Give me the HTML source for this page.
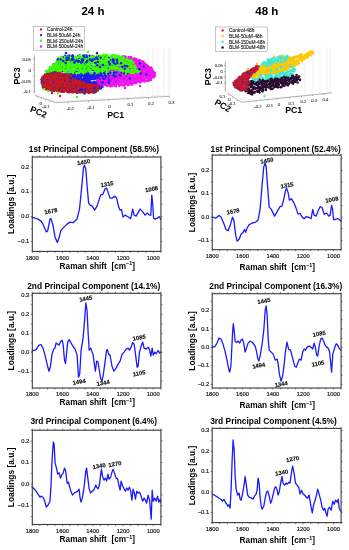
<!DOCTYPE html><html><head><meta charset="utf-8"><style>html,body{margin:0;padding:0;background:#fff;width:349px;height:550px;overflow:hidden}svg{display:block}</style></head><body><svg width="349" height="550" viewBox="0 0 349 550" font-family='"Liberation Sans", Arial, sans-serif'>
<rect width="349" height="550" fill="#fff"/>
<text x="92.90" y="15.40" font-size="11.5" font-weight="bold" text-anchor="middle" fill="#000">24 h</text>
<text x="266.80" y="15.30" font-size="11.5" font-weight="bold" text-anchor="middle" fill="#000">48 h</text>
<g stroke="#e4e4e4" stroke-width="0.5" fill="none">
<line x1="147.9" y1="48" x2="147.9" y2="96"/>
<line x1="152.9" y1="48" x2="152.9" y2="96"/>
<line x1="157.9" y1="48" x2="157.9" y2="96"/>
<line x1="163.7" y1="48" x2="163.7" y2="96"/>
<line x1="168.7" y1="48" x2="168.7" y2="96"/>
<path d="M34.4,55 L34.4,93 L55,101.5 L170,95 L170,48"/>
</g>
<g stroke="#666" stroke-width="0.5" fill="none"><path d="M34.4,55.5 L34.4,93.5 M34.8,95.3 L55.4,102.6 L169.6,96.3"/></g>
<path d="M68.0,101.9 l0,1.6 M88.6,100.8 l0,1.6 M108.5,99.7 l0,1.6 M128.1,98.6 l0,1.6 M148.6,97.5 l0,1.6 M169.2,96.3 l0,1.6 M37.3,96.1 l-0.6,1.5 M41.6,97.6 l-0.6,1.5 M46.0,99.2 l-0.6,1.5 M50.2,100.7 l-0.6,1.5 M34.4,59.1 l-1.4,0 M34.4,64.7 l-1.4,0 M34.4,70.3 l-1.4,0 M34.4,75.7 l-1.4,0 M34.4,81.1 l-1.4,0 M34.4,86.2 l-1.4,0 M34.4,91.4 l-1.4,0" stroke="#777" stroke-width="0.45" fill="none"/>
<text x="31.00" y="60.60" font-size="4.4" text-anchor="end" fill="#333" stroke="#333" stroke-width="0.08">0.05</text>
<text x="31.00" y="71.80" font-size="4.4" text-anchor="end" fill="#333" stroke="#333" stroke-width="0.08">0</text>
<text x="31.00" y="82.60" font-size="4.4" text-anchor="end" fill="#333" stroke="#333" stroke-width="0.08">-0.05</text>
<text x="31.00" y="92.90" font-size="4.4" text-anchor="end" fill="#333" stroke="#333" stroke-width="0.08">-0.1</text>
<text x="70.30" y="110.30" font-size="4.4" text-anchor="middle" fill="#333" stroke="#333" stroke-width="0.08">-0.2</text>
<text x="91.00" y="109.30" font-size="4.4" text-anchor="middle" fill="#333" stroke="#333" stroke-width="0.08">-0.1</text>
<text x="109.50" y="107.80" font-size="4.4" text-anchor="middle" fill="#333" stroke="#333" stroke-width="0.08">0</text>
<text x="130.50" y="106.40" font-size="4.4" text-anchor="middle" fill="#333" stroke="#333" stroke-width="0.08">0.1</text>
<text x="151.00" y="105.30" font-size="4.4" text-anchor="middle" fill="#333" stroke="#333" stroke-width="0.08">0.2</text>
<text x="171.50" y="104.30" font-size="4.4" text-anchor="middle" fill="#333" stroke="#333" stroke-width="0.08">0.3</text>
<text x="40.80" y="104.50" font-size="4.4" text-anchor="middle" fill="#333" stroke="#333" stroke-width="0.08">0</text>
<text x="46.00" y="108.00" font-size="4.4" text-anchor="middle" fill="#333" stroke="#333" stroke-width="0.08">-0.1</text>
<text x="17.10" y="76.00" font-size="8.8" font-weight="bold" text-anchor="middle" fill="#000" transform="rotate(-90 17.10 76.00)" dominant-baseline="central">PC3</text>
<text x="38.50" y="112.00" font-size="8.8" font-weight="bold" text-anchor="middle" fill="#000" transform="rotate(22 38.50 112.00)" dominant-baseline="central">PC2</text>
<text x="115.70" y="115.00" font-size="8.8" font-weight="bold" text-anchor="middle" fill="#000" dominant-baseline="central">PC1</text>
<circle cx="65.3" cy="55.7" r="1.25" fill="#1c1cec"/>
<circle cx="72.6" cy="55.4" r="1.25" fill="#1c1cec"/>
<circle cx="79.7" cy="55.5" r="1.25" fill="#1c1cec"/>
<circle cx="83.7" cy="55.5" r="1.25" fill="#1c1cec"/>
<circle cx="86.4" cy="55.6" r="1.25" fill="#1c1cec"/>
<circle cx="92.5" cy="55.9" r="1.25" fill="#1c1cec"/>
<circle cx="98.8" cy="56.0" r="1.25" fill="#1c1cec"/>
<circle cx="61.1" cy="57.7" r="1.25" fill="#1c1cec"/>
<circle cx="62.9" cy="56.9" r="1.25" fill="#1c1cec"/>
<circle cx="63.7" cy="57.6" r="1.25" fill="#1c1cec"/>
<circle cx="67.5" cy="57.3" r="1.25" fill="#1c1cec"/>
<circle cx="68.3" cy="55.7" r="1.25" fill="#1c1cec"/>
<circle cx="69.5" cy="55.7" r="1.25" fill="#1c1cec"/>
<circle cx="71.6" cy="56.3" r="1.25" fill="#1c1cec"/>
<circle cx="73.1" cy="55.9" r="1.25" fill="#1c1cec"/>
<circle cx="78.3" cy="55.9" r="1.25" fill="#1c1cec"/>
<circle cx="79.6" cy="56.3" r="1.25" fill="#1c1cec"/>
<circle cx="82.6" cy="57.8" r="1.25" fill="#1c1cec"/>
<circle cx="83.7" cy="55.7" r="1.25" fill="#1c1cec"/>
<circle cx="85.3" cy="56.1" r="1.25" fill="#1c1cec"/>
<circle cx="89.5" cy="55.8" r="1.25" fill="#1c1cec"/>
<circle cx="94.1" cy="57.1" r="1.25" fill="#1c1cec"/>
<circle cx="97.7" cy="56.7" r="1.25" fill="#1c1cec"/>
<circle cx="98.6" cy="56.0" r="1.25" fill="#1c1cec"/>
<circle cx="102.0" cy="57.5" r="1.25" fill="#1c1cec"/>
<circle cx="103.5" cy="57.2" r="1.25" fill="#1c1cec"/>
<circle cx="104.7" cy="56.3" r="1.25" fill="#1c1cec"/>
<circle cx="105.5" cy="56.2" r="1.25" fill="#1c1cec"/>
<circle cx="108.9" cy="57.7" r="1.25" fill="#1c1cec"/>
<circle cx="60.9" cy="59.0" r="1.25" fill="#1c1cec"/>
<circle cx="62.6" cy="59.4" r="1.25" fill="#1c1cec"/>
<circle cx="63.5" cy="58.4" r="1.25" fill="#1c1cec"/>
<circle cx="64.6" cy="59.4" r="1.25" fill="#1c1cec"/>
<circle cx="67.7" cy="59.3" r="1.25" fill="#1c1cec"/>
<circle cx="70.3" cy="59.0" r="1.25" fill="#1c1cec"/>
<circle cx="70.8" cy="57.8" r="1.25" fill="#1c1cec"/>
<circle cx="73.5" cy="57.8" r="1.25" fill="#1c1cec"/>
<circle cx="74.4" cy="59.2" r="1.25" fill="#1c1cec"/>
<circle cx="78.8" cy="59.3" r="1.25" fill="#1c1cec"/>
<circle cx="81.0" cy="58.4" r="1.25" fill="#1c1cec"/>
<circle cx="82.7" cy="57.6" r="1.25" fill="#1c1cec"/>
<circle cx="85.4" cy="57.6" r="1.25" fill="#1c1cec"/>
<circle cx="87.1" cy="58.4" r="1.25" fill="#1c1cec"/>
<circle cx="88.5" cy="58.4" r="1.25" fill="#1c1cec"/>
<circle cx="89.5" cy="58.4" r="1.25" fill="#1c1cec"/>
<circle cx="91.8" cy="58.9" r="1.25" fill="#1c1cec"/>
<circle cx="96.0" cy="58.6" r="1.25" fill="#1c1cec"/>
<circle cx="98.0" cy="58.7" r="1.25" fill="#1c1cec"/>
<circle cx="106.4" cy="57.5" r="1.25" fill="#1c1cec"/>
<circle cx="107.4" cy="57.3" r="1.25" fill="#1c1cec"/>
<circle cx="108.4" cy="58.7" r="1.25" fill="#1c1cec"/>
<circle cx="112.2" cy="57.5" r="1.25" fill="#1c1cec"/>
<circle cx="58.1" cy="59.4" r="1.25" fill="#1c1cec"/>
<circle cx="61.6" cy="59.4" r="1.25" fill="#1c1cec"/>
<circle cx="62.7" cy="60.9" r="1.25" fill="#1c1cec"/>
<circle cx="66.8" cy="60.4" r="1.25" fill="#1c1cec"/>
<circle cx="67.5" cy="60.4" r="1.25" fill="#1c1cec"/>
<circle cx="69.5" cy="61.0" r="1.25" fill="#1c1cec"/>
<circle cx="73.3" cy="60.8" r="1.25" fill="#1c1cec"/>
<circle cx="77.5" cy="59.1" r="1.25" fill="#1c1cec"/>
<circle cx="79.4" cy="59.1" r="1.25" fill="#1c1cec"/>
<circle cx="80.8" cy="59.3" r="1.25" fill="#1c1cec"/>
<circle cx="83.3" cy="60.6" r="1.25" fill="#1c1cec"/>
<circle cx="85.7" cy="59.2" r="1.25" fill="#1c1cec"/>
<circle cx="86.5" cy="59.4" r="1.25" fill="#1c1cec"/>
<circle cx="90.0" cy="60.1" r="1.25" fill="#1c1cec"/>
<circle cx="91.3" cy="60.9" r="1.25" fill="#1c1cec"/>
<circle cx="94.0" cy="59.8" r="1.25" fill="#1c1cec"/>
<circle cx="95.9" cy="59.7" r="1.25" fill="#1c1cec"/>
<circle cx="97.5" cy="61.1" r="1.25" fill="#1c1cec"/>
<circle cx="99.7" cy="60.4" r="1.25" fill="#1c1cec"/>
<circle cx="100.6" cy="59.6" r="1.25" fill="#1c1cec"/>
<circle cx="101.9" cy="59.0" r="1.25" fill="#1c1cec"/>
<circle cx="104.1" cy="59.2" r="1.25" fill="#1c1cec"/>
<circle cx="107.3" cy="60.8" r="1.25" fill="#1c1cec"/>
<circle cx="108.0" cy="59.4" r="1.25" fill="#1c1cec"/>
<circle cx="110.3" cy="59.2" r="1.25" fill="#1c1cec"/>
<circle cx="115.6" cy="59.6" r="1.25" fill="#1c1cec"/>
<circle cx="57.1" cy="61.4" r="1.25" fill="#1c1cec"/>
<circle cx="59.2" cy="60.8" r="1.25" fill="#1c1cec"/>
<circle cx="60.3" cy="60.6" r="1.25" fill="#1c1cec"/>
<circle cx="62.8" cy="61.9" r="1.25" fill="#1c1cec"/>
<circle cx="64.5" cy="60.8" r="1.25" fill="#1c1cec"/>
<circle cx="65.7" cy="62.4" r="1.25" fill="#1c1cec"/>
<circle cx="69.9" cy="62.1" r="1.25" fill="#1c1cec"/>
<circle cx="70.3" cy="60.8" r="1.25" fill="#1c1cec"/>
<circle cx="72.4" cy="62.4" r="1.25" fill="#1c1cec"/>
<circle cx="75.5" cy="61.9" r="1.25" fill="#1c1cec"/>
<circle cx="77.1" cy="60.5" r="1.25" fill="#1c1cec"/>
<circle cx="79.6" cy="61.6" r="1.25" fill="#1c1cec"/>
<circle cx="81.3" cy="60.6" r="1.25" fill="#1c1cec"/>
<circle cx="82.2" cy="60.6" r="1.25" fill="#1c1cec"/>
<circle cx="85.2" cy="60.9" r="1.25" fill="#1c1cec"/>
<circle cx="87.7" cy="61.6" r="1.25" fill="#1c1cec"/>
<circle cx="88.5" cy="62.0" r="1.25" fill="#1c1cec"/>
<circle cx="90.7" cy="61.9" r="1.25" fill="#1c1cec"/>
<circle cx="91.5" cy="61.1" r="1.25" fill="#1c1cec"/>
<circle cx="93.8" cy="61.8" r="1.25" fill="#1c1cec"/>
<circle cx="95.1" cy="61.1" r="1.25" fill="#1c1cec"/>
<circle cx="98.4" cy="62.0" r="1.25" fill="#1c1cec"/>
<circle cx="99.9" cy="61.5" r="1.25" fill="#1c1cec"/>
<circle cx="100.9" cy="62.5" r="1.25" fill="#1c1cec"/>
<circle cx="104.8" cy="62.6" r="1.25" fill="#1c1cec"/>
<circle cx="107.4" cy="61.1" r="1.25" fill="#1c1cec"/>
<circle cx="110.4" cy="61.0" r="1.25" fill="#1c1cec"/>
<circle cx="112.4" cy="62.3" r="1.25" fill="#1c1cec"/>
<circle cx="116.0" cy="62.1" r="1.25" fill="#1c1cec"/>
<circle cx="55.7" cy="64.2" r="1.25" fill="#1c1cec"/>
<circle cx="59.3" cy="62.9" r="1.25" fill="#1c1cec"/>
<circle cx="60.4" cy="62.2" r="1.25" fill="#1c1cec"/>
<circle cx="64.2" cy="62.7" r="1.25" fill="#1c1cec"/>
<circle cx="69.4" cy="64.0" r="1.25" fill="#1c1cec"/>
<circle cx="71.4" cy="64.3" r="1.25" fill="#1c1cec"/>
<circle cx="72.9" cy="62.2" r="1.25" fill="#1c1cec"/>
<circle cx="74.1" cy="63.8" r="1.25" fill="#1c1cec"/>
<circle cx="77.2" cy="63.2" r="1.25" fill="#1c1cec"/>
<circle cx="81.3" cy="63.6" r="1.25" fill="#1c1cec"/>
<circle cx="83.9" cy="63.0" r="1.25" fill="#1c1cec"/>
<circle cx="90.6" cy="63.2" r="1.25" fill="#1c1cec"/>
<circle cx="90.6" cy="62.3" r="1.25" fill="#1c1cec"/>
<circle cx="92.3" cy="62.7" r="1.25" fill="#1c1cec"/>
<circle cx="95.3" cy="64.1" r="1.25" fill="#1c1cec"/>
<circle cx="96.9" cy="63.1" r="1.25" fill="#1c1cec"/>
<circle cx="98.7" cy="62.9" r="1.25" fill="#1c1cec"/>
<circle cx="100.3" cy="64.3" r="1.25" fill="#1c1cec"/>
<circle cx="104.0" cy="62.7" r="1.25" fill="#1c1cec"/>
<circle cx="109.2" cy="64.1" r="1.25" fill="#1c1cec"/>
<circle cx="112.2" cy="63.5" r="1.25" fill="#1c1cec"/>
<circle cx="113.9" cy="64.2" r="1.25" fill="#1c1cec"/>
<circle cx="53.4" cy="65.2" r="1.25" fill="#1c1cec"/>
<circle cx="53.5" cy="64.4" r="1.25" fill="#1c1cec"/>
<circle cx="56.7" cy="64.0" r="1.25" fill="#1c1cec"/>
<circle cx="58.2" cy="65.1" r="1.25" fill="#1c1cec"/>
<circle cx="59.4" cy="65.1" r="1.25" fill="#1c1cec"/>
<circle cx="64.1" cy="65.8" r="1.25" fill="#1c1cec"/>
<circle cx="68.1" cy="64.5" r="1.25" fill="#1c1cec"/>
<circle cx="69.5" cy="65.3" r="1.25" fill="#1c1cec"/>
<circle cx="72.7" cy="63.9" r="1.25" fill="#1c1cec"/>
<circle cx="75.0" cy="65.3" r="1.25" fill="#1c1cec"/>
<circle cx="77.8" cy="65.5" r="1.25" fill="#1c1cec"/>
<circle cx="78.3" cy="66.0" r="1.25" fill="#1c1cec"/>
<circle cx="81.6" cy="64.3" r="1.25" fill="#1c1cec"/>
<circle cx="84.7" cy="64.2" r="1.25" fill="#1c1cec"/>
<circle cx="87.7" cy="64.7" r="1.25" fill="#1c1cec"/>
<circle cx="91.5" cy="64.1" r="1.25" fill="#1c1cec"/>
<circle cx="97.1" cy="64.5" r="1.25" fill="#1c1cec"/>
<circle cx="99.0" cy="65.5" r="1.25" fill="#1c1cec"/>
<circle cx="100.3" cy="64.6" r="1.25" fill="#1c1cec"/>
<circle cx="101.4" cy="64.2" r="1.25" fill="#1c1cec"/>
<circle cx="104.7" cy="66.0" r="1.25" fill="#1c1cec"/>
<circle cx="107.2" cy="65.7" r="1.25" fill="#1c1cec"/>
<circle cx="109.2" cy="63.9" r="1.25" fill="#1c1cec"/>
<circle cx="111.0" cy="65.9" r="1.25" fill="#1c1cec"/>
<circle cx="112.9" cy="65.8" r="1.25" fill="#1c1cec"/>
<circle cx="114.9" cy="65.6" r="1.25" fill="#1c1cec"/>
<circle cx="116.0" cy="63.9" r="1.25" fill="#1c1cec"/>
<circle cx="55.6" cy="67.6" r="1.25" fill="#1c1cec"/>
<circle cx="60.1" cy="66.3" r="1.25" fill="#1c1cec"/>
<circle cx="62.1" cy="67.3" r="1.25" fill="#1c1cec"/>
<circle cx="65.5" cy="67.2" r="1.25" fill="#1c1cec"/>
<circle cx="66.3" cy="66.2" r="1.25" fill="#1c1cec"/>
<circle cx="69.2" cy="65.6" r="1.25" fill="#1c1cec"/>
<circle cx="71.0" cy="66.0" r="1.25" fill="#1c1cec"/>
<circle cx="71.3" cy="66.7" r="1.25" fill="#1c1cec"/>
<circle cx="75.6" cy="65.6" r="1.25" fill="#1c1cec"/>
<circle cx="78.0" cy="67.0" r="1.25" fill="#1c1cec"/>
<circle cx="79.3" cy="66.4" r="1.25" fill="#1c1cec"/>
<circle cx="82.2" cy="67.1" r="1.25" fill="#1c1cec"/>
<circle cx="84.1" cy="65.7" r="1.25" fill="#1c1cec"/>
<circle cx="85.2" cy="66.7" r="1.25" fill="#1c1cec"/>
<circle cx="88.1" cy="65.9" r="1.25" fill="#1c1cec"/>
<circle cx="91.5" cy="66.2" r="1.25" fill="#1c1cec"/>
<circle cx="94.4" cy="66.6" r="1.25" fill="#1c1cec"/>
<circle cx="96.1" cy="66.5" r="1.25" fill="#1c1cec"/>
<circle cx="99.7" cy="67.5" r="1.25" fill="#1c1cec"/>
<circle cx="100.4" cy="65.7" r="1.25" fill="#1c1cec"/>
<circle cx="104.4" cy="67.4" r="1.25" fill="#1c1cec"/>
<circle cx="107.6" cy="66.8" r="1.25" fill="#1c1cec"/>
<circle cx="109.7" cy="66.3" r="1.25" fill="#1c1cec"/>
<circle cx="111.6" cy="66.0" r="1.25" fill="#1c1cec"/>
<circle cx="114.5" cy="65.9" r="1.25" fill="#1c1cec"/>
<circle cx="50.9" cy="68.0" r="1.25" fill="#1c1cec"/>
<circle cx="52.0" cy="69.3" r="1.25" fill="#1c1cec"/>
<circle cx="54.5" cy="67.9" r="1.25" fill="#1c1cec"/>
<circle cx="57.0" cy="69.4" r="1.25" fill="#1c1cec"/>
<circle cx="57.4" cy="68.7" r="1.25" fill="#1c1cec"/>
<circle cx="58.9" cy="69.1" r="1.25" fill="#1c1cec"/>
<circle cx="63.7" cy="67.5" r="1.25" fill="#1c1cec"/>
<circle cx="66.7" cy="68.5" r="1.25" fill="#1c1cec"/>
<circle cx="69.5" cy="67.4" r="1.25" fill="#1c1cec"/>
<circle cx="71.4" cy="69.2" r="1.25" fill="#1c1cec"/>
<circle cx="78.2" cy="68.2" r="1.25" fill="#1c1cec"/>
<circle cx="81.2" cy="69.0" r="1.25" fill="#1c1cec"/>
<circle cx="83.5" cy="67.6" r="1.25" fill="#1c1cec"/>
<circle cx="85.5" cy="69.0" r="1.25" fill="#1c1cec"/>
<circle cx="86.0" cy="68.0" r="1.25" fill="#1c1cec"/>
<circle cx="88.2" cy="67.4" r="1.25" fill="#1c1cec"/>
<circle cx="90.9" cy="69.1" r="1.25" fill="#1c1cec"/>
<circle cx="92.4" cy="68.8" r="1.25" fill="#1c1cec"/>
<circle cx="95.0" cy="67.4" r="1.25" fill="#1c1cec"/>
<circle cx="96.2" cy="68.5" r="1.25" fill="#1c1cec"/>
<circle cx="97.8" cy="68.4" r="1.25" fill="#1c1cec"/>
<circle cx="100.3" cy="68.1" r="1.25" fill="#1c1cec"/>
<circle cx="100.7" cy="68.5" r="1.25" fill="#1c1cec"/>
<circle cx="103.1" cy="68.8" r="1.25" fill="#1c1cec"/>
<circle cx="105.5" cy="67.5" r="1.25" fill="#1c1cec"/>
<circle cx="106.6" cy="67.4" r="1.25" fill="#1c1cec"/>
<circle cx="108.5" cy="68.1" r="1.25" fill="#1c1cec"/>
<circle cx="110.3" cy="68.5" r="1.25" fill="#1c1cec"/>
<circle cx="113.7" cy="68.9" r="1.25" fill="#1c1cec"/>
<circle cx="114.1" cy="68.2" r="1.25" fill="#1c1cec"/>
<circle cx="50.5" cy="69.5" r="1.25" fill="#1c1cec"/>
<circle cx="52.6" cy="70.8" r="1.25" fill="#1c1cec"/>
<circle cx="56.0" cy="69.1" r="1.25" fill="#1c1cec"/>
<circle cx="58.1" cy="69.2" r="1.25" fill="#1c1cec"/>
<circle cx="59.1" cy="69.5" r="1.25" fill="#1c1cec"/>
<circle cx="63.3" cy="70.8" r="1.25" fill="#1c1cec"/>
<circle cx="65.4" cy="69.0" r="1.25" fill="#1c1cec"/>
<circle cx="69.5" cy="71.0" r="1.25" fill="#1c1cec"/>
<circle cx="72.1" cy="70.6" r="1.25" fill="#1c1cec"/>
<circle cx="75.4" cy="70.1" r="1.25" fill="#1c1cec"/>
<circle cx="76.8" cy="69.7" r="1.25" fill="#1c1cec"/>
<circle cx="78.6" cy="68.8" r="1.25" fill="#1c1cec"/>
<circle cx="82.0" cy="70.3" r="1.25" fill="#1c1cec"/>
<circle cx="82.6" cy="68.8" r="1.25" fill="#1c1cec"/>
<circle cx="85.9" cy="69.7" r="1.25" fill="#1c1cec"/>
<circle cx="88.5" cy="69.0" r="1.25" fill="#1c1cec"/>
<circle cx="89.8" cy="68.8" r="1.25" fill="#1c1cec"/>
<circle cx="91.0" cy="69.0" r="1.25" fill="#1c1cec"/>
<circle cx="92.6" cy="70.1" r="1.25" fill="#1c1cec"/>
<circle cx="94.5" cy="70.2" r="1.25" fill="#1c1cec"/>
<circle cx="96.2" cy="70.9" r="1.25" fill="#1c1cec"/>
<circle cx="98.2" cy="69.0" r="1.25" fill="#1c1cec"/>
<circle cx="101.7" cy="70.5" r="1.25" fill="#1c1cec"/>
<circle cx="102.2" cy="68.8" r="1.25" fill="#1c1cec"/>
<circle cx="104.8" cy="69.5" r="1.25" fill="#1c1cec"/>
<circle cx="106.4" cy="70.9" r="1.25" fill="#1c1cec"/>
<circle cx="107.9" cy="70.8" r="1.25" fill="#1c1cec"/>
<circle cx="110.4" cy="69.7" r="1.25" fill="#1c1cec"/>
<circle cx="111.2" cy="70.5" r="1.25" fill="#1c1cec"/>
<circle cx="114.3" cy="70.9" r="1.25" fill="#1c1cec"/>
<circle cx="47.3" cy="72.0" r="1.25" fill="#1c1cec"/>
<circle cx="49.4" cy="72.1" r="1.25" fill="#1c1cec"/>
<circle cx="51.1" cy="71.4" r="1.25" fill="#1c1cec"/>
<circle cx="51.5" cy="70.9" r="1.25" fill="#1c1cec"/>
<circle cx="53.9" cy="72.1" r="1.25" fill="#1c1cec"/>
<circle cx="57.0" cy="72.0" r="1.25" fill="#1c1cec"/>
<circle cx="58.2" cy="71.4" r="1.25" fill="#1c1cec"/>
<circle cx="60.1" cy="71.0" r="1.25" fill="#1c1cec"/>
<circle cx="62.7" cy="71.0" r="1.25" fill="#1c1cec"/>
<circle cx="66.3" cy="72.5" r="1.25" fill="#1c1cec"/>
<circle cx="67.2" cy="72.4" r="1.25" fill="#1c1cec"/>
<circle cx="68.9" cy="72.5" r="1.25" fill="#1c1cec"/>
<circle cx="73.2" cy="72.3" r="1.25" fill="#1c1cec"/>
<circle cx="76.0" cy="71.4" r="1.25" fill="#1c1cec"/>
<circle cx="77.3" cy="71.1" r="1.25" fill="#1c1cec"/>
<circle cx="80.1" cy="70.5" r="1.25" fill="#1c1cec"/>
<circle cx="83.8" cy="71.2" r="1.25" fill="#1c1cec"/>
<circle cx="83.6" cy="70.5" r="1.25" fill="#1c1cec"/>
<circle cx="86.9" cy="72.0" r="1.25" fill="#1c1cec"/>
<circle cx="87.5" cy="71.7" r="1.25" fill="#1c1cec"/>
<circle cx="95.2" cy="70.6" r="1.25" fill="#1c1cec"/>
<circle cx="95.2" cy="70.5" r="1.25" fill="#1c1cec"/>
<circle cx="98.7" cy="71.8" r="1.25" fill="#1c1cec"/>
<circle cx="100.2" cy="71.0" r="1.25" fill="#1c1cec"/>
<circle cx="100.9" cy="72.1" r="1.25" fill="#1c1cec"/>
<circle cx="103.3" cy="71.4" r="1.25" fill="#1c1cec"/>
<circle cx="105.0" cy="71.0" r="1.25" fill="#1c1cec"/>
<circle cx="109.4" cy="72.3" r="1.25" fill="#1c1cec"/>
<circle cx="110.2" cy="71.3" r="1.25" fill="#1c1cec"/>
<circle cx="113.8" cy="71.2" r="1.25" fill="#1c1cec"/>
<circle cx="46.3" cy="74.3" r="1.25" fill="#1c1cec"/>
<circle cx="47.6" cy="73.2" r="1.25" fill="#1c1cec"/>
<circle cx="48.8" cy="73.2" r="1.25" fill="#1c1cec"/>
<circle cx="52.9" cy="72.5" r="1.25" fill="#1c1cec"/>
<circle cx="55.2" cy="72.3" r="1.25" fill="#1c1cec"/>
<circle cx="56.2" cy="73.8" r="1.25" fill="#1c1cec"/>
<circle cx="59.7" cy="73.5" r="1.25" fill="#1c1cec"/>
<circle cx="61.9" cy="74.1" r="1.25" fill="#1c1cec"/>
<circle cx="67.9" cy="73.1" r="1.25" fill="#1c1cec"/>
<circle cx="71.0" cy="73.8" r="1.25" fill="#1c1cec"/>
<circle cx="72.0" cy="72.8" r="1.25" fill="#1c1cec"/>
<circle cx="75.0" cy="73.6" r="1.25" fill="#1c1cec"/>
<circle cx="75.4" cy="73.0" r="1.25" fill="#1c1cec"/>
<circle cx="78.2" cy="72.3" r="1.25" fill="#1c1cec"/>
<circle cx="80.8" cy="72.6" r="1.25" fill="#1c1cec"/>
<circle cx="81.4" cy="73.6" r="1.25" fill="#1c1cec"/>
<circle cx="83.0" cy="72.4" r="1.25" fill="#1c1cec"/>
<circle cx="85.3" cy="73.2" r="1.25" fill="#1c1cec"/>
<circle cx="93.9" cy="73.7" r="1.25" fill="#1c1cec"/>
<circle cx="94.5" cy="73.5" r="1.25" fill="#1c1cec"/>
<circle cx="96.4" cy="72.9" r="1.25" fill="#1c1cec"/>
<circle cx="98.7" cy="73.8" r="1.25" fill="#1c1cec"/>
<circle cx="100.9" cy="73.5" r="1.25" fill="#1c1cec"/>
<circle cx="101.9" cy="73.4" r="1.25" fill="#1c1cec"/>
<circle cx="105.2" cy="74.1" r="1.25" fill="#1c1cec"/>
<circle cx="106.7" cy="73.8" r="1.25" fill="#1c1cec"/>
<circle cx="112.7" cy="73.5" r="1.25" fill="#1c1cec"/>
<circle cx="45.1" cy="74.6" r="1.25" fill="#1c1cec"/>
<circle cx="47.7" cy="74.1" r="1.25" fill="#1c1cec"/>
<circle cx="49.2" cy="74.6" r="1.25" fill="#1c1cec"/>
<circle cx="51.6" cy="73.8" r="1.25" fill="#1c1cec"/>
<circle cx="54.3" cy="73.9" r="1.25" fill="#1c1cec"/>
<circle cx="56.3" cy="75.3" r="1.25" fill="#1c1cec"/>
<circle cx="58.4" cy="75.6" r="1.25" fill="#1c1cec"/>
<circle cx="59.8" cy="75.9" r="1.25" fill="#1c1cec"/>
<circle cx="62.3" cy="74.6" r="1.25" fill="#1c1cec"/>
<circle cx="62.9" cy="75.9" r="1.25" fill="#1c1cec"/>
<circle cx="64.7" cy="74.3" r="1.25" fill="#1c1cec"/>
<circle cx="66.5" cy="74.7" r="1.25" fill="#1c1cec"/>
<circle cx="70.0" cy="74.5" r="1.25" fill="#1c1cec"/>
<circle cx="73.4" cy="74.2" r="1.25" fill="#1c1cec"/>
<circle cx="75.0" cy="74.2" r="1.25" fill="#1c1cec"/>
<circle cx="77.7" cy="75.5" r="1.25" fill="#1c1cec"/>
<circle cx="78.9" cy="75.0" r="1.25" fill="#1c1cec"/>
<circle cx="82.0" cy="74.5" r="1.25" fill="#1c1cec"/>
<circle cx="83.5" cy="75.6" r="1.25" fill="#1c1cec"/>
<circle cx="84.2" cy="74.9" r="1.25" fill="#1c1cec"/>
<circle cx="88.0" cy="74.6" r="1.25" fill="#1c1cec"/>
<circle cx="90.2" cy="74.1" r="1.25" fill="#1c1cec"/>
<circle cx="92.8" cy="74.3" r="1.25" fill="#1c1cec"/>
<circle cx="93.7" cy="74.8" r="1.25" fill="#1c1cec"/>
<circle cx="96.4" cy="75.2" r="1.25" fill="#1c1cec"/>
<circle cx="99.0" cy="75.6" r="1.25" fill="#1c1cec"/>
<circle cx="100.6" cy="75.8" r="1.25" fill="#1c1cec"/>
<circle cx="101.0" cy="75.6" r="1.25" fill="#1c1cec"/>
<circle cx="106.0" cy="74.3" r="1.25" fill="#1c1cec"/>
<circle cx="106.7" cy="74.2" r="1.25" fill="#1c1cec"/>
<circle cx="43.9" cy="77.0" r="1.25" fill="#1c1cec"/>
<circle cx="46.6" cy="76.6" r="1.25" fill="#1c1cec"/>
<circle cx="47.0" cy="75.7" r="1.25" fill="#1c1cec"/>
<circle cx="48.5" cy="76.4" r="1.25" fill="#1c1cec"/>
<circle cx="51.4" cy="76.5" r="1.25" fill="#1c1cec"/>
<circle cx="54.2" cy="75.4" r="1.25" fill="#1c1cec"/>
<circle cx="55.2" cy="76.6" r="1.25" fill="#1c1cec"/>
<circle cx="57.9" cy="76.2" r="1.25" fill="#1c1cec"/>
<circle cx="60.1" cy="75.5" r="1.25" fill="#1c1cec"/>
<circle cx="61.3" cy="75.4" r="1.25" fill="#1c1cec"/>
<circle cx="63.3" cy="77.5" r="1.25" fill="#1c1cec"/>
<circle cx="65.8" cy="76.5" r="1.25" fill="#1c1cec"/>
<circle cx="67.6" cy="75.4" r="1.25" fill="#1c1cec"/>
<circle cx="70.1" cy="76.4" r="1.25" fill="#1c1cec"/>
<circle cx="73.0" cy="75.8" r="1.25" fill="#1c1cec"/>
<circle cx="74.1" cy="76.6" r="1.25" fill="#1c1cec"/>
<circle cx="75.7" cy="77.2" r="1.25" fill="#1c1cec"/>
<circle cx="78.1" cy="76.0" r="1.25" fill="#1c1cec"/>
<circle cx="81.0" cy="76.8" r="1.25" fill="#1c1cec"/>
<circle cx="81.5" cy="76.1" r="1.25" fill="#1c1cec"/>
<circle cx="83.9" cy="76.8" r="1.25" fill="#1c1cec"/>
<circle cx="87.7" cy="75.5" r="1.25" fill="#1c1cec"/>
<circle cx="91.6" cy="76.8" r="1.25" fill="#1c1cec"/>
<circle cx="94.2" cy="76.7" r="1.25" fill="#1c1cec"/>
<circle cx="95.4" cy="76.9" r="1.25" fill="#1c1cec"/>
<circle cx="97.5" cy="75.8" r="1.25" fill="#1c1cec"/>
<circle cx="98.9" cy="77.1" r="1.25" fill="#1c1cec"/>
<circle cx="100.1" cy="75.4" r="1.25" fill="#1c1cec"/>
<circle cx="103.7" cy="76.8" r="1.25" fill="#1c1cec"/>
<circle cx="105.4" cy="77.1" r="1.25" fill="#1c1cec"/>
<circle cx="106.0" cy="76.0" r="1.25" fill="#1c1cec"/>
<circle cx="108.0" cy="76.3" r="1.25" fill="#1c1cec"/>
<circle cx="111.3" cy="75.5" r="1.25" fill="#1c1cec"/>
<circle cx="111.2" cy="75.6" r="1.25" fill="#1c1cec"/>
<circle cx="42.0" cy="79.2" r="1.25" fill="#1c1cec"/>
<circle cx="42.7" cy="77.2" r="1.25" fill="#1c1cec"/>
<circle cx="44.1" cy="77.3" r="1.25" fill="#1c1cec"/>
<circle cx="45.6" cy="78.6" r="1.25" fill="#1c1cec"/>
<circle cx="49.7" cy="77.0" r="1.25" fill="#1c1cec"/>
<circle cx="51.8" cy="78.7" r="1.25" fill="#1c1cec"/>
<circle cx="53.3" cy="78.8" r="1.25" fill="#1c1cec"/>
<circle cx="57.0" cy="78.7" r="1.25" fill="#1c1cec"/>
<circle cx="58.4" cy="78.6" r="1.25" fill="#1c1cec"/>
<circle cx="62.4" cy="77.0" r="1.25" fill="#1c1cec"/>
<circle cx="64.1" cy="78.9" r="1.25" fill="#1c1cec"/>
<circle cx="65.3" cy="78.7" r="1.25" fill="#1c1cec"/>
<circle cx="68.4" cy="78.1" r="1.25" fill="#1c1cec"/>
<circle cx="69.2" cy="78.3" r="1.25" fill="#1c1cec"/>
<circle cx="71.8" cy="77.3" r="1.25" fill="#1c1cec"/>
<circle cx="73.0" cy="78.5" r="1.25" fill="#1c1cec"/>
<circle cx="75.0" cy="77.9" r="1.25" fill="#1c1cec"/>
<circle cx="78.1" cy="78.8" r="1.25" fill="#1c1cec"/>
<circle cx="81.4" cy="78.9" r="1.25" fill="#1c1cec"/>
<circle cx="83.0" cy="79.2" r="1.25" fill="#1c1cec"/>
<circle cx="84.9" cy="77.7" r="1.25" fill="#1c1cec"/>
<circle cx="87.5" cy="77.9" r="1.25" fill="#1c1cec"/>
<circle cx="88.7" cy="79.0" r="1.25" fill="#1c1cec"/>
<circle cx="89.9" cy="77.0" r="1.25" fill="#1c1cec"/>
<circle cx="92.1" cy="78.3" r="1.25" fill="#1c1cec"/>
<circle cx="95.1" cy="77.1" r="1.25" fill="#1c1cec"/>
<circle cx="96.8" cy="79.0" r="1.25" fill="#1c1cec"/>
<circle cx="97.5" cy="78.9" r="1.25" fill="#1c1cec"/>
<circle cx="100.3" cy="79.1" r="1.25" fill="#1c1cec"/>
<circle cx="100.9" cy="78.3" r="1.25" fill="#1c1cec"/>
<circle cx="105.0" cy="78.4" r="1.25" fill="#1c1cec"/>
<circle cx="107.4" cy="77.5" r="1.25" fill="#1c1cec"/>
<circle cx="110.0" cy="78.8" r="1.25" fill="#1c1cec"/>
<circle cx="110.4" cy="78.8" r="1.25" fill="#1c1cec"/>
<circle cx="42.2" cy="79.1" r="1.25" fill="#1c1cec"/>
<circle cx="43.1" cy="80.3" r="1.25" fill="#1c1cec"/>
<circle cx="45.9" cy="79.6" r="1.25" fill="#1c1cec"/>
<circle cx="49.3" cy="78.9" r="1.25" fill="#1c1cec"/>
<circle cx="52.1" cy="79.0" r="1.25" fill="#1c1cec"/>
<circle cx="53.0" cy="79.8" r="1.25" fill="#1c1cec"/>
<circle cx="57.1" cy="79.9" r="1.25" fill="#1c1cec"/>
<circle cx="62.3" cy="78.7" r="1.25" fill="#1c1cec"/>
<circle cx="64.0" cy="78.8" r="1.25" fill="#1c1cec"/>
<circle cx="66.8" cy="80.6" r="1.25" fill="#1c1cec"/>
<circle cx="69.6" cy="80.7" r="1.25" fill="#1c1cec"/>
<circle cx="70.7" cy="79.6" r="1.25" fill="#1c1cec"/>
<circle cx="73.4" cy="79.2" r="1.25" fill="#1c1cec"/>
<circle cx="74.6" cy="80.8" r="1.25" fill="#1c1cec"/>
<circle cx="75.9" cy="79.7" r="1.25" fill="#1c1cec"/>
<circle cx="79.1" cy="80.9" r="1.25" fill="#1c1cec"/>
<circle cx="78.9" cy="79.2" r="1.25" fill="#1c1cec"/>
<circle cx="82.8" cy="80.7" r="1.25" fill="#1c1cec"/>
<circle cx="82.7" cy="80.4" r="1.25" fill="#1c1cec"/>
<circle cx="86.0" cy="80.9" r="1.25" fill="#1c1cec"/>
<circle cx="89.9" cy="79.3" r="1.25" fill="#1c1cec"/>
<circle cx="91.9" cy="78.9" r="1.25" fill="#1c1cec"/>
<circle cx="92.7" cy="78.9" r="1.25" fill="#1c1cec"/>
<circle cx="94.4" cy="79.2" r="1.25" fill="#1c1cec"/>
<circle cx="97.5" cy="78.7" r="1.25" fill="#1c1cec"/>
<circle cx="103.6" cy="79.0" r="1.25" fill="#1c1cec"/>
<circle cx="103.7" cy="80.8" r="1.25" fill="#1c1cec"/>
<circle cx="106.8" cy="79.7" r="1.25" fill="#1c1cec"/>
<circle cx="109.2" cy="79.7" r="1.25" fill="#1c1cec"/>
<circle cx="109.5" cy="79.2" r="1.25" fill="#1c1cec"/>
<circle cx="41.8" cy="81.1" r="1.25" fill="#1c1cec"/>
<circle cx="43.9" cy="82.5" r="1.25" fill="#1c1cec"/>
<circle cx="47.6" cy="81.8" r="1.25" fill="#1c1cec"/>
<circle cx="48.5" cy="81.0" r="1.25" fill="#1c1cec"/>
<circle cx="53.5" cy="82.4" r="1.25" fill="#1c1cec"/>
<circle cx="53.8" cy="82.4" r="1.25" fill="#1c1cec"/>
<circle cx="57.0" cy="82.1" r="1.25" fill="#1c1cec"/>
<circle cx="59.2" cy="80.3" r="1.25" fill="#1c1cec"/>
<circle cx="62.0" cy="80.7" r="1.25" fill="#1c1cec"/>
<circle cx="64.7" cy="80.8" r="1.25" fill="#1c1cec"/>
<circle cx="64.9" cy="80.7" r="1.25" fill="#1c1cec"/>
<circle cx="68.1" cy="80.8" r="1.25" fill="#1c1cec"/>
<circle cx="68.6" cy="81.7" r="1.25" fill="#1c1cec"/>
<circle cx="70.9" cy="80.8" r="1.25" fill="#1c1cec"/>
<circle cx="73.8" cy="82.2" r="1.25" fill="#1c1cec"/>
<circle cx="74.5" cy="80.5" r="1.25" fill="#1c1cec"/>
<circle cx="76.9" cy="82.0" r="1.25" fill="#1c1cec"/>
<circle cx="79.7" cy="81.1" r="1.25" fill="#1c1cec"/>
<circle cx="81.7" cy="81.4" r="1.25" fill="#1c1cec"/>
<circle cx="84.2" cy="80.7" r="1.25" fill="#1c1cec"/>
<circle cx="86.3" cy="80.7" r="1.25" fill="#1c1cec"/>
<circle cx="88.7" cy="80.3" r="1.25" fill="#1c1cec"/>
<circle cx="90.3" cy="81.5" r="1.25" fill="#1c1cec"/>
<circle cx="93.8" cy="81.9" r="1.25" fill="#1c1cec"/>
<circle cx="99.0" cy="81.4" r="1.25" fill="#1c1cec"/>
<circle cx="100.0" cy="81.5" r="1.25" fill="#1c1cec"/>
<circle cx="102.9" cy="80.8" r="1.25" fill="#1c1cec"/>
<circle cx="102.8" cy="80.9" r="1.25" fill="#1c1cec"/>
<circle cx="104.5" cy="80.5" r="1.25" fill="#1c1cec"/>
<circle cx="106.8" cy="80.3" r="1.25" fill="#1c1cec"/>
<circle cx="109.6" cy="81.5" r="1.25" fill="#1c1cec"/>
<circle cx="44.9" cy="83.3" r="1.25" fill="#1c1cec"/>
<circle cx="49.3" cy="82.9" r="1.25" fill="#1c1cec"/>
<circle cx="54.0" cy="82.7" r="1.25" fill="#1c1cec"/>
<circle cx="57.8" cy="84.0" r="1.25" fill="#1c1cec"/>
<circle cx="59.8" cy="82.1" r="1.25" fill="#1c1cec"/>
<circle cx="62.0" cy="84.1" r="1.25" fill="#1c1cec"/>
<circle cx="62.7" cy="83.4" r="1.25" fill="#1c1cec"/>
<circle cx="64.8" cy="82.1" r="1.25" fill="#1c1cec"/>
<circle cx="66.7" cy="82.0" r="1.25" fill="#1c1cec"/>
<circle cx="73.2" cy="82.0" r="1.25" fill="#1c1cec"/>
<circle cx="73.7" cy="83.5" r="1.25" fill="#1c1cec"/>
<circle cx="76.2" cy="84.1" r="1.25" fill="#1c1cec"/>
<circle cx="77.5" cy="83.1" r="1.25" fill="#1c1cec"/>
<circle cx="81.0" cy="82.6" r="1.25" fill="#1c1cec"/>
<circle cx="82.2" cy="82.2" r="1.25" fill="#1c1cec"/>
<circle cx="84.8" cy="83.1" r="1.25" fill="#1c1cec"/>
<circle cx="85.6" cy="83.2" r="1.25" fill="#1c1cec"/>
<circle cx="86.7" cy="82.3" r="1.25" fill="#1c1cec"/>
<circle cx="89.2" cy="82.6" r="1.25" fill="#1c1cec"/>
<circle cx="90.4" cy="83.2" r="1.25" fill="#1c1cec"/>
<circle cx="93.5" cy="83.3" r="1.25" fill="#1c1cec"/>
<circle cx="94.5" cy="83.6" r="1.25" fill="#1c1cec"/>
<circle cx="97.2" cy="83.4" r="1.25" fill="#1c1cec"/>
<circle cx="98.5" cy="82.5" r="1.25" fill="#1c1cec"/>
<circle cx="100.9" cy="82.8" r="1.25" fill="#1c1cec"/>
<circle cx="104.1" cy="83.2" r="1.25" fill="#1c1cec"/>
<circle cx="106.1" cy="84.2" r="1.25" fill="#1c1cec"/>
<circle cx="42.5" cy="84.4" r="1.25" fill="#1c1cec"/>
<circle cx="45.1" cy="85.6" r="1.25" fill="#1c1cec"/>
<circle cx="46.7" cy="85.3" r="1.25" fill="#1c1cec"/>
<circle cx="49.2" cy="84.7" r="1.25" fill="#1c1cec"/>
<circle cx="51.0" cy="85.7" r="1.25" fill="#1c1cec"/>
<circle cx="53.2" cy="83.6" r="1.25" fill="#1c1cec"/>
<circle cx="56.4" cy="84.6" r="1.25" fill="#1c1cec"/>
<circle cx="58.9" cy="85.0" r="1.25" fill="#1c1cec"/>
<circle cx="59.9" cy="84.7" r="1.25" fill="#1c1cec"/>
<circle cx="61.4" cy="84.5" r="1.25" fill="#1c1cec"/>
<circle cx="63.5" cy="84.3" r="1.25" fill="#1c1cec"/>
<circle cx="66.5" cy="84.8" r="1.25" fill="#1c1cec"/>
<circle cx="66.9" cy="84.3" r="1.25" fill="#1c1cec"/>
<circle cx="69.7" cy="84.9" r="1.25" fill="#1c1cec"/>
<circle cx="72.4" cy="84.4" r="1.25" fill="#1c1cec"/>
<circle cx="74.1" cy="85.8" r="1.25" fill="#1c1cec"/>
<circle cx="75.0" cy="85.7" r="1.25" fill="#1c1cec"/>
<circle cx="76.1" cy="84.9" r="1.25" fill="#1c1cec"/>
<circle cx="80.0" cy="85.4" r="1.25" fill="#1c1cec"/>
<circle cx="82.0" cy="84.8" r="1.25" fill="#1c1cec"/>
<circle cx="83.2" cy="84.5" r="1.25" fill="#1c1cec"/>
<circle cx="87.0" cy="84.8" r="1.25" fill="#1c1cec"/>
<circle cx="88.2" cy="84.5" r="1.25" fill="#1c1cec"/>
<circle cx="92.3" cy="84.6" r="1.25" fill="#1c1cec"/>
<circle cx="95.3" cy="84.4" r="1.25" fill="#1c1cec"/>
<circle cx="96.8" cy="84.0" r="1.25" fill="#1c1cec"/>
<circle cx="99.1" cy="85.5" r="1.25" fill="#1c1cec"/>
<circle cx="99.0" cy="85.7" r="1.25" fill="#1c1cec"/>
<circle cx="103.5" cy="84.0" r="1.25" fill="#1c1cec"/>
<circle cx="105.6" cy="84.8" r="1.25" fill="#1c1cec"/>
<circle cx="44.0" cy="86.8" r="1.25" fill="#1c1cec"/>
<circle cx="45.7" cy="86.5" r="1.25" fill="#1c1cec"/>
<circle cx="49.7" cy="86.2" r="1.25" fill="#1c1cec"/>
<circle cx="50.7" cy="87.0" r="1.25" fill="#1c1cec"/>
<circle cx="52.4" cy="85.7" r="1.25" fill="#1c1cec"/>
<circle cx="56.0" cy="86.7" r="1.25" fill="#1c1cec"/>
<circle cx="56.2" cy="85.3" r="1.25" fill="#1c1cec"/>
<circle cx="58.6" cy="86.9" r="1.25" fill="#1c1cec"/>
<circle cx="60.2" cy="85.9" r="1.25" fill="#1c1cec"/>
<circle cx="63.8" cy="86.6" r="1.25" fill="#1c1cec"/>
<circle cx="64.6" cy="86.1" r="1.25" fill="#1c1cec"/>
<circle cx="68.4" cy="86.7" r="1.25" fill="#1c1cec"/>
<circle cx="71.9" cy="87.3" r="1.25" fill="#1c1cec"/>
<circle cx="76.1" cy="87.4" r="1.25" fill="#1c1cec"/>
<circle cx="77.8" cy="86.9" r="1.25" fill="#1c1cec"/>
<circle cx="79.5" cy="87.3" r="1.25" fill="#1c1cec"/>
<circle cx="82.5" cy="85.8" r="1.25" fill="#1c1cec"/>
<circle cx="85.2" cy="86.5" r="1.25" fill="#1c1cec"/>
<circle cx="87.6" cy="86.1" r="1.25" fill="#1c1cec"/>
<circle cx="88.5" cy="85.5" r="1.25" fill="#1c1cec"/>
<circle cx="91.0" cy="85.8" r="1.25" fill="#1c1cec"/>
<circle cx="92.8" cy="85.8" r="1.25" fill="#1c1cec"/>
<circle cx="95.5" cy="86.0" r="1.25" fill="#1c1cec"/>
<circle cx="97.5" cy="85.5" r="1.25" fill="#1c1cec"/>
<circle cx="99.7" cy="85.6" r="1.25" fill="#1c1cec"/>
<circle cx="101.6" cy="87.1" r="1.25" fill="#1c1cec"/>
<circle cx="102.4" cy="86.9" r="1.25" fill="#1c1cec"/>
<circle cx="43.0" cy="87.5" r="1.25" fill="#1c1cec"/>
<circle cx="44.5" cy="88.4" r="1.25" fill="#1c1cec"/>
<circle cx="46.3" cy="87.8" r="1.25" fill="#1c1cec"/>
<circle cx="47.9" cy="88.9" r="1.25" fill="#1c1cec"/>
<circle cx="50.9" cy="87.2" r="1.25" fill="#1c1cec"/>
<circle cx="52.1" cy="88.1" r="1.25" fill="#1c1cec"/>
<circle cx="53.3" cy="87.6" r="1.25" fill="#1c1cec"/>
<circle cx="55.3" cy="88.6" r="1.25" fill="#1c1cec"/>
<circle cx="57.9" cy="89.0" r="1.25" fill="#1c1cec"/>
<circle cx="60.9" cy="88.9" r="1.25" fill="#1c1cec"/>
<circle cx="61.4" cy="87.0" r="1.25" fill="#1c1cec"/>
<circle cx="64.2" cy="87.7" r="1.25" fill="#1c1cec"/>
<circle cx="66.1" cy="88.5" r="1.25" fill="#1c1cec"/>
<circle cx="68.4" cy="87.7" r="1.25" fill="#1c1cec"/>
<circle cx="71.9" cy="88.5" r="1.25" fill="#1c1cec"/>
<circle cx="72.3" cy="87.3" r="1.25" fill="#1c1cec"/>
<circle cx="74.8" cy="87.8" r="1.25" fill="#1c1cec"/>
<circle cx="76.7" cy="88.4" r="1.25" fill="#1c1cec"/>
<circle cx="79.8" cy="88.2" r="1.25" fill="#1c1cec"/>
<circle cx="80.3" cy="87.9" r="1.25" fill="#1c1cec"/>
<circle cx="82.5" cy="86.9" r="1.25" fill="#1c1cec"/>
<circle cx="85.3" cy="87.6" r="1.25" fill="#1c1cec"/>
<circle cx="87.4" cy="88.3" r="1.25" fill="#1c1cec"/>
<circle cx="87.9" cy="87.2" r="1.25" fill="#1c1cec"/>
<circle cx="89.7" cy="89.0" r="1.25" fill="#1c1cec"/>
<circle cx="91.4" cy="88.5" r="1.25" fill="#1c1cec"/>
<circle cx="94.8" cy="88.8" r="1.25" fill="#1c1cec"/>
<circle cx="95.2" cy="89.1" r="1.25" fill="#1c1cec"/>
<circle cx="99.0" cy="88.5" r="1.25" fill="#1c1cec"/>
<circle cx="100.7" cy="88.4" r="1.25" fill="#1c1cec"/>
<circle cx="47.1" cy="89.1" r="1.25" fill="#1c1cec"/>
<circle cx="52.5" cy="89.9" r="1.25" fill="#1c1cec"/>
<circle cx="56.0" cy="89.8" r="1.25" fill="#1c1cec"/>
<circle cx="56.4" cy="90.1" r="1.25" fill="#1c1cec"/>
<circle cx="59.0" cy="90.3" r="1.25" fill="#1c1cec"/>
<circle cx="60.1" cy="89.2" r="1.25" fill="#1c1cec"/>
<circle cx="62.2" cy="88.7" r="1.25" fill="#1c1cec"/>
<circle cx="64.1" cy="90.2" r="1.25" fill="#1c1cec"/>
<circle cx="65.8" cy="89.3" r="1.25" fill="#1c1cec"/>
<circle cx="68.2" cy="89.0" r="1.25" fill="#1c1cec"/>
<circle cx="69.3" cy="90.8" r="1.25" fill="#1c1cec"/>
<circle cx="74.4" cy="88.8" r="1.25" fill="#1c1cec"/>
<circle cx="76.0" cy="89.0" r="1.25" fill="#1c1cec"/>
<circle cx="76.9" cy="90.7" r="1.25" fill="#1c1cec"/>
<circle cx="80.2" cy="90.7" r="1.25" fill="#1c1cec"/>
<circle cx="81.3" cy="89.1" r="1.25" fill="#1c1cec"/>
<circle cx="82.7" cy="90.3" r="1.25" fill="#1c1cec"/>
<circle cx="85.2" cy="89.0" r="1.25" fill="#1c1cec"/>
<circle cx="88.3" cy="90.7" r="1.25" fill="#1c1cec"/>
<circle cx="90.1" cy="90.5" r="1.25" fill="#1c1cec"/>
<circle cx="91.0" cy="89.0" r="1.25" fill="#1c1cec"/>
<circle cx="92.8" cy="89.4" r="1.25" fill="#1c1cec"/>
<circle cx="94.9" cy="90.5" r="1.25" fill="#1c1cec"/>
<circle cx="96.0" cy="89.9" r="1.25" fill="#1c1cec"/>
<circle cx="51.4" cy="90.6" r="1.25" fill="#1c1cec"/>
<circle cx="54.0" cy="90.7" r="1.25" fill="#1c1cec"/>
<circle cx="62.8" cy="91.8" r="1.25" fill="#1c1cec"/>
<circle cx="67.6" cy="91.7" r="1.25" fill="#1c1cec"/>
<circle cx="69.1" cy="92.2" r="1.25" fill="#1c1cec"/>
<circle cx="70.7" cy="91.8" r="1.25" fill="#1c1cec"/>
<circle cx="72.4" cy="91.7" r="1.25" fill="#1c1cec"/>
<circle cx="75.4" cy="91.2" r="1.25" fill="#1c1cec"/>
<circle cx="77.2" cy="91.1" r="1.25" fill="#1c1cec"/>
<circle cx="78.3" cy="92.3" r="1.25" fill="#1c1cec"/>
<circle cx="80.0" cy="92.2" r="1.25" fill="#1c1cec"/>
<circle cx="81.9" cy="91.4" r="1.25" fill="#1c1cec"/>
<circle cx="84.7" cy="91.5" r="1.25" fill="#1c1cec"/>
<circle cx="86.8" cy="90.5" r="1.25" fill="#1c1cec"/>
<circle cx="88.7" cy="90.4" r="1.25" fill="#1c1cec"/>
<circle cx="92.4" cy="91.9" r="1.25" fill="#1c1cec"/>
<circle cx="93.3" cy="92.5" r="1.25" fill="#1c1cec"/>
<circle cx="95.2" cy="92.1" r="1.25" fill="#1c1cec"/>
<circle cx="76.9" cy="92.7" r="1.25" fill="#1c1cec"/>
<circle cx="82.5" cy="92.0" r="1.25" fill="#1c1cec"/>
<circle cx="84.5" cy="93.4" r="1.25" fill="#1c1cec"/>
<circle cx="85.6" cy="92.2" r="1.25" fill="#1c1cec"/>
<circle cx="89.7" cy="92.1" r="1.25" fill="#1c1cec"/>
<circle cx="93.5" cy="92.0" r="1.25" fill="#1c1cec"/>
<circle cx="119.5" cy="57.5" r="1.25" fill="#f014f0"/>
<circle cx="122.5" cy="56.5" r="1.25" fill="#f014f0"/>
<circle cx="123.9" cy="56.8" r="1.25" fill="#f014f0"/>
<circle cx="125.0" cy="56.6" r="1.25" fill="#f014f0"/>
<circle cx="126.6" cy="57.4" r="1.25" fill="#f014f0"/>
<circle cx="128.9" cy="57.1" r="1.25" fill="#f014f0"/>
<circle cx="130.8" cy="57.1" r="1.25" fill="#f014f0"/>
<circle cx="115.6" cy="59.0" r="1.25" fill="#f014f0"/>
<circle cx="117.6" cy="58.4" r="1.25" fill="#f014f0"/>
<circle cx="119.8" cy="58.7" r="1.25" fill="#f014f0"/>
<circle cx="120.7" cy="58.3" r="1.25" fill="#f014f0"/>
<circle cx="122.4" cy="58.2" r="1.25" fill="#f014f0"/>
<circle cx="124.7" cy="58.3" r="1.25" fill="#f014f0"/>
<circle cx="125.9" cy="58.6" r="1.25" fill="#f014f0"/>
<circle cx="128.4" cy="59.0" r="1.25" fill="#f014f0"/>
<circle cx="130.1" cy="58.9" r="1.25" fill="#f014f0"/>
<circle cx="131.3" cy="58.5" r="1.25" fill="#f014f0"/>
<circle cx="132.8" cy="58.8" r="1.25" fill="#f014f0"/>
<circle cx="134.9" cy="58.6" r="1.25" fill="#f014f0"/>
<circle cx="136.4" cy="59.0" r="1.25" fill="#f014f0"/>
<circle cx="115.2" cy="60.1" r="1.25" fill="#f014f0"/>
<circle cx="116.4" cy="60.1" r="1.25" fill="#f014f0"/>
<circle cx="118.2" cy="59.7" r="1.25" fill="#f014f0"/>
<circle cx="120.6" cy="60.4" r="1.25" fill="#f014f0"/>
<circle cx="121.5" cy="59.8" r="1.25" fill="#f014f0"/>
<circle cx="123.1" cy="60.1" r="1.25" fill="#f014f0"/>
<circle cx="125.4" cy="59.9" r="1.25" fill="#f014f0"/>
<circle cx="127.4" cy="60.3" r="1.25" fill="#f014f0"/>
<circle cx="128.9" cy="60.3" r="1.25" fill="#f014f0"/>
<circle cx="131.1" cy="60.3" r="1.25" fill="#f014f0"/>
<circle cx="132.2" cy="60.0" r="1.25" fill="#f014f0"/>
<circle cx="134.0" cy="59.9" r="1.25" fill="#f014f0"/>
<circle cx="135.4" cy="60.7" r="1.25" fill="#f014f0"/>
<circle cx="137.8" cy="60.6" r="1.25" fill="#f014f0"/>
<circle cx="139.5" cy="59.9" r="1.25" fill="#f014f0"/>
<circle cx="113.7" cy="61.2" r="1.25" fill="#f014f0"/>
<circle cx="115.8" cy="61.6" r="1.25" fill="#f014f0"/>
<circle cx="117.9" cy="61.3" r="1.25" fill="#f014f0"/>
<circle cx="119.6" cy="61.5" r="1.25" fill="#f014f0"/>
<circle cx="121.4" cy="62.1" r="1.25" fill="#f014f0"/>
<circle cx="122.2" cy="61.4" r="1.25" fill="#f014f0"/>
<circle cx="124.9" cy="61.1" r="1.25" fill="#f014f0"/>
<circle cx="125.9" cy="61.1" r="1.25" fill="#f014f0"/>
<circle cx="128.4" cy="61.6" r="1.25" fill="#f014f0"/>
<circle cx="129.2" cy="61.5" r="1.25" fill="#f014f0"/>
<circle cx="131.7" cy="61.5" r="1.25" fill="#f014f0"/>
<circle cx="133.6" cy="61.9" r="1.25" fill="#f014f0"/>
<circle cx="135.2" cy="61.4" r="1.25" fill="#f014f0"/>
<circle cx="136.4" cy="61.4" r="1.25" fill="#f014f0"/>
<circle cx="138.4" cy="61.0" r="1.25" fill="#f014f0"/>
<circle cx="140.3" cy="61.0" r="1.25" fill="#f014f0"/>
<circle cx="142.3" cy="61.3" r="1.25" fill="#f014f0"/>
<circle cx="143.4" cy="62.0" r="1.25" fill="#f014f0"/>
<circle cx="114.8" cy="63.1" r="1.25" fill="#f014f0"/>
<circle cx="116.5" cy="63.1" r="1.25" fill="#f014f0"/>
<circle cx="118.3" cy="63.1" r="1.25" fill="#f014f0"/>
<circle cx="120.5" cy="63.3" r="1.25" fill="#f014f0"/>
<circle cx="121.8" cy="62.5" r="1.25" fill="#f014f0"/>
<circle cx="123.7" cy="63.4" r="1.25" fill="#f014f0"/>
<circle cx="124.9" cy="62.8" r="1.25" fill="#f014f0"/>
<circle cx="127.5" cy="62.6" r="1.25" fill="#f014f0"/>
<circle cx="129.2" cy="63.2" r="1.25" fill="#f014f0"/>
<circle cx="130.8" cy="63.4" r="1.25" fill="#f014f0"/>
<circle cx="131.8" cy="63.3" r="1.25" fill="#f014f0"/>
<circle cx="134.2" cy="63.7" r="1.25" fill="#f014f0"/>
<circle cx="136.3" cy="62.7" r="1.25" fill="#f014f0"/>
<circle cx="137.6" cy="62.5" r="1.25" fill="#f014f0"/>
<circle cx="139.1" cy="62.8" r="1.25" fill="#f014f0"/>
<circle cx="140.8" cy="63.6" r="1.25" fill="#f014f0"/>
<circle cx="142.9" cy="63.0" r="1.25" fill="#f014f0"/>
<circle cx="144.4" cy="63.6" r="1.25" fill="#f014f0"/>
<circle cx="114.2" cy="64.1" r="1.25" fill="#f014f0"/>
<circle cx="115.2" cy="64.8" r="1.25" fill="#f014f0"/>
<circle cx="118.0" cy="64.7" r="1.25" fill="#f014f0"/>
<circle cx="119.2" cy="64.8" r="1.25" fill="#f014f0"/>
<circle cx="120.7" cy="64.3" r="1.25" fill="#f014f0"/>
<circle cx="122.3" cy="65.1" r="1.25" fill="#f014f0"/>
<circle cx="124.0" cy="64.1" r="1.25" fill="#f014f0"/>
<circle cx="126.8" cy="64.5" r="1.25" fill="#f014f0"/>
<circle cx="127.7" cy="65.1" r="1.25" fill="#f014f0"/>
<circle cx="129.3" cy="64.1" r="1.25" fill="#f014f0"/>
<circle cx="130.9" cy="65.0" r="1.25" fill="#f014f0"/>
<circle cx="132.9" cy="64.7" r="1.25" fill="#f014f0"/>
<circle cx="135.1" cy="64.2" r="1.25" fill="#f014f0"/>
<circle cx="136.5" cy="65.1" r="1.25" fill="#f014f0"/>
<circle cx="138.9" cy="65.2" r="1.25" fill="#f014f0"/>
<circle cx="139.7" cy="64.5" r="1.25" fill="#f014f0"/>
<circle cx="141.7" cy="64.7" r="1.25" fill="#f014f0"/>
<circle cx="143.7" cy="64.9" r="1.25" fill="#f014f0"/>
<circle cx="145.7" cy="64.2" r="1.25" fill="#f014f0"/>
<circle cx="146.8" cy="65.2" r="1.25" fill="#f014f0"/>
<circle cx="114.5" cy="66.5" r="1.25" fill="#f014f0"/>
<circle cx="116.1" cy="66.2" r="1.25" fill="#f014f0"/>
<circle cx="118.4" cy="66.5" r="1.25" fill="#f014f0"/>
<circle cx="120.1" cy="65.6" r="1.25" fill="#f014f0"/>
<circle cx="121.4" cy="66.3" r="1.25" fill="#f014f0"/>
<circle cx="123.7" cy="66.0" r="1.25" fill="#f014f0"/>
<circle cx="125.6" cy="65.7" r="1.25" fill="#f014f0"/>
<circle cx="127.7" cy="66.0" r="1.25" fill="#f014f0"/>
<circle cx="129.3" cy="66.1" r="1.25" fill="#f014f0"/>
<circle cx="130.1" cy="66.6" r="1.25" fill="#f014f0"/>
<circle cx="132.4" cy="66.2" r="1.25" fill="#f014f0"/>
<circle cx="134.1" cy="65.7" r="1.25" fill="#f014f0"/>
<circle cx="135.9" cy="66.0" r="1.25" fill="#f014f0"/>
<circle cx="137.5" cy="65.8" r="1.25" fill="#f014f0"/>
<circle cx="139.1" cy="66.6" r="1.25" fill="#f014f0"/>
<circle cx="141.6" cy="65.6" r="1.25" fill="#f014f0"/>
<circle cx="142.9" cy="66.5" r="1.25" fill="#f014f0"/>
<circle cx="144.9" cy="65.8" r="1.25" fill="#f014f0"/>
<circle cx="146.0" cy="65.9" r="1.25" fill="#f014f0"/>
<circle cx="148.0" cy="66.2" r="1.25" fill="#f014f0"/>
<circle cx="113.8" cy="67.2" r="1.25" fill="#f014f0"/>
<circle cx="115.4" cy="67.5" r="1.25" fill="#f014f0"/>
<circle cx="118.1" cy="68.0" r="1.25" fill="#f014f0"/>
<circle cx="119.2" cy="68.0" r="1.25" fill="#f014f0"/>
<circle cx="121.3" cy="67.8" r="1.25" fill="#f014f0"/>
<circle cx="122.9" cy="68.1" r="1.25" fill="#f014f0"/>
<circle cx="124.0" cy="67.9" r="1.25" fill="#f014f0"/>
<circle cx="125.8" cy="68.3" r="1.25" fill="#f014f0"/>
<circle cx="128.3" cy="67.2" r="1.25" fill="#f014f0"/>
<circle cx="130.3" cy="68.2" r="1.25" fill="#f014f0"/>
<circle cx="131.9" cy="68.1" r="1.25" fill="#f014f0"/>
<circle cx="133.2" cy="68.1" r="1.25" fill="#f014f0"/>
<circle cx="135.5" cy="67.4" r="1.25" fill="#f014f0"/>
<circle cx="136.8" cy="68.2" r="1.25" fill="#f014f0"/>
<circle cx="139.1" cy="68.0" r="1.25" fill="#f014f0"/>
<circle cx="140.7" cy="67.4" r="1.25" fill="#f014f0"/>
<circle cx="141.9" cy="67.4" r="1.25" fill="#f014f0"/>
<circle cx="144.2" cy="67.9" r="1.25" fill="#f014f0"/>
<circle cx="145.4" cy="68.0" r="1.25" fill="#f014f0"/>
<circle cx="147.5" cy="68.2" r="1.25" fill="#f014f0"/>
<circle cx="148.9" cy="67.2" r="1.25" fill="#f014f0"/>
<circle cx="151.2" cy="67.5" r="1.25" fill="#f014f0"/>
<circle cx="110.9" cy="69.4" r="1.25" fill="#f014f0"/>
<circle cx="113.5" cy="68.8" r="1.25" fill="#f014f0"/>
<circle cx="115.4" cy="69.0" r="1.25" fill="#f014f0"/>
<circle cx="117.1" cy="69.3" r="1.25" fill="#f014f0"/>
<circle cx="118.2" cy="69.2" r="1.25" fill="#f014f0"/>
<circle cx="120.1" cy="69.8" r="1.25" fill="#f014f0"/>
<circle cx="122.3" cy="68.8" r="1.25" fill="#f014f0"/>
<circle cx="123.0" cy="68.8" r="1.25" fill="#f014f0"/>
<circle cx="125.3" cy="69.6" r="1.25" fill="#f014f0"/>
<circle cx="126.9" cy="68.7" r="1.25" fill="#f014f0"/>
<circle cx="129.3" cy="69.2" r="1.25" fill="#f014f0"/>
<circle cx="131.2" cy="69.7" r="1.25" fill="#f014f0"/>
<circle cx="131.9" cy="69.4" r="1.25" fill="#f014f0"/>
<circle cx="134.7" cy="69.0" r="1.25" fill="#f014f0"/>
<circle cx="136.0" cy="69.1" r="1.25" fill="#f014f0"/>
<circle cx="137.8" cy="69.7" r="1.25" fill="#f014f0"/>
<circle cx="139.2" cy="69.8" r="1.25" fill="#f014f0"/>
<circle cx="141.5" cy="69.4" r="1.25" fill="#f014f0"/>
<circle cx="142.8" cy="69.5" r="1.25" fill="#f014f0"/>
<circle cx="144.9" cy="69.5" r="1.25" fill="#f014f0"/>
<circle cx="146.2" cy="68.8" r="1.25" fill="#f014f0"/>
<circle cx="148.6" cy="68.8" r="1.25" fill="#f014f0"/>
<circle cx="150.0" cy="68.6" r="1.25" fill="#f014f0"/>
<circle cx="151.9" cy="69.4" r="1.25" fill="#f014f0"/>
<circle cx="111.0" cy="70.3" r="1.25" fill="#f014f0"/>
<circle cx="111.8" cy="70.5" r="1.25" fill="#f014f0"/>
<circle cx="113.8" cy="70.6" r="1.25" fill="#f014f0"/>
<circle cx="116.3" cy="70.3" r="1.25" fill="#f014f0"/>
<circle cx="118.0" cy="70.4" r="1.25" fill="#f014f0"/>
<circle cx="119.2" cy="70.2" r="1.25" fill="#f014f0"/>
<circle cx="120.9" cy="70.6" r="1.25" fill="#f014f0"/>
<circle cx="122.5" cy="70.4" r="1.25" fill="#f014f0"/>
<circle cx="124.4" cy="71.1" r="1.25" fill="#f014f0"/>
<circle cx="126.6" cy="70.5" r="1.25" fill="#f014f0"/>
<circle cx="128.3" cy="70.7" r="1.25" fill="#f014f0"/>
<circle cx="130.0" cy="71.0" r="1.25" fill="#f014f0"/>
<circle cx="131.3" cy="71.2" r="1.25" fill="#f014f0"/>
<circle cx="133.0" cy="70.9" r="1.25" fill="#f014f0"/>
<circle cx="135.3" cy="70.2" r="1.25" fill="#f014f0"/>
<circle cx="136.8" cy="70.5" r="1.25" fill="#f014f0"/>
<circle cx="138.2" cy="70.4" r="1.25" fill="#f014f0"/>
<circle cx="140.3" cy="71.0" r="1.25" fill="#f014f0"/>
<circle cx="141.9" cy="71.1" r="1.25" fill="#f014f0"/>
<circle cx="143.5" cy="70.9" r="1.25" fill="#f014f0"/>
<circle cx="145.7" cy="71.0" r="1.25" fill="#f014f0"/>
<circle cx="147.1" cy="71.3" r="1.25" fill="#f014f0"/>
<circle cx="148.8" cy="70.6" r="1.25" fill="#f014f0"/>
<circle cx="150.6" cy="70.3" r="1.25" fill="#f014f0"/>
<circle cx="152.5" cy="70.8" r="1.25" fill="#f014f0"/>
<circle cx="108.1" cy="72.6" r="1.25" fill="#f014f0"/>
<circle cx="110.1" cy="72.7" r="1.25" fill="#f014f0"/>
<circle cx="111.8" cy="72.4" r="1.25" fill="#f014f0"/>
<circle cx="112.7" cy="72.5" r="1.25" fill="#f014f0"/>
<circle cx="115.0" cy="72.0" r="1.25" fill="#f014f0"/>
<circle cx="116.8" cy="72.6" r="1.25" fill="#f014f0"/>
<circle cx="118.0" cy="71.9" r="1.25" fill="#f014f0"/>
<circle cx="120.3" cy="72.8" r="1.25" fill="#f014f0"/>
<circle cx="121.7" cy="72.5" r="1.25" fill="#f014f0"/>
<circle cx="124.0" cy="72.0" r="1.25" fill="#f014f0"/>
<circle cx="125.5" cy="71.8" r="1.25" fill="#f014f0"/>
<circle cx="126.6" cy="72.2" r="1.25" fill="#f014f0"/>
<circle cx="129.3" cy="71.7" r="1.25" fill="#f014f0"/>
<circle cx="130.1" cy="71.9" r="1.25" fill="#f014f0"/>
<circle cx="132.2" cy="72.0" r="1.25" fill="#f014f0"/>
<circle cx="133.8" cy="72.6" r="1.25" fill="#f014f0"/>
<circle cx="136.3" cy="72.6" r="1.25" fill="#f014f0"/>
<circle cx="137.0" cy="72.6" r="1.25" fill="#f014f0"/>
<circle cx="139.4" cy="72.2" r="1.25" fill="#f014f0"/>
<circle cx="141.3" cy="72.5" r="1.25" fill="#f014f0"/>
<circle cx="142.8" cy="72.3" r="1.25" fill="#f014f0"/>
<circle cx="144.3" cy="72.7" r="1.25" fill="#f014f0"/>
<circle cx="146.7" cy="72.8" r="1.25" fill="#f014f0"/>
<circle cx="148.7" cy="71.7" r="1.25" fill="#f014f0"/>
<circle cx="149.4" cy="72.2" r="1.25" fill="#f014f0"/>
<circle cx="151.9" cy="72.2" r="1.25" fill="#f014f0"/>
<circle cx="153.0" cy="72.1" r="1.25" fill="#f014f0"/>
<circle cx="154.8" cy="72.5" r="1.25" fill="#f014f0"/>
<circle cx="105.8" cy="74.0" r="1.25" fill="#f014f0"/>
<circle cx="106.5" cy="73.4" r="1.25" fill="#f014f0"/>
<circle cx="109.2" cy="74.0" r="1.25" fill="#f014f0"/>
<circle cx="110.2" cy="73.6" r="1.25" fill="#f014f0"/>
<circle cx="112.4" cy="74.4" r="1.25" fill="#f014f0"/>
<circle cx="113.4" cy="73.4" r="1.25" fill="#f014f0"/>
<circle cx="116.2" cy="74.1" r="1.25" fill="#f014f0"/>
<circle cx="117.0" cy="73.3" r="1.25" fill="#f014f0"/>
<circle cx="119.6" cy="73.7" r="1.25" fill="#f014f0"/>
<circle cx="121.5" cy="74.1" r="1.25" fill="#f014f0"/>
<circle cx="123.1" cy="73.3" r="1.25" fill="#f014f0"/>
<circle cx="124.6" cy="73.8" r="1.25" fill="#f014f0"/>
<circle cx="125.9" cy="73.2" r="1.25" fill="#f014f0"/>
<circle cx="128.3" cy="74.3" r="1.25" fill="#f014f0"/>
<circle cx="129.7" cy="74.1" r="1.25" fill="#f014f0"/>
<circle cx="131.9" cy="74.2" r="1.25" fill="#f014f0"/>
<circle cx="132.7" cy="73.4" r="1.25" fill="#f014f0"/>
<circle cx="134.9" cy="73.2" r="1.25" fill="#f014f0"/>
<circle cx="137.1" cy="73.7" r="1.25" fill="#f014f0"/>
<circle cx="139.0" cy="73.8" r="1.25" fill="#f014f0"/>
<circle cx="140.0" cy="73.9" r="1.25" fill="#f014f0"/>
<circle cx="142.0" cy="73.9" r="1.25" fill="#f014f0"/>
<circle cx="143.4" cy="74.3" r="1.25" fill="#f014f0"/>
<circle cx="145.0" cy="73.9" r="1.25" fill="#f014f0"/>
<circle cx="146.9" cy="73.7" r="1.25" fill="#f014f0"/>
<circle cx="149.2" cy="74.0" r="1.25" fill="#f014f0"/>
<circle cx="150.2" cy="74.0" r="1.25" fill="#f014f0"/>
<circle cx="152.5" cy="73.6" r="1.25" fill="#f014f0"/>
<circle cx="154.5" cy="73.5" r="1.25" fill="#f014f0"/>
<circle cx="104.7" cy="75.7" r="1.25" fill="#f014f0"/>
<circle cx="106.4" cy="74.7" r="1.25" fill="#f014f0"/>
<circle cx="108.5" cy="75.7" r="1.25" fill="#f014f0"/>
<circle cx="109.1" cy="75.0" r="1.25" fill="#f014f0"/>
<circle cx="111.0" cy="75.5" r="1.25" fill="#f014f0"/>
<circle cx="113.3" cy="75.8" r="1.25" fill="#f014f0"/>
<circle cx="114.5" cy="74.7" r="1.25" fill="#f014f0"/>
<circle cx="116.1" cy="75.9" r="1.25" fill="#f014f0"/>
<circle cx="118.0" cy="75.7" r="1.25" fill="#f014f0"/>
<circle cx="120.1" cy="74.8" r="1.25" fill="#f014f0"/>
<circle cx="122.4" cy="75.8" r="1.25" fill="#f014f0"/>
<circle cx="124.1" cy="75.4" r="1.25" fill="#f014f0"/>
<circle cx="125.4" cy="75.4" r="1.25" fill="#f014f0"/>
<circle cx="127.5" cy="74.8" r="1.25" fill="#f014f0"/>
<circle cx="128.9" cy="75.0" r="1.25" fill="#f014f0"/>
<circle cx="130.0" cy="75.6" r="1.25" fill="#f014f0"/>
<circle cx="132.8" cy="75.7" r="1.25" fill="#f014f0"/>
<circle cx="133.7" cy="75.5" r="1.25" fill="#f014f0"/>
<circle cx="135.8" cy="74.8" r="1.25" fill="#f014f0"/>
<circle cx="137.7" cy="75.1" r="1.25" fill="#f014f0"/>
<circle cx="139.7" cy="75.7" r="1.25" fill="#f014f0"/>
<circle cx="140.6" cy="75.1" r="1.25" fill="#f014f0"/>
<circle cx="143.2" cy="74.9" r="1.25" fill="#f014f0"/>
<circle cx="145.2" cy="75.6" r="1.25" fill="#f014f0"/>
<circle cx="145.9" cy="74.8" r="1.25" fill="#f014f0"/>
<circle cx="148.2" cy="75.3" r="1.25" fill="#f014f0"/>
<circle cx="149.8" cy="75.4" r="1.25" fill="#f014f0"/>
<circle cx="152.1" cy="75.6" r="1.25" fill="#f014f0"/>
<circle cx="153.9" cy="75.7" r="1.25" fill="#f014f0"/>
<circle cx="154.6" cy="75.5" r="1.25" fill="#f014f0"/>
<circle cx="99.9" cy="77.1" r="1.25" fill="#f014f0"/>
<circle cx="101.5" cy="76.6" r="1.25" fill="#f014f0"/>
<circle cx="103.0" cy="76.7" r="1.25" fill="#f014f0"/>
<circle cx="105.4" cy="77.3" r="1.25" fill="#f014f0"/>
<circle cx="107.4" cy="77.4" r="1.25" fill="#f014f0"/>
<circle cx="108.5" cy="76.5" r="1.25" fill="#f014f0"/>
<circle cx="109.9" cy="76.5" r="1.25" fill="#f014f0"/>
<circle cx="112.8" cy="76.6" r="1.25" fill="#f014f0"/>
<circle cx="114.3" cy="77.3" r="1.25" fill="#f014f0"/>
<circle cx="115.8" cy="76.3" r="1.25" fill="#f014f0"/>
<circle cx="117.3" cy="77.0" r="1.25" fill="#f014f0"/>
<circle cx="119.3" cy="77.4" r="1.25" fill="#f014f0"/>
<circle cx="121.0" cy="77.0" r="1.25" fill="#f014f0"/>
<circle cx="123.3" cy="76.7" r="1.25" fill="#f014f0"/>
<circle cx="124.7" cy="77.4" r="1.25" fill="#f014f0"/>
<circle cx="125.9" cy="76.6" r="1.25" fill="#f014f0"/>
<circle cx="127.4" cy="76.5" r="1.25" fill="#f014f0"/>
<circle cx="130.3" cy="76.4" r="1.25" fill="#f014f0"/>
<circle cx="131.7" cy="77.0" r="1.25" fill="#f014f0"/>
<circle cx="133.6" cy="76.5" r="1.25" fill="#f014f0"/>
<circle cx="134.4" cy="77.0" r="1.25" fill="#f014f0"/>
<circle cx="136.5" cy="77.4" r="1.25" fill="#f014f0"/>
<circle cx="138.6" cy="77.0" r="1.25" fill="#f014f0"/>
<circle cx="140.5" cy="76.6" r="1.25" fill="#f014f0"/>
<circle cx="141.5" cy="76.2" r="1.25" fill="#f014f0"/>
<circle cx="143.3" cy="76.3" r="1.25" fill="#f014f0"/>
<circle cx="146.1" cy="77.0" r="1.25" fill="#f014f0"/>
<circle cx="147.6" cy="76.4" r="1.25" fill="#f014f0"/>
<circle cx="148.8" cy="76.7" r="1.25" fill="#f014f0"/>
<circle cx="150.7" cy="77.1" r="1.25" fill="#f014f0"/>
<circle cx="153.0" cy="76.6" r="1.25" fill="#f014f0"/>
<circle cx="153.7" cy="77.2" r="1.25" fill="#f014f0"/>
<circle cx="101.4" cy="77.9" r="1.25" fill="#f014f0"/>
<circle cx="102.7" cy="78.5" r="1.25" fill="#f014f0"/>
<circle cx="103.9" cy="77.8" r="1.25" fill="#f014f0"/>
<circle cx="106.0" cy="78.5" r="1.25" fill="#f014f0"/>
<circle cx="107.5" cy="77.8" r="1.25" fill="#f014f0"/>
<circle cx="110.1" cy="77.9" r="1.25" fill="#f014f0"/>
<circle cx="111.2" cy="78.6" r="1.25" fill="#f014f0"/>
<circle cx="113.5" cy="78.0" r="1.25" fill="#f014f0"/>
<circle cx="114.9" cy="77.9" r="1.25" fill="#f014f0"/>
<circle cx="117.0" cy="78.1" r="1.25" fill="#f014f0"/>
<circle cx="118.7" cy="78.0" r="1.25" fill="#f014f0"/>
<circle cx="119.8" cy="78.2" r="1.25" fill="#f014f0"/>
<circle cx="122.0" cy="78.3" r="1.25" fill="#f014f0"/>
<circle cx="123.1" cy="78.5" r="1.25" fill="#f014f0"/>
<circle cx="125.1" cy="77.8" r="1.25" fill="#f014f0"/>
<circle cx="126.7" cy="78.3" r="1.25" fill="#f014f0"/>
<circle cx="128.4" cy="77.9" r="1.25" fill="#f014f0"/>
<circle cx="130.2" cy="78.0" r="1.25" fill="#f014f0"/>
<circle cx="131.9" cy="77.8" r="1.25" fill="#f014f0"/>
<circle cx="134.1" cy="78.9" r="1.25" fill="#f014f0"/>
<circle cx="135.4" cy="78.0" r="1.25" fill="#f014f0"/>
<circle cx="137.7" cy="78.8" r="1.25" fill="#f014f0"/>
<circle cx="139.8" cy="77.9" r="1.25" fill="#f014f0"/>
<circle cx="141.2" cy="78.0" r="1.25" fill="#f014f0"/>
<circle cx="143.3" cy="78.0" r="1.25" fill="#f014f0"/>
<circle cx="144.3" cy="78.9" r="1.25" fill="#f014f0"/>
<circle cx="146.7" cy="77.8" r="1.25" fill="#f014f0"/>
<circle cx="147.9" cy="78.0" r="1.25" fill="#f014f0"/>
<circle cx="149.7" cy="77.9" r="1.25" fill="#f014f0"/>
<circle cx="151.6" cy="77.9" r="1.25" fill="#f014f0"/>
<circle cx="97.9" cy="79.9" r="1.25" fill="#f014f0"/>
<circle cx="100.2" cy="79.4" r="1.25" fill="#f014f0"/>
<circle cx="102.3" cy="80.2" r="1.25" fill="#f014f0"/>
<circle cx="103.3" cy="80.4" r="1.25" fill="#f014f0"/>
<circle cx="104.9" cy="80.0" r="1.25" fill="#f014f0"/>
<circle cx="106.5" cy="79.5" r="1.25" fill="#f014f0"/>
<circle cx="108.7" cy="79.4" r="1.25" fill="#f014f0"/>
<circle cx="110.8" cy="80.0" r="1.25" fill="#f014f0"/>
<circle cx="112.1" cy="80.1" r="1.25" fill="#f014f0"/>
<circle cx="114.5" cy="79.5" r="1.25" fill="#f014f0"/>
<circle cx="115.8" cy="80.4" r="1.25" fill="#f014f0"/>
<circle cx="118.1" cy="80.0" r="1.25" fill="#f014f0"/>
<circle cx="119.7" cy="79.5" r="1.25" fill="#f014f0"/>
<circle cx="120.9" cy="79.5" r="1.25" fill="#f014f0"/>
<circle cx="122.5" cy="79.7" r="1.25" fill="#f014f0"/>
<circle cx="124.7" cy="79.3" r="1.25" fill="#f014f0"/>
<circle cx="125.8" cy="80.3" r="1.25" fill="#f014f0"/>
<circle cx="128.1" cy="79.6" r="1.25" fill="#f014f0"/>
<circle cx="129.8" cy="80.1" r="1.25" fill="#f014f0"/>
<circle cx="131.2" cy="79.4" r="1.25" fill="#f014f0"/>
<circle cx="132.8" cy="79.4" r="1.25" fill="#f014f0"/>
<circle cx="135.1" cy="80.3" r="1.25" fill="#f014f0"/>
<circle cx="136.4" cy="79.5" r="1.25" fill="#f014f0"/>
<circle cx="138.4" cy="79.7" r="1.25" fill="#f014f0"/>
<circle cx="140.4" cy="80.3" r="1.25" fill="#f014f0"/>
<circle cx="141.7" cy="80.4" r="1.25" fill="#f014f0"/>
<circle cx="143.2" cy="80.4" r="1.25" fill="#f014f0"/>
<circle cx="144.9" cy="79.6" r="1.25" fill="#f014f0"/>
<circle cx="147.8" cy="80.3" r="1.25" fill="#f014f0"/>
<circle cx="149.0" cy="80.3" r="1.25" fill="#f014f0"/>
<circle cx="150.9" cy="79.9" r="1.25" fill="#f014f0"/>
<circle cx="97.0" cy="80.9" r="1.25" fill="#f014f0"/>
<circle cx="99.2" cy="81.0" r="1.25" fill="#f014f0"/>
<circle cx="100.6" cy="81.1" r="1.25" fill="#f014f0"/>
<circle cx="102.7" cy="81.6" r="1.25" fill="#f014f0"/>
<circle cx="104.7" cy="81.5" r="1.25" fill="#f014f0"/>
<circle cx="106.3" cy="81.7" r="1.25" fill="#f014f0"/>
<circle cx="107.8" cy="81.6" r="1.25" fill="#f014f0"/>
<circle cx="109.8" cy="81.0" r="1.25" fill="#f014f0"/>
<circle cx="111.7" cy="81.1" r="1.25" fill="#f014f0"/>
<circle cx="113.7" cy="81.0" r="1.25" fill="#f014f0"/>
<circle cx="115.4" cy="81.9" r="1.25" fill="#f014f0"/>
<circle cx="116.9" cy="81.2" r="1.25" fill="#f014f0"/>
<circle cx="118.7" cy="80.9" r="1.25" fill="#f014f0"/>
<circle cx="119.8" cy="81.1" r="1.25" fill="#f014f0"/>
<circle cx="121.4" cy="81.3" r="1.25" fill="#f014f0"/>
<circle cx="123.1" cy="81.5" r="1.25" fill="#f014f0"/>
<circle cx="125.5" cy="81.2" r="1.25" fill="#f014f0"/>
<circle cx="127.0" cy="81.0" r="1.25" fill="#f014f0"/>
<circle cx="128.3" cy="81.6" r="1.25" fill="#f014f0"/>
<circle cx="130.5" cy="81.9" r="1.25" fill="#f014f0"/>
<circle cx="132.8" cy="81.6" r="1.25" fill="#f014f0"/>
<circle cx="134.4" cy="82.0" r="1.25" fill="#f014f0"/>
<circle cx="136.2" cy="81.1" r="1.25" fill="#f014f0"/>
<circle cx="138.0" cy="81.5" r="1.25" fill="#f014f0"/>
<circle cx="139.8" cy="81.5" r="1.25" fill="#f014f0"/>
<circle cx="140.5" cy="81.4" r="1.25" fill="#f014f0"/>
<circle cx="142.6" cy="80.9" r="1.25" fill="#f014f0"/>
<circle cx="144.2" cy="81.6" r="1.25" fill="#f014f0"/>
<circle cx="146.0" cy="81.1" r="1.25" fill="#f014f0"/>
<circle cx="148.7" cy="80.8" r="1.25" fill="#f014f0"/>
<circle cx="97.7" cy="82.5" r="1.25" fill="#f014f0"/>
<circle cx="100.2" cy="83.1" r="1.25" fill="#f014f0"/>
<circle cx="102.1" cy="83.2" r="1.25" fill="#f014f0"/>
<circle cx="103.5" cy="82.5" r="1.25" fill="#f014f0"/>
<circle cx="105.3" cy="82.4" r="1.25" fill="#f014f0"/>
<circle cx="107.2" cy="82.8" r="1.25" fill="#f014f0"/>
<circle cx="108.4" cy="83.3" r="1.25" fill="#f014f0"/>
<circle cx="110.0" cy="83.0" r="1.25" fill="#f014f0"/>
<circle cx="112.5" cy="83.3" r="1.25" fill="#f014f0"/>
<circle cx="113.7" cy="82.4" r="1.25" fill="#f014f0"/>
<circle cx="115.8" cy="82.5" r="1.25" fill="#f014f0"/>
<circle cx="117.6" cy="82.4" r="1.25" fill="#f014f0"/>
<circle cx="118.9" cy="82.6" r="1.25" fill="#f014f0"/>
<circle cx="121.0" cy="83.2" r="1.25" fill="#f014f0"/>
<circle cx="123.0" cy="82.6" r="1.25" fill="#f014f0"/>
<circle cx="124.7" cy="83.1" r="1.25" fill="#f014f0"/>
<circle cx="126.7" cy="82.5" r="1.25" fill="#f014f0"/>
<circle cx="128.2" cy="82.6" r="1.25" fill="#f014f0"/>
<circle cx="129.4" cy="83.2" r="1.25" fill="#f014f0"/>
<circle cx="131.8" cy="83.5" r="1.25" fill="#f014f0"/>
<circle cx="133.0" cy="82.7" r="1.25" fill="#f014f0"/>
<circle cx="134.5" cy="83.0" r="1.25" fill="#f014f0"/>
<circle cx="136.2" cy="82.9" r="1.25" fill="#f014f0"/>
<circle cx="140.2" cy="82.5" r="1.25" fill="#f014f0"/>
<circle cx="99.7" cy="84.6" r="1.25" fill="#f014f0"/>
<circle cx="100.8" cy="84.6" r="1.25" fill="#f014f0"/>
<circle cx="102.1" cy="85.0" r="1.25" fill="#f014f0"/>
<circle cx="103.9" cy="84.4" r="1.25" fill="#f014f0"/>
<circle cx="105.9" cy="83.9" r="1.25" fill="#f014f0"/>
<circle cx="108.2" cy="84.4" r="1.25" fill="#f014f0"/>
<circle cx="109.5" cy="83.9" r="1.25" fill="#f014f0"/>
<circle cx="110.8" cy="84.2" r="1.25" fill="#f014f0"/>
<circle cx="112.7" cy="83.9" r="1.25" fill="#f014f0"/>
<circle cx="114.5" cy="84.5" r="1.25" fill="#f014f0"/>
<circle cx="116.2" cy="84.0" r="1.25" fill="#f014f0"/>
<circle cx="118.3" cy="84.2" r="1.25" fill="#f014f0"/>
<circle cx="119.8" cy="85.0" r="1.25" fill="#f014f0"/>
<circle cx="121.6" cy="84.7" r="1.25" fill="#f014f0"/>
<circle cx="124.1" cy="84.4" r="1.25" fill="#f014f0"/>
<circle cx="125.5" cy="84.2" r="1.25" fill="#f014f0"/>
<circle cx="127.4" cy="84.7" r="1.25" fill="#f014f0"/>
<circle cx="128.5" cy="85.0" r="1.25" fill="#f014f0"/>
<circle cx="131.0" cy="84.2" r="1.25" fill="#f014f0"/>
<circle cx="132.1" cy="84.4" r="1.25" fill="#f014f0"/>
<circle cx="106.7" cy="86.1" r="1.25" fill="#f014f0"/>
<circle cx="109.2" cy="85.5" r="1.25" fill="#f014f0"/>
<circle cx="110.3" cy="86.3" r="1.25" fill="#f014f0"/>
<circle cx="114.5" cy="85.5" r="1.25" fill="#f014f0"/>
<circle cx="116.0" cy="86.2" r="1.25" fill="#f014f0"/>
<circle cx="119.3" cy="85.9" r="1.25" fill="#f014f0"/>
<circle cx="123.2" cy="85.6" r="1.25" fill="#f014f0"/>
<circle cx="124.2" cy="85.5" r="1.25" fill="#f014f0"/>
<circle cx="103.7" cy="55.0" r="1.25" fill="#3cff00"/>
<circle cx="105.6" cy="54.9" r="1.25" fill="#3cff00"/>
<circle cx="107.6" cy="55.4" r="1.25" fill="#3cff00"/>
<circle cx="112.6" cy="54.9" r="1.25" fill="#3cff00"/>
<circle cx="115.1" cy="55.0" r="1.25" fill="#3cff00"/>
<circle cx="61.6" cy="56.7" r="1.25" fill="#3cff00"/>
<circle cx="64.9" cy="56.9" r="1.25" fill="#3cff00"/>
<circle cx="67.9" cy="56.8" r="1.25" fill="#3cff00"/>
<circle cx="72.0" cy="56.0" r="1.25" fill="#3cff00"/>
<circle cx="75.5" cy="56.9" r="1.25" fill="#3cff00"/>
<circle cx="78.6" cy="56.2" r="1.25" fill="#3cff00"/>
<circle cx="80.1" cy="55.7" r="1.25" fill="#3cff00"/>
<circle cx="82.0" cy="56.8" r="1.25" fill="#3cff00"/>
<circle cx="83.5" cy="55.6" r="1.25" fill="#3cff00"/>
<circle cx="85.0" cy="56.4" r="1.25" fill="#3cff00"/>
<circle cx="92.0" cy="56.5" r="1.25" fill="#3cff00"/>
<circle cx="95.0" cy="56.9" r="1.25" fill="#3cff00"/>
<circle cx="97.4" cy="55.4" r="1.25" fill="#3cff00"/>
<circle cx="100.0" cy="55.7" r="1.25" fill="#3cff00"/>
<circle cx="101.7" cy="56.5" r="1.25" fill="#3cff00"/>
<circle cx="103.6" cy="55.0" r="1.25" fill="#3cff00"/>
<circle cx="103.6" cy="55.0" r="1.25" fill="#3cff00"/>
<circle cx="106.3" cy="55.2" r="1.25" fill="#3cff00"/>
<circle cx="107.1" cy="56.2" r="1.25" fill="#3cff00"/>
<circle cx="111.0" cy="55.8" r="1.25" fill="#3cff00"/>
<circle cx="115.0" cy="55.3" r="1.25" fill="#3cff00"/>
<circle cx="115.5" cy="55.7" r="1.25" fill="#3cff00"/>
<circle cx="117.1" cy="56.0" r="1.25" fill="#3cff00"/>
<circle cx="118.7" cy="55.9" r="1.25" fill="#3cff00"/>
<circle cx="60.3" cy="58.2" r="1.25" fill="#3cff00"/>
<circle cx="62.2" cy="58.3" r="1.25" fill="#3cff00"/>
<circle cx="65.3" cy="58.0" r="1.25" fill="#3cff00"/>
<circle cx="68.7" cy="58.0" r="1.25" fill="#3cff00"/>
<circle cx="70.7" cy="56.7" r="1.25" fill="#3cff00"/>
<circle cx="72.8" cy="57.9" r="1.25" fill="#3cff00"/>
<circle cx="75.1" cy="57.8" r="1.25" fill="#3cff00"/>
<circle cx="76.3" cy="57.9" r="1.25" fill="#3cff00"/>
<circle cx="78.3" cy="57.0" r="1.25" fill="#3cff00"/>
<circle cx="81.3" cy="57.6" r="1.25" fill="#3cff00"/>
<circle cx="83.6" cy="57.4" r="1.25" fill="#3cff00"/>
<circle cx="84.6" cy="58.4" r="1.25" fill="#3cff00"/>
<circle cx="85.7" cy="58.0" r="1.25" fill="#3cff00"/>
<circle cx="90.0" cy="57.9" r="1.25" fill="#3cff00"/>
<circle cx="91.9" cy="57.2" r="1.25" fill="#3cff00"/>
<circle cx="93.9" cy="56.5" r="1.25" fill="#3cff00"/>
<circle cx="95.8" cy="57.4" r="1.25" fill="#3cff00"/>
<circle cx="98.8" cy="57.9" r="1.25" fill="#3cff00"/>
<circle cx="101.0" cy="56.8" r="1.25" fill="#3cff00"/>
<circle cx="102.4" cy="56.7" r="1.25" fill="#3cff00"/>
<circle cx="103.5" cy="57.1" r="1.25" fill="#3cff00"/>
<circle cx="106.1" cy="57.4" r="1.25" fill="#3cff00"/>
<circle cx="106.4" cy="58.3" r="1.25" fill="#3cff00"/>
<circle cx="110.9" cy="57.7" r="1.25" fill="#3cff00"/>
<circle cx="112.7" cy="57.3" r="1.25" fill="#3cff00"/>
<circle cx="114.5" cy="58.1" r="1.25" fill="#3cff00"/>
<circle cx="115.9" cy="56.9" r="1.25" fill="#3cff00"/>
<circle cx="118.1" cy="57.8" r="1.25" fill="#3cff00"/>
<circle cx="120.3" cy="56.8" r="1.25" fill="#3cff00"/>
<circle cx="122.1" cy="57.4" r="1.25" fill="#3cff00"/>
<circle cx="123.6" cy="57.6" r="1.25" fill="#3cff00"/>
<circle cx="58.6" cy="58.3" r="1.25" fill="#3cff00"/>
<circle cx="59.4" cy="59.6" r="1.25" fill="#3cff00"/>
<circle cx="63.9" cy="59.4" r="1.25" fill="#3cff00"/>
<circle cx="66.6" cy="59.1" r="1.25" fill="#3cff00"/>
<circle cx="68.5" cy="59.8" r="1.25" fill="#3cff00"/>
<circle cx="71.0" cy="57.9" r="1.25" fill="#3cff00"/>
<circle cx="71.4" cy="59.6" r="1.25" fill="#3cff00"/>
<circle cx="77.0" cy="59.3" r="1.25" fill="#3cff00"/>
<circle cx="79.5" cy="59.9" r="1.25" fill="#3cff00"/>
<circle cx="81.1" cy="58.5" r="1.25" fill="#3cff00"/>
<circle cx="85.0" cy="59.9" r="1.25" fill="#3cff00"/>
<circle cx="86.0" cy="58.2" r="1.25" fill="#3cff00"/>
<circle cx="88.6" cy="58.2" r="1.25" fill="#3cff00"/>
<circle cx="90.0" cy="59.1" r="1.25" fill="#3cff00"/>
<circle cx="91.8" cy="58.9" r="1.25" fill="#3cff00"/>
<circle cx="94.3" cy="58.8" r="1.25" fill="#3cff00"/>
<circle cx="94.9" cy="58.0" r="1.25" fill="#3cff00"/>
<circle cx="97.0" cy="59.5" r="1.25" fill="#3cff00"/>
<circle cx="99.9" cy="58.4" r="1.25" fill="#3cff00"/>
<circle cx="100.9" cy="58.7" r="1.25" fill="#3cff00"/>
<circle cx="103.2" cy="58.4" r="1.25" fill="#3cff00"/>
<circle cx="105.0" cy="58.8" r="1.25" fill="#3cff00"/>
<circle cx="106.9" cy="59.1" r="1.25" fill="#3cff00"/>
<circle cx="106.9" cy="58.1" r="1.25" fill="#3cff00"/>
<circle cx="108.6" cy="59.2" r="1.25" fill="#3cff00"/>
<circle cx="112.3" cy="58.2" r="1.25" fill="#3cff00"/>
<circle cx="114.2" cy="59.8" r="1.25" fill="#3cff00"/>
<circle cx="116.1" cy="58.3" r="1.25" fill="#3cff00"/>
<circle cx="117.2" cy="59.6" r="1.25" fill="#3cff00"/>
<circle cx="118.9" cy="59.2" r="1.25" fill="#3cff00"/>
<circle cx="121.4" cy="58.6" r="1.25" fill="#3cff00"/>
<circle cx="123.5" cy="59.4" r="1.25" fill="#3cff00"/>
<circle cx="124.1" cy="59.3" r="1.25" fill="#3cff00"/>
<circle cx="127.1" cy="58.4" r="1.25" fill="#3cff00"/>
<circle cx="57.6" cy="59.7" r="1.25" fill="#3cff00"/>
<circle cx="60.1" cy="60.9" r="1.25" fill="#3cff00"/>
<circle cx="61.9" cy="60.1" r="1.25" fill="#3cff00"/>
<circle cx="64.6" cy="60.9" r="1.25" fill="#3cff00"/>
<circle cx="66.5" cy="60.1" r="1.25" fill="#3cff00"/>
<circle cx="67.3" cy="61.4" r="1.25" fill="#3cff00"/>
<circle cx="68.5" cy="59.6" r="1.25" fill="#3cff00"/>
<circle cx="71.9" cy="60.7" r="1.25" fill="#3cff00"/>
<circle cx="73.7" cy="60.9" r="1.25" fill="#3cff00"/>
<circle cx="74.4" cy="60.8" r="1.25" fill="#3cff00"/>
<circle cx="75.4" cy="60.1" r="1.25" fill="#3cff00"/>
<circle cx="80.3" cy="61.2" r="1.25" fill="#3cff00"/>
<circle cx="83.2" cy="59.8" r="1.25" fill="#3cff00"/>
<circle cx="84.8" cy="60.1" r="1.25" fill="#3cff00"/>
<circle cx="86.5" cy="60.6" r="1.25" fill="#3cff00"/>
<circle cx="87.7" cy="60.4" r="1.25" fill="#3cff00"/>
<circle cx="89.7" cy="60.8" r="1.25" fill="#3cff00"/>
<circle cx="91.7" cy="60.0" r="1.25" fill="#3cff00"/>
<circle cx="93.7" cy="61.0" r="1.25" fill="#3cff00"/>
<circle cx="94.5" cy="61.3" r="1.25" fill="#3cff00"/>
<circle cx="96.4" cy="60.0" r="1.25" fill="#3cff00"/>
<circle cx="98.8" cy="61.1" r="1.25" fill="#3cff00"/>
<circle cx="100.6" cy="59.8" r="1.25" fill="#3cff00"/>
<circle cx="101.5" cy="60.0" r="1.25" fill="#3cff00"/>
<circle cx="104.0" cy="60.9" r="1.25" fill="#3cff00"/>
<circle cx="104.7" cy="61.0" r="1.25" fill="#3cff00"/>
<circle cx="107.3" cy="60.7" r="1.25" fill="#3cff00"/>
<circle cx="108.1" cy="59.5" r="1.25" fill="#3cff00"/>
<circle cx="109.3" cy="61.4" r="1.25" fill="#3cff00"/>
<circle cx="112.3" cy="61.4" r="1.25" fill="#3cff00"/>
<circle cx="113.1" cy="60.1" r="1.25" fill="#3cff00"/>
<circle cx="116.0" cy="60.9" r="1.25" fill="#3cff00"/>
<circle cx="116.8" cy="59.9" r="1.25" fill="#3cff00"/>
<circle cx="119.2" cy="61.2" r="1.25" fill="#3cff00"/>
<circle cx="121.3" cy="60.3" r="1.25" fill="#3cff00"/>
<circle cx="121.8" cy="61.4" r="1.25" fill="#3cff00"/>
<circle cx="126.3" cy="60.1" r="1.25" fill="#3cff00"/>
<circle cx="128.1" cy="60.3" r="1.25" fill="#3cff00"/>
<circle cx="129.6" cy="60.2" r="1.25" fill="#3cff00"/>
<circle cx="131.5" cy="60.3" r="1.25" fill="#3cff00"/>
<circle cx="56.4" cy="62.2" r="1.25" fill="#3cff00"/>
<circle cx="58.5" cy="61.1" r="1.25" fill="#3cff00"/>
<circle cx="59.8" cy="61.7" r="1.25" fill="#3cff00"/>
<circle cx="63.0" cy="62.6" r="1.25" fill="#3cff00"/>
<circle cx="65.4" cy="61.6" r="1.25" fill="#3cff00"/>
<circle cx="67.6" cy="62.5" r="1.25" fill="#3cff00"/>
<circle cx="69.4" cy="61.7" r="1.25" fill="#3cff00"/>
<circle cx="72.3" cy="62.5" r="1.25" fill="#3cff00"/>
<circle cx="73.8" cy="61.7" r="1.25" fill="#3cff00"/>
<circle cx="74.6" cy="61.4" r="1.25" fill="#3cff00"/>
<circle cx="77.0" cy="62.9" r="1.25" fill="#3cff00"/>
<circle cx="78.8" cy="61.3" r="1.25" fill="#3cff00"/>
<circle cx="79.7" cy="61.1" r="1.25" fill="#3cff00"/>
<circle cx="82.1" cy="61.9" r="1.25" fill="#3cff00"/>
<circle cx="85.0" cy="61.9" r="1.25" fill="#3cff00"/>
<circle cx="87.1" cy="62.6" r="1.25" fill="#3cff00"/>
<circle cx="89.8" cy="61.6" r="1.25" fill="#3cff00"/>
<circle cx="91.0" cy="62.0" r="1.25" fill="#3cff00"/>
<circle cx="91.6" cy="62.8" r="1.25" fill="#3cff00"/>
<circle cx="93.4" cy="62.2" r="1.25" fill="#3cff00"/>
<circle cx="95.5" cy="61.5" r="1.25" fill="#3cff00"/>
<circle cx="99.0" cy="61.7" r="1.25" fill="#3cff00"/>
<circle cx="101.3" cy="62.2" r="1.25" fill="#3cff00"/>
<circle cx="102.5" cy="61.3" r="1.25" fill="#3cff00"/>
<circle cx="104.3" cy="62.6" r="1.25" fill="#3cff00"/>
<circle cx="106.5" cy="60.9" r="1.25" fill="#3cff00"/>
<circle cx="108.7" cy="62.3" r="1.25" fill="#3cff00"/>
<circle cx="109.4" cy="61.8" r="1.25" fill="#3cff00"/>
<circle cx="110.5" cy="62.2" r="1.25" fill="#3cff00"/>
<circle cx="112.4" cy="62.2" r="1.25" fill="#3cff00"/>
<circle cx="114.8" cy="61.2" r="1.25" fill="#3cff00"/>
<circle cx="115.9" cy="62.0" r="1.25" fill="#3cff00"/>
<circle cx="117.9" cy="62.1" r="1.25" fill="#3cff00"/>
<circle cx="119.3" cy="62.3" r="1.25" fill="#3cff00"/>
<circle cx="121.6" cy="62.5" r="1.25" fill="#3cff00"/>
<circle cx="122.5" cy="61.8" r="1.25" fill="#3cff00"/>
<circle cx="124.9" cy="62.4" r="1.25" fill="#3cff00"/>
<circle cx="126.3" cy="62.9" r="1.25" fill="#3cff00"/>
<circle cx="128.5" cy="61.1" r="1.25" fill="#3cff00"/>
<circle cx="132.0" cy="61.4" r="1.25" fill="#3cff00"/>
<circle cx="132.6" cy="62.6" r="1.25" fill="#3cff00"/>
<circle cx="134.0" cy="62.7" r="1.25" fill="#3cff00"/>
<circle cx="55.1" cy="64.2" r="1.25" fill="#3cff00"/>
<circle cx="56.9" cy="63.3" r="1.25" fill="#3cff00"/>
<circle cx="57.2" cy="64.2" r="1.25" fill="#3cff00"/>
<circle cx="59.8" cy="62.8" r="1.25" fill="#3cff00"/>
<circle cx="61.9" cy="63.5" r="1.25" fill="#3cff00"/>
<circle cx="63.4" cy="62.6" r="1.25" fill="#3cff00"/>
<circle cx="64.3" cy="64.0" r="1.25" fill="#3cff00"/>
<circle cx="65.5" cy="64.3" r="1.25" fill="#3cff00"/>
<circle cx="68.3" cy="64.0" r="1.25" fill="#3cff00"/>
<circle cx="69.9" cy="63.2" r="1.25" fill="#3cff00"/>
<circle cx="70.6" cy="64.3" r="1.25" fill="#3cff00"/>
<circle cx="72.9" cy="63.4" r="1.25" fill="#3cff00"/>
<circle cx="75.1" cy="63.9" r="1.25" fill="#3cff00"/>
<circle cx="76.0" cy="62.8" r="1.25" fill="#3cff00"/>
<circle cx="78.5" cy="63.7" r="1.25" fill="#3cff00"/>
<circle cx="81.3" cy="63.4" r="1.25" fill="#3cff00"/>
<circle cx="82.5" cy="63.8" r="1.25" fill="#3cff00"/>
<circle cx="85.4" cy="62.5" r="1.25" fill="#3cff00"/>
<circle cx="86.8" cy="63.3" r="1.25" fill="#3cff00"/>
<circle cx="88.4" cy="62.8" r="1.25" fill="#3cff00"/>
<circle cx="88.9" cy="64.0" r="1.25" fill="#3cff00"/>
<circle cx="92.3" cy="63.5" r="1.25" fill="#3cff00"/>
<circle cx="93.6" cy="62.6" r="1.25" fill="#3cff00"/>
<circle cx="94.6" cy="64.1" r="1.25" fill="#3cff00"/>
<circle cx="97.1" cy="64.0" r="1.25" fill="#3cff00"/>
<circle cx="98.8" cy="64.3" r="1.25" fill="#3cff00"/>
<circle cx="99.3" cy="63.2" r="1.25" fill="#3cff00"/>
<circle cx="101.1" cy="62.8" r="1.25" fill="#3cff00"/>
<circle cx="103.3" cy="62.7" r="1.25" fill="#3cff00"/>
<circle cx="105.4" cy="62.7" r="1.25" fill="#3cff00"/>
<circle cx="107.0" cy="63.3" r="1.25" fill="#3cff00"/>
<circle cx="109.7" cy="62.4" r="1.25" fill="#3cff00"/>
<circle cx="112.1" cy="63.5" r="1.25" fill="#3cff00"/>
<circle cx="114.3" cy="63.0" r="1.25" fill="#3cff00"/>
<circle cx="114.8" cy="63.5" r="1.25" fill="#3cff00"/>
<circle cx="116.8" cy="63.3" r="1.25" fill="#3cff00"/>
<circle cx="119.1" cy="63.8" r="1.25" fill="#3cff00"/>
<circle cx="120.6" cy="63.8" r="1.25" fill="#3cff00"/>
<circle cx="122.9" cy="64.1" r="1.25" fill="#3cff00"/>
<circle cx="123.4" cy="62.5" r="1.25" fill="#3cff00"/>
<circle cx="124.8" cy="63.4" r="1.25" fill="#3cff00"/>
<circle cx="126.9" cy="63.3" r="1.25" fill="#3cff00"/>
<circle cx="129.6" cy="63.8" r="1.25" fill="#3cff00"/>
<circle cx="130.1" cy="62.4" r="1.25" fill="#3cff00"/>
<circle cx="131.6" cy="63.8" r="1.25" fill="#3cff00"/>
<circle cx="134.9" cy="63.9" r="1.25" fill="#3cff00"/>
<circle cx="53.2" cy="65.2" r="1.25" fill="#3cff00"/>
<circle cx="55.0" cy="65.0" r="1.25" fill="#3cff00"/>
<circle cx="56.9" cy="65.6" r="1.25" fill="#3cff00"/>
<circle cx="59.2" cy="65.1" r="1.25" fill="#3cff00"/>
<circle cx="62.5" cy="64.8" r="1.25" fill="#3cff00"/>
<circle cx="63.1" cy="65.3" r="1.25" fill="#3cff00"/>
<circle cx="64.6" cy="65.1" r="1.25" fill="#3cff00"/>
<circle cx="67.3" cy="63.9" r="1.25" fill="#3cff00"/>
<circle cx="68.3" cy="65.1" r="1.25" fill="#3cff00"/>
<circle cx="69.6" cy="65.2" r="1.25" fill="#3cff00"/>
<circle cx="72.6" cy="64.5" r="1.25" fill="#3cff00"/>
<circle cx="74.4" cy="64.1" r="1.25" fill="#3cff00"/>
<circle cx="74.6" cy="65.7" r="1.25" fill="#3cff00"/>
<circle cx="77.6" cy="64.6" r="1.25" fill="#3cff00"/>
<circle cx="78.6" cy="64.9" r="1.25" fill="#3cff00"/>
<circle cx="79.8" cy="64.9" r="1.25" fill="#3cff00"/>
<circle cx="83.2" cy="64.6" r="1.25" fill="#3cff00"/>
<circle cx="83.4" cy="65.8" r="1.25" fill="#3cff00"/>
<circle cx="85.9" cy="65.5" r="1.25" fill="#3cff00"/>
<circle cx="87.9" cy="64.4" r="1.25" fill="#3cff00"/>
<circle cx="88.1" cy="64.7" r="1.25" fill="#3cff00"/>
<circle cx="90.1" cy="64.7" r="1.25" fill="#3cff00"/>
<circle cx="92.0" cy="64.1" r="1.25" fill="#3cff00"/>
<circle cx="95.3" cy="65.0" r="1.25" fill="#3cff00"/>
<circle cx="98.8" cy="65.0" r="1.25" fill="#3cff00"/>
<circle cx="100.1" cy="65.7" r="1.25" fill="#3cff00"/>
<circle cx="102.2" cy="65.3" r="1.25" fill="#3cff00"/>
<circle cx="104.1" cy="64.1" r="1.25" fill="#3cff00"/>
<circle cx="105.1" cy="64.1" r="1.25" fill="#3cff00"/>
<circle cx="106.9" cy="64.0" r="1.25" fill="#3cff00"/>
<circle cx="109.5" cy="64.1" r="1.25" fill="#3cff00"/>
<circle cx="111.0" cy="64.3" r="1.25" fill="#3cff00"/>
<circle cx="113.5" cy="63.9" r="1.25" fill="#3cff00"/>
<circle cx="113.7" cy="65.8" r="1.25" fill="#3cff00"/>
<circle cx="116.4" cy="65.6" r="1.25" fill="#3cff00"/>
<circle cx="117.1" cy="65.2" r="1.25" fill="#3cff00"/>
<circle cx="120.1" cy="64.4" r="1.25" fill="#3cff00"/>
<circle cx="120.7" cy="64.7" r="1.25" fill="#3cff00"/>
<circle cx="123.2" cy="64.4" r="1.25" fill="#3cff00"/>
<circle cx="125.0" cy="64.0" r="1.25" fill="#3cff00"/>
<circle cx="126.4" cy="64.3" r="1.25" fill="#3cff00"/>
<circle cx="128.2" cy="64.9" r="1.25" fill="#3cff00"/>
<circle cx="134.3" cy="65.8" r="1.25" fill="#3cff00"/>
<circle cx="135.6" cy="65.1" r="1.25" fill="#3cff00"/>
<circle cx="54.5" cy="66.7" r="1.25" fill="#3cff00"/>
<circle cx="55.3" cy="67.3" r="1.25" fill="#3cff00"/>
<circle cx="57.4" cy="66.1" r="1.25" fill="#3cff00"/>
<circle cx="59.8" cy="66.6" r="1.25" fill="#3cff00"/>
<circle cx="61.1" cy="66.4" r="1.25" fill="#3cff00"/>
<circle cx="63.6" cy="67.3" r="1.25" fill="#3cff00"/>
<circle cx="65.4" cy="66.3" r="1.25" fill="#3cff00"/>
<circle cx="65.6" cy="66.8" r="1.25" fill="#3cff00"/>
<circle cx="68.7" cy="67.0" r="1.25" fill="#3cff00"/>
<circle cx="69.0" cy="66.9" r="1.25" fill="#3cff00"/>
<circle cx="70.8" cy="66.1" r="1.25" fill="#3cff00"/>
<circle cx="73.6" cy="67.0" r="1.25" fill="#3cff00"/>
<circle cx="73.9" cy="65.6" r="1.25" fill="#3cff00"/>
<circle cx="75.7" cy="66.0" r="1.25" fill="#3cff00"/>
<circle cx="77.3" cy="66.8" r="1.25" fill="#3cff00"/>
<circle cx="80.4" cy="66.0" r="1.25" fill="#3cff00"/>
<circle cx="81.0" cy="65.9" r="1.25" fill="#3cff00"/>
<circle cx="82.1" cy="66.2" r="1.25" fill="#3cff00"/>
<circle cx="83.8" cy="67.1" r="1.25" fill="#3cff00"/>
<circle cx="85.5" cy="67.3" r="1.25" fill="#3cff00"/>
<circle cx="87.7" cy="65.4" r="1.25" fill="#3cff00"/>
<circle cx="90.3" cy="66.5" r="1.25" fill="#3cff00"/>
<circle cx="94.2" cy="67.0" r="1.25" fill="#3cff00"/>
<circle cx="97.1" cy="67.0" r="1.25" fill="#3cff00"/>
<circle cx="98.5" cy="67.0" r="1.25" fill="#3cff00"/>
<circle cx="100.2" cy="65.9" r="1.25" fill="#3cff00"/>
<circle cx="101.2" cy="66.8" r="1.25" fill="#3cff00"/>
<circle cx="104.1" cy="66.6" r="1.25" fill="#3cff00"/>
<circle cx="106.1" cy="67.0" r="1.25" fill="#3cff00"/>
<circle cx="106.5" cy="67.2" r="1.25" fill="#3cff00"/>
<circle cx="107.8" cy="66.0" r="1.25" fill="#3cff00"/>
<circle cx="111.2" cy="66.6" r="1.25" fill="#3cff00"/>
<circle cx="112.9" cy="66.9" r="1.25" fill="#3cff00"/>
<circle cx="113.6" cy="66.9" r="1.25" fill="#3cff00"/>
<circle cx="114.6" cy="66.6" r="1.25" fill="#3cff00"/>
<circle cx="118.0" cy="65.6" r="1.25" fill="#3cff00"/>
<circle cx="122.1" cy="66.9" r="1.25" fill="#3cff00"/>
<circle cx="123.2" cy="67.3" r="1.25" fill="#3cff00"/>
<circle cx="124.7" cy="66.2" r="1.25" fill="#3cff00"/>
<circle cx="128.8" cy="67.0" r="1.25" fill="#3cff00"/>
<circle cx="130.9" cy="65.8" r="1.25" fill="#3cff00"/>
<circle cx="132.4" cy="66.1" r="1.25" fill="#3cff00"/>
<circle cx="134.1" cy="66.0" r="1.25" fill="#3cff00"/>
<circle cx="136.8" cy="65.7" r="1.25" fill="#3cff00"/>
<circle cx="136.5" cy="65.5" r="1.25" fill="#3cff00"/>
<circle cx="51.9" cy="66.9" r="1.25" fill="#3cff00"/>
<circle cx="53.1" cy="67.8" r="1.25" fill="#3cff00"/>
<circle cx="54.2" cy="68.3" r="1.25" fill="#3cff00"/>
<circle cx="57.0" cy="67.0" r="1.25" fill="#3cff00"/>
<circle cx="59.2" cy="68.8" r="1.25" fill="#3cff00"/>
<circle cx="59.2" cy="68.6" r="1.25" fill="#3cff00"/>
<circle cx="61.4" cy="68.7" r="1.25" fill="#3cff00"/>
<circle cx="64.4" cy="67.3" r="1.25" fill="#3cff00"/>
<circle cx="65.0" cy="67.4" r="1.25" fill="#3cff00"/>
<circle cx="67.2" cy="67.5" r="1.25" fill="#3cff00"/>
<circle cx="70.5" cy="68.8" r="1.25" fill="#3cff00"/>
<circle cx="72.0" cy="67.9" r="1.25" fill="#3cff00"/>
<circle cx="74.7" cy="68.1" r="1.25" fill="#3cff00"/>
<circle cx="75.7" cy="67.9" r="1.25" fill="#3cff00"/>
<circle cx="78.1" cy="66.8" r="1.25" fill="#3cff00"/>
<circle cx="79.6" cy="66.9" r="1.25" fill="#3cff00"/>
<circle cx="79.6" cy="68.1" r="1.25" fill="#3cff00"/>
<circle cx="81.7" cy="67.6" r="1.25" fill="#3cff00"/>
<circle cx="84.4" cy="67.9" r="1.25" fill="#3cff00"/>
<circle cx="87.9" cy="68.7" r="1.25" fill="#3cff00"/>
<circle cx="89.1" cy="67.6" r="1.25" fill="#3cff00"/>
<circle cx="91.4" cy="67.1" r="1.25" fill="#3cff00"/>
<circle cx="93.0" cy="68.7" r="1.25" fill="#3cff00"/>
<circle cx="95.2" cy="68.5" r="1.25" fill="#3cff00"/>
<circle cx="97.6" cy="68.7" r="1.25" fill="#3cff00"/>
<circle cx="98.9" cy="67.1" r="1.25" fill="#3cff00"/>
<circle cx="100.5" cy="68.2" r="1.25" fill="#3cff00"/>
<circle cx="101.9" cy="68.4" r="1.25" fill="#3cff00"/>
<circle cx="103.6" cy="68.5" r="1.25" fill="#3cff00"/>
<circle cx="105.5" cy="68.7" r="1.25" fill="#3cff00"/>
<circle cx="107.2" cy="66.8" r="1.25" fill="#3cff00"/>
<circle cx="110.1" cy="67.0" r="1.25" fill="#3cff00"/>
<circle cx="111.7" cy="68.1" r="1.25" fill="#3cff00"/>
<circle cx="113.8" cy="67.5" r="1.25" fill="#3cff00"/>
<circle cx="115.4" cy="67.4" r="1.25" fill="#3cff00"/>
<circle cx="116.6" cy="68.5" r="1.25" fill="#3cff00"/>
<circle cx="117.5" cy="67.3" r="1.25" fill="#3cff00"/>
<circle cx="120.8" cy="68.2" r="1.25" fill="#3cff00"/>
<circle cx="122.3" cy="68.4" r="1.25" fill="#3cff00"/>
<circle cx="124.4" cy="67.0" r="1.25" fill="#3cff00"/>
<circle cx="127.0" cy="67.7" r="1.25" fill="#3cff00"/>
<circle cx="127.5" cy="67.0" r="1.25" fill="#3cff00"/>
<circle cx="130.6" cy="67.1" r="1.25" fill="#3cff00"/>
<circle cx="132.1" cy="67.0" r="1.25" fill="#3cff00"/>
<circle cx="132.4" cy="67.3" r="1.25" fill="#3cff00"/>
<circle cx="135.7" cy="67.6" r="1.25" fill="#3cff00"/>
<circle cx="135.7" cy="67.5" r="1.25" fill="#3cff00"/>
<circle cx="48.7" cy="69.8" r="1.25" fill="#3cff00"/>
<circle cx="50.4" cy="68.8" r="1.25" fill="#3cff00"/>
<circle cx="52.8" cy="69.3" r="1.25" fill="#3cff00"/>
<circle cx="55.1" cy="70.2" r="1.25" fill="#3cff00"/>
<circle cx="56.0" cy="70.0" r="1.25" fill="#3cff00"/>
<circle cx="57.1" cy="68.5" r="1.25" fill="#3cff00"/>
<circle cx="59.8" cy="68.6" r="1.25" fill="#3cff00"/>
<circle cx="62.0" cy="69.3" r="1.25" fill="#3cff00"/>
<circle cx="63.4" cy="70.1" r="1.25" fill="#3cff00"/>
<circle cx="63.6" cy="69.6" r="1.25" fill="#3cff00"/>
<circle cx="67.0" cy="69.6" r="1.25" fill="#3cff00"/>
<circle cx="67.8" cy="68.9" r="1.25" fill="#3cff00"/>
<circle cx="72.2" cy="70.1" r="1.25" fill="#3cff00"/>
<circle cx="75.3" cy="70.0" r="1.25" fill="#3cff00"/>
<circle cx="77.7" cy="70.0" r="1.25" fill="#3cff00"/>
<circle cx="80.2" cy="69.2" r="1.25" fill="#3cff00"/>
<circle cx="80.8" cy="69.9" r="1.25" fill="#3cff00"/>
<circle cx="82.3" cy="70.3" r="1.25" fill="#3cff00"/>
<circle cx="84.5" cy="69.1" r="1.25" fill="#3cff00"/>
<circle cx="87.3" cy="70.2" r="1.25" fill="#3cff00"/>
<circle cx="87.9" cy="68.5" r="1.25" fill="#3cff00"/>
<circle cx="89.9" cy="69.5" r="1.25" fill="#3cff00"/>
<circle cx="92.6" cy="69.1" r="1.25" fill="#3cff00"/>
<circle cx="95.2" cy="69.4" r="1.25" fill="#3cff00"/>
<circle cx="96.2" cy="68.9" r="1.25" fill="#3cff00"/>
<circle cx="98.3" cy="70.3" r="1.25" fill="#3cff00"/>
<circle cx="99.5" cy="68.4" r="1.25" fill="#3cff00"/>
<circle cx="103.0" cy="69.9" r="1.25" fill="#3cff00"/>
<circle cx="105.3" cy="69.4" r="1.25" fill="#3cff00"/>
<circle cx="106.0" cy="69.6" r="1.25" fill="#3cff00"/>
<circle cx="108.4" cy="70.1" r="1.25" fill="#3cff00"/>
<circle cx="109.9" cy="68.4" r="1.25" fill="#3cff00"/>
<circle cx="112.3" cy="68.7" r="1.25" fill="#3cff00"/>
<circle cx="113.7" cy="68.3" r="1.25" fill="#3cff00"/>
<circle cx="115.7" cy="68.8" r="1.25" fill="#3cff00"/>
<circle cx="116.6" cy="68.6" r="1.25" fill="#3cff00"/>
<circle cx="119.4" cy="69.2" r="1.25" fill="#3cff00"/>
<circle cx="120.2" cy="69.9" r="1.25" fill="#3cff00"/>
<circle cx="122.5" cy="69.1" r="1.25" fill="#3cff00"/>
<circle cx="123.3" cy="70.3" r="1.25" fill="#3cff00"/>
<circle cx="125.7" cy="69.6" r="1.25" fill="#3cff00"/>
<circle cx="127.0" cy="68.7" r="1.25" fill="#3cff00"/>
<circle cx="128.0" cy="69.2" r="1.25" fill="#3cff00"/>
<circle cx="131.3" cy="69.7" r="1.25" fill="#3cff00"/>
<circle cx="131.9" cy="69.7" r="1.25" fill="#3cff00"/>
<circle cx="134.6" cy="69.0" r="1.25" fill="#3cff00"/>
<circle cx="137.3" cy="70.3" r="1.25" fill="#3cff00"/>
<circle cx="47.7" cy="71.3" r="1.25" fill="#3cff00"/>
<circle cx="50.5" cy="70.7" r="1.25" fill="#3cff00"/>
<circle cx="52.2" cy="70.2" r="1.25" fill="#3cff00"/>
<circle cx="52.3" cy="70.3" r="1.25" fill="#3cff00"/>
<circle cx="55.6" cy="71.0" r="1.25" fill="#3cff00"/>
<circle cx="57.2" cy="71.1" r="1.25" fill="#3cff00"/>
<circle cx="58.5" cy="71.0" r="1.25" fill="#3cff00"/>
<circle cx="59.5" cy="70.4" r="1.25" fill="#3cff00"/>
<circle cx="61.0" cy="70.5" r="1.25" fill="#3cff00"/>
<circle cx="63.7" cy="70.1" r="1.25" fill="#3cff00"/>
<circle cx="64.5" cy="71.3" r="1.25" fill="#3cff00"/>
<circle cx="66.1" cy="70.3" r="1.25" fill="#3cff00"/>
<circle cx="69.9" cy="71.3" r="1.25" fill="#3cff00"/>
<circle cx="74.7" cy="69.8" r="1.25" fill="#3cff00"/>
<circle cx="75.1" cy="70.2" r="1.25" fill="#3cff00"/>
<circle cx="78.0" cy="69.8" r="1.25" fill="#3cff00"/>
<circle cx="80.1" cy="70.2" r="1.25" fill="#3cff00"/>
<circle cx="82.0" cy="70.0" r="1.25" fill="#3cff00"/>
<circle cx="83.4" cy="70.9" r="1.25" fill="#3cff00"/>
<circle cx="85.3" cy="70.8" r="1.25" fill="#3cff00"/>
<circle cx="89.6" cy="70.9" r="1.25" fill="#3cff00"/>
<circle cx="94.9" cy="69.8" r="1.25" fill="#3cff00"/>
<circle cx="95.3" cy="70.8" r="1.25" fill="#3cff00"/>
<circle cx="97.2" cy="70.8" r="1.25" fill="#3cff00"/>
<circle cx="98.6" cy="71.0" r="1.25" fill="#3cff00"/>
<circle cx="101.9" cy="70.1" r="1.25" fill="#3cff00"/>
<circle cx="101.7" cy="70.3" r="1.25" fill="#3cff00"/>
<circle cx="103.6" cy="70.8" r="1.25" fill="#3cff00"/>
<circle cx="106.7" cy="69.9" r="1.25" fill="#3cff00"/>
<circle cx="108.5" cy="70.0" r="1.25" fill="#3cff00"/>
<circle cx="115.5" cy="71.5" r="1.25" fill="#3cff00"/>
<circle cx="118.5" cy="71.0" r="1.25" fill="#3cff00"/>
<circle cx="120.6" cy="70.0" r="1.25" fill="#3cff00"/>
<circle cx="121.8" cy="70.4" r="1.25" fill="#3cff00"/>
<circle cx="122.9" cy="71.3" r="1.25" fill="#3cff00"/>
<circle cx="125.6" cy="70.5" r="1.25" fill="#3cff00"/>
<circle cx="126.4" cy="71.4" r="1.25" fill="#3cff00"/>
<circle cx="128.2" cy="69.8" r="1.25" fill="#3cff00"/>
<circle cx="129.0" cy="71.5" r="1.25" fill="#3cff00"/>
<circle cx="134.2" cy="69.9" r="1.25" fill="#3cff00"/>
<circle cx="135.4" cy="71.0" r="1.25" fill="#3cff00"/>
<circle cx="137.5" cy="70.6" r="1.25" fill="#3cff00"/>
<circle cx="139.0" cy="70.3" r="1.25" fill="#3cff00"/>
<circle cx="48.4" cy="72.7" r="1.25" fill="#3cff00"/>
<circle cx="48.4" cy="73.1" r="1.25" fill="#3cff00"/>
<circle cx="51.0" cy="71.5" r="1.25" fill="#3cff00"/>
<circle cx="53.4" cy="71.2" r="1.25" fill="#3cff00"/>
<circle cx="65.0" cy="71.5" r="1.25" fill="#3cff00"/>
<circle cx="65.9" cy="71.8" r="1.25" fill="#3cff00"/>
<circle cx="67.7" cy="72.5" r="1.25" fill="#3cff00"/>
<circle cx="70.3" cy="72.3" r="1.25" fill="#3cff00"/>
<circle cx="72.2" cy="71.7" r="1.25" fill="#3cff00"/>
<circle cx="72.6" cy="71.9" r="1.25" fill="#3cff00"/>
<circle cx="76.3" cy="73.0" r="1.25" fill="#3cff00"/>
<circle cx="78.5" cy="72.8" r="1.25" fill="#3cff00"/>
<circle cx="80.2" cy="71.6" r="1.25" fill="#3cff00"/>
<circle cx="81.6" cy="72.8" r="1.25" fill="#3cff00"/>
<circle cx="82.8" cy="72.9" r="1.25" fill="#3cff00"/>
<circle cx="85.8" cy="71.5" r="1.25" fill="#3cff00"/>
<circle cx="85.7" cy="72.7" r="1.25" fill="#3cff00"/>
<circle cx="88.5" cy="72.8" r="1.25" fill="#3cff00"/>
<circle cx="90.0" cy="73.1" r="1.25" fill="#3cff00"/>
<circle cx="91.9" cy="72.4" r="1.25" fill="#3cff00"/>
<circle cx="93.8" cy="72.4" r="1.25" fill="#3cff00"/>
<circle cx="94.8" cy="72.1" r="1.25" fill="#3cff00"/>
<circle cx="96.8" cy="72.0" r="1.25" fill="#3cff00"/>
<circle cx="99.3" cy="71.3" r="1.25" fill="#3cff00"/>
<circle cx="101.6" cy="72.1" r="1.25" fill="#3cff00"/>
<circle cx="103.2" cy="71.7" r="1.25" fill="#3cff00"/>
<circle cx="106.0" cy="73.1" r="1.25" fill="#3cff00"/>
<circle cx="106.8" cy="71.9" r="1.25" fill="#3cff00"/>
<circle cx="109.4" cy="72.9" r="1.25" fill="#3cff00"/>
<circle cx="109.8" cy="72.7" r="1.25" fill="#3cff00"/>
<circle cx="111.9" cy="72.0" r="1.25" fill="#3cff00"/>
<circle cx="114.3" cy="73.0" r="1.25" fill="#3cff00"/>
<circle cx="117.5" cy="72.2" r="1.25" fill="#3cff00"/>
<circle cx="117.9" cy="72.7" r="1.25" fill="#3cff00"/>
<circle cx="121.1" cy="72.6" r="1.25" fill="#3cff00"/>
<circle cx="123.0" cy="73.1" r="1.25" fill="#3cff00"/>
<circle cx="123.1" cy="72.4" r="1.25" fill="#3cff00"/>
<circle cx="125.1" cy="73.1" r="1.25" fill="#3cff00"/>
<circle cx="126.5" cy="71.7" r="1.25" fill="#3cff00"/>
<circle cx="129.1" cy="71.9" r="1.25" fill="#3cff00"/>
<circle cx="131.3" cy="71.6" r="1.25" fill="#3cff00"/>
<circle cx="133.7" cy="72.5" r="1.25" fill="#3cff00"/>
<circle cx="135.6" cy="72.5" r="1.25" fill="#3cff00"/>
<circle cx="137.2" cy="71.3" r="1.25" fill="#3cff00"/>
<circle cx="139.3" cy="71.6" r="1.25" fill="#3cff00"/>
<circle cx="46.6" cy="73.2" r="1.25" fill="#3cff00"/>
<circle cx="49.2" cy="73.2" r="1.25" fill="#3cff00"/>
<circle cx="73.2" cy="73.1" r="1.25" fill="#3cff00"/>
<circle cx="78.7" cy="72.8" r="1.25" fill="#3cff00"/>
<circle cx="82.4" cy="73.4" r="1.25" fill="#3cff00"/>
<circle cx="83.5" cy="73.3" r="1.25" fill="#3cff00"/>
<circle cx="89.4" cy="72.9" r="1.25" fill="#3cff00"/>
<circle cx="90.1" cy="73.2" r="1.25" fill="#3cff00"/>
<circle cx="93.1" cy="73.9" r="1.25" fill="#3cff00"/>
<circle cx="96.4" cy="73.4" r="1.25" fill="#3cff00"/>
<circle cx="98.5" cy="73.2" r="1.25" fill="#3cff00"/>
<circle cx="102.2" cy="72.9" r="1.25" fill="#3cff00"/>
<circle cx="106.3" cy="74.1" r="1.25" fill="#3cff00"/>
<circle cx="108.5" cy="74.0" r="1.25" fill="#3cff00"/>
<circle cx="112.3" cy="73.0" r="1.25" fill="#3cff00"/>
<circle cx="114.9" cy="73.7" r="1.25" fill="#3cff00"/>
<circle cx="117.0" cy="72.9" r="1.25" fill="#3cff00"/>
<circle cx="117.4" cy="73.8" r="1.25" fill="#3cff00"/>
<circle cx="121.3" cy="72.8" r="1.25" fill="#3cff00"/>
<circle cx="122.1" cy="73.4" r="1.25" fill="#3cff00"/>
<circle cx="125.0" cy="74.3" r="1.25" fill="#3cff00"/>
<circle cx="126.0" cy="74.4" r="1.25" fill="#3cff00"/>
<circle cx="127.4" cy="74.1" r="1.25" fill="#3cff00"/>
<circle cx="129.7" cy="73.0" r="1.25" fill="#3cff00"/>
<circle cx="131.2" cy="73.0" r="1.25" fill="#3cff00"/>
<circle cx="133.1" cy="73.0" r="1.25" fill="#3cff00"/>
<circle cx="135.1" cy="73.8" r="1.25" fill="#3cff00"/>
<circle cx="137.3" cy="72.9" r="1.25" fill="#3cff00"/>
<circle cx="72.4" cy="56.0" r="1.25" fill="#1c1cec"/>
<circle cx="68.5" cy="57.6" r="1.25" fill="#1c1cec"/>
<circle cx="83.6" cy="55.7" r="1.25" fill="#1c1cec"/>
<circle cx="84.3" cy="57.0" r="1.25" fill="#1c1cec"/>
<circle cx="86.8" cy="56.7" r="1.25" fill="#1c1cec"/>
<circle cx="96.4" cy="57.6" r="1.25" fill="#1c1cec"/>
<circle cx="66.6" cy="57.7" r="1.25" fill="#1c1cec"/>
<circle cx="68.6" cy="59.5" r="1.25" fill="#1c1cec"/>
<circle cx="72.7" cy="58.2" r="1.25" fill="#1c1cec"/>
<circle cx="82.3" cy="59.8" r="1.25" fill="#1c1cec"/>
<circle cx="83.1" cy="59.8" r="1.25" fill="#1c1cec"/>
<circle cx="90.0" cy="59.5" r="1.25" fill="#1c1cec"/>
<circle cx="92.5" cy="59.8" r="1.25" fill="#1c1cec"/>
<circle cx="94.5" cy="58.9" r="1.25" fill="#1c1cec"/>
<circle cx="97.4" cy="59.0" r="1.25" fill="#1c1cec"/>
<circle cx="100.7" cy="57.8" r="1.25" fill="#1c1cec"/>
<circle cx="117.0" cy="59.7" r="1.25" fill="#1c1cec"/>
<circle cx="57.9" cy="59.2" r="1.25" fill="#1c1cec"/>
<circle cx="60.7" cy="59.6" r="1.25" fill="#1c1cec"/>
<circle cx="66.7" cy="60.1" r="1.25" fill="#1c1cec"/>
<circle cx="71.9" cy="59.7" r="1.25" fill="#1c1cec"/>
<circle cx="73.2" cy="59.5" r="1.25" fill="#1c1cec"/>
<circle cx="74.7" cy="61.7" r="1.25" fill="#1c1cec"/>
<circle cx="76.5" cy="60.4" r="1.25" fill="#1c1cec"/>
<circle cx="78.8" cy="61.0" r="1.25" fill="#1c1cec"/>
<circle cx="81.9" cy="59.7" r="1.25" fill="#1c1cec"/>
<circle cx="92.1" cy="60.8" r="1.25" fill="#1c1cec"/>
<circle cx="113.1" cy="59.2" r="1.25" fill="#1c1cec"/>
<circle cx="113.6" cy="60.3" r="1.25" fill="#1c1cec"/>
<circle cx="116.9" cy="60.8" r="1.25" fill="#1c1cec"/>
<circle cx="63.3" cy="61.1" r="1.25" fill="#1c1cec"/>
<circle cx="65.7" cy="63.1" r="1.25" fill="#1c1cec"/>
<circle cx="74.4" cy="62.8" r="1.25" fill="#1c1cec"/>
<circle cx="78.3" cy="61.8" r="1.25" fill="#1c1cec"/>
<circle cx="81.2" cy="62.4" r="1.25" fill="#1c1cec"/>
<circle cx="81.8" cy="61.9" r="1.25" fill="#1c1cec"/>
<circle cx="87.2" cy="61.1" r="1.25" fill="#1c1cec"/>
<circle cx="91.7" cy="61.1" r="1.25" fill="#1c1cec"/>
<circle cx="98.0" cy="61.9" r="1.25" fill="#1c1cec"/>
<circle cx="108.8" cy="61.9" r="1.25" fill="#1c1cec"/>
<circle cx="112.8" cy="61.2" r="1.25" fill="#1c1cec"/>
<circle cx="115.1" cy="72.4" r="1.25" fill="#1c1cec"/>
<circle cx="81.3" cy="74.5" r="1.25" fill="#1c1cec"/>
<circle cx="86.5" cy="74.0" r="1.25" fill="#1c1cec"/>
<circle cx="88.4" cy="73.4" r="1.25" fill="#1c1cec"/>
<circle cx="94.5" cy="72.9" r="1.25" fill="#1c1cec"/>
<circle cx="100.8" cy="73.4" r="1.25" fill="#1c1cec"/>
<circle cx="104.0" cy="72.9" r="1.25" fill="#1c1cec"/>
<circle cx="104.7" cy="74.0" r="1.25" fill="#1c1cec"/>
<circle cx="108.4" cy="73.7" r="1.25" fill="#1c1cec"/>
<circle cx="110.4" cy="72.8" r="1.25" fill="#1c1cec"/>
<circle cx="113.8" cy="73.0" r="1.25" fill="#1c1cec"/>
<circle cx="116.7" cy="72.6" r="1.25" fill="#1c1cec"/>
<circle cx="118.7" cy="73.9" r="1.25" fill="#1c1cec"/>
<circle cx="121.1" cy="73.1" r="1.25" fill="#1c1cec"/>
<circle cx="124.0" cy="73.5" r="1.25" fill="#1c1cec"/>
<circle cx="128.1" cy="74.1" r="1.25" fill="#1c1cec"/>
<circle cx="75.2" cy="75.9" r="1.25" fill="#1c1cec"/>
<circle cx="78.2" cy="75.3" r="1.25" fill="#1c1cec"/>
<circle cx="82.6" cy="76.0" r="1.25" fill="#1c1cec"/>
<circle cx="85.2" cy="75.0" r="1.25" fill="#1c1cec"/>
<circle cx="87.1" cy="75.4" r="1.25" fill="#1c1cec"/>
<circle cx="88.2" cy="75.3" r="1.25" fill="#1c1cec"/>
<circle cx="90.3" cy="75.2" r="1.25" fill="#1c1cec"/>
<circle cx="92.9" cy="75.4" r="1.25" fill="#1c1cec"/>
<circle cx="94.0" cy="74.2" r="1.25" fill="#1c1cec"/>
<circle cx="97.8" cy="74.8" r="1.25" fill="#1c1cec"/>
<circle cx="98.2" cy="75.9" r="1.25" fill="#1c1cec"/>
<circle cx="101.2" cy="74.2" r="1.25" fill="#1c1cec"/>
<circle cx="101.7" cy="75.0" r="1.25" fill="#1c1cec"/>
<circle cx="104.0" cy="76.4" r="1.25" fill="#1c1cec"/>
<circle cx="106.4" cy="76.4" r="1.25" fill="#1c1cec"/>
<circle cx="108.3" cy="76.1" r="1.25" fill="#1c1cec"/>
<circle cx="108.9" cy="76.3" r="1.25" fill="#1c1cec"/>
<circle cx="113.5" cy="75.6" r="1.25" fill="#1c1cec"/>
<circle cx="116.7" cy="75.0" r="1.25" fill="#1c1cec"/>
<circle cx="118.5" cy="74.7" r="1.25" fill="#1c1cec"/>
<circle cx="119.5" cy="76.4" r="1.25" fill="#1c1cec"/>
<circle cx="120.7" cy="76.0" r="1.25" fill="#1c1cec"/>
<circle cx="126.8" cy="76.0" r="1.25" fill="#1c1cec"/>
<circle cx="72.4" cy="76.2" r="1.25" fill="#1c1cec"/>
<circle cx="76.9" cy="77.8" r="1.25" fill="#1c1cec"/>
<circle cx="78.6" cy="76.9" r="1.25" fill="#1c1cec"/>
<circle cx="85.4" cy="77.2" r="1.25" fill="#1c1cec"/>
<circle cx="87.1" cy="76.2" r="1.25" fill="#1c1cec"/>
<circle cx="87.3" cy="77.0" r="1.25" fill="#1c1cec"/>
<circle cx="90.0" cy="76.9" r="1.25" fill="#1c1cec"/>
<circle cx="92.4" cy="77.0" r="1.25" fill="#1c1cec"/>
<circle cx="96.9" cy="76.0" r="1.25" fill="#1c1cec"/>
<circle cx="100.5" cy="76.1" r="1.25" fill="#1c1cec"/>
<circle cx="102.5" cy="77.8" r="1.25" fill="#1c1cec"/>
<circle cx="102.4" cy="76.9" r="1.25" fill="#1c1cec"/>
<circle cx="105.9" cy="76.2" r="1.25" fill="#1c1cec"/>
<circle cx="108.3" cy="75.8" r="1.25" fill="#1c1cec"/>
<circle cx="108.1" cy="77.5" r="1.25" fill="#1c1cec"/>
<circle cx="112.2" cy="75.9" r="1.25" fill="#1c1cec"/>
<circle cx="116.3" cy="77.5" r="1.25" fill="#1c1cec"/>
<circle cx="118.6" cy="77.0" r="1.25" fill="#1c1cec"/>
<circle cx="120.6" cy="76.8" r="1.25" fill="#1c1cec"/>
<circle cx="123.1" cy="77.4" r="1.25" fill="#1c1cec"/>
<circle cx="123.4" cy="75.9" r="1.25" fill="#1c1cec"/>
<circle cx="74.1" cy="77.7" r="1.25" fill="#1c1cec"/>
<circle cx="75.0" cy="78.9" r="1.25" fill="#1c1cec"/>
<circle cx="78.5" cy="77.5" r="1.25" fill="#1c1cec"/>
<circle cx="80.7" cy="78.1" r="1.25" fill="#1c1cec"/>
<circle cx="84.3" cy="78.8" r="1.25" fill="#1c1cec"/>
<circle cx="84.2" cy="78.9" r="1.25" fill="#1c1cec"/>
<circle cx="87.8" cy="78.7" r="1.25" fill="#1c1cec"/>
<circle cx="88.5" cy="79.0" r="1.25" fill="#1c1cec"/>
<circle cx="95.0" cy="78.0" r="1.25" fill="#1c1cec"/>
<circle cx="97.5" cy="78.3" r="1.25" fill="#1c1cec"/>
<circle cx="98.8" cy="79.7" r="1.25" fill="#1c1cec"/>
<circle cx="99.8" cy="78.8" r="1.25" fill="#1c1cec"/>
<circle cx="102.3" cy="79.1" r="1.25" fill="#1c1cec"/>
<circle cx="104.3" cy="78.2" r="1.25" fill="#1c1cec"/>
<circle cx="106.9" cy="78.5" r="1.25" fill="#1c1cec"/>
<circle cx="107.6" cy="78.1" r="1.25" fill="#1c1cec"/>
<circle cx="111.9" cy="78.3" r="1.25" fill="#1c1cec"/>
<circle cx="115.1" cy="77.6" r="1.25" fill="#1c1cec"/>
<circle cx="123.7" cy="78.8" r="1.25" fill="#1c1cec"/>
<circle cx="124.6" cy="78.1" r="1.25" fill="#1c1cec"/>
<circle cx="74.9" cy="79.8" r="1.25" fill="#1c1cec"/>
<circle cx="77.7" cy="80.2" r="1.25" fill="#1c1cec"/>
<circle cx="78.3" cy="79.6" r="1.25" fill="#1c1cec"/>
<circle cx="83.0" cy="79.3" r="1.25" fill="#1c1cec"/>
<circle cx="86.3" cy="79.2" r="1.25" fill="#1c1cec"/>
<circle cx="88.9" cy="80.5" r="1.25" fill="#1c1cec"/>
<circle cx="89.2" cy="81.2" r="1.25" fill="#1c1cec"/>
<circle cx="100.0" cy="79.1" r="1.25" fill="#1c1cec"/>
<circle cx="101.6" cy="81.3" r="1.25" fill="#1c1cec"/>
<circle cx="104.2" cy="79.4" r="1.25" fill="#1c1cec"/>
<circle cx="104.5" cy="79.9" r="1.25" fill="#1c1cec"/>
<circle cx="110.0" cy="81.1" r="1.25" fill="#1c1cec"/>
<circle cx="113.8" cy="80.2" r="1.25" fill="#1c1cec"/>
<circle cx="87.2" cy="81.7" r="1.25" fill="#1c1cec"/>
<circle cx="88.0" cy="81.6" r="1.25" fill="#1c1cec"/>
<circle cx="92.1" cy="82.7" r="1.25" fill="#1c1cec"/>
<circle cx="95.5" cy="82.3" r="1.25" fill="#1c1cec"/>
<circle cx="99.9" cy="81.7" r="1.25" fill="#1c1cec"/>
<circle cx="108.2" cy="81.9" r="1.25" fill="#1c1cec"/>
<circle cx="109.4" cy="82.3" r="1.25" fill="#1c1cec"/>
<circle cx="115.7" cy="81.0" r="1.25" fill="#1c1cec"/>
<circle cx="77.7" cy="83.2" r="1.25" fill="#1c1cec"/>
<circle cx="83.7" cy="83.9" r="1.25" fill="#1c1cec"/>
<circle cx="86.4" cy="84.1" r="1.25" fill="#1c1cec"/>
<circle cx="94.1" cy="84.0" r="1.25" fill="#1c1cec"/>
<circle cx="98.5" cy="82.6" r="1.25" fill="#1c1cec"/>
<circle cx="100.5" cy="84.6" r="1.25" fill="#1c1cec"/>
<circle cx="103.1" cy="84.4" r="1.25" fill="#1c1cec"/>
<circle cx="105.5" cy="83.4" r="1.25" fill="#1c1cec"/>
<circle cx="108.2" cy="83.1" r="1.25" fill="#1c1cec"/>
<circle cx="109.0" cy="82.8" r="1.25" fill="#1c1cec"/>
<circle cx="84.8" cy="85.1" r="1.25" fill="#1c1cec"/>
<circle cx="87.7" cy="85.6" r="1.25" fill="#1c1cec"/>
<circle cx="88.2" cy="84.3" r="1.25" fill="#1c1cec"/>
<circle cx="92.5" cy="86.2" r="1.25" fill="#1c1cec"/>
<circle cx="94.2" cy="84.5" r="1.25" fill="#1c1cec"/>
<circle cx="97.1" cy="85.4" r="1.25" fill="#1c1cec"/>
<circle cx="99.3" cy="85.6" r="1.25" fill="#1c1cec"/>
<circle cx="100.7" cy="85.6" r="1.25" fill="#1c1cec"/>
<circle cx="88.9" cy="86.2" r="1.25" fill="#1c1cec"/>
<circle cx="95.7" cy="86.0" r="1.25" fill="#1c1cec"/>
<circle cx="86.2" cy="62.2" r="1.25" fill="#1c1cec"/>
<circle cx="113.9" cy="63.1" r="1.25" fill="#1c1cec"/>
<circle cx="117.4" cy="63.0" r="1.25" fill="#1c1cec"/>
<circle cx="95.4" cy="62.9" r="1.25" fill="#1c1cec"/>
<circle cx="102.9" cy="65.1" r="1.25" fill="#1c1cec"/>
<circle cx="109.9" cy="63.9" r="1.25" fill="#1c1cec"/>
<circle cx="115.5" cy="64.1" r="1.25" fill="#1c1cec"/>
<circle cx="121.1" cy="63.2" r="1.25" fill="#1c1cec"/>
<circle cx="97.3" cy="65.3" r="1.25" fill="#1c1cec"/>
<circle cx="100.0" cy="67.1" r="1.25" fill="#1c1cec"/>
<circle cx="122.4" cy="66.9" r="1.25" fill="#1c1cec"/>
<circle cx="124.7" cy="65.8" r="1.25" fill="#1c1cec"/>
<circle cx="118.5" cy="72.1" r="1.25" fill="#f014f0"/>
<circle cx="117.4" cy="74.6" r="1.25" fill="#f014f0"/>
<circle cx="119.6" cy="73.7" r="1.25" fill="#f014f0"/>
<circle cx="128.9" cy="74.5" r="1.25" fill="#f014f0"/>
<circle cx="135.8" cy="74.2" r="1.25" fill="#f014f0"/>
<circle cx="118.3" cy="76.1" r="1.25" fill="#f014f0"/>
<circle cx="120.5" cy="75.0" r="1.25" fill="#f014f0"/>
<circle cx="122.4" cy="75.4" r="1.25" fill="#f014f0"/>
<circle cx="122.4" cy="74.2" r="1.25" fill="#f014f0"/>
<circle cx="124.3" cy="76.0" r="1.25" fill="#f014f0"/>
<circle cx="128.1" cy="75.7" r="1.25" fill="#f014f0"/>
<circle cx="129.5" cy="74.9" r="1.25" fill="#f014f0"/>
<circle cx="133.0" cy="75.7" r="1.25" fill="#f014f0"/>
<circle cx="136.7" cy="74.5" r="1.25" fill="#f014f0"/>
<circle cx="139.4" cy="75.2" r="1.25" fill="#f014f0"/>
<circle cx="123.0" cy="77.4" r="1.25" fill="#f014f0"/>
<circle cx="124.2" cy="76.4" r="1.25" fill="#f014f0"/>
<circle cx="125.9" cy="76.9" r="1.25" fill="#f014f0"/>
<circle cx="128.3" cy="77.8" r="1.25" fill="#f014f0"/>
<circle cx="129.4" cy="76.2" r="1.25" fill="#f014f0"/>
<circle cx="132.6" cy="77.9" r="1.25" fill="#f014f0"/>
<circle cx="136.7" cy="78.1" r="1.25" fill="#f014f0"/>
<circle cx="136.6" cy="76.4" r="1.25" fill="#f014f0"/>
<circle cx="138.3" cy="76.4" r="1.25" fill="#f014f0"/>
<circle cx="141.8" cy="76.2" r="1.25" fill="#f014f0"/>
<circle cx="118.2" cy="77.6" r="1.25" fill="#f014f0"/>
<circle cx="119.8" cy="77.8" r="1.25" fill="#f014f0"/>
<circle cx="121.8" cy="78.0" r="1.25" fill="#f014f0"/>
<circle cx="122.6" cy="79.5" r="1.25" fill="#f014f0"/>
<circle cx="125.6" cy="78.9" r="1.25" fill="#f014f0"/>
<circle cx="128.0" cy="79.2" r="1.25" fill="#f014f0"/>
<circle cx="131.0" cy="78.1" r="1.25" fill="#f014f0"/>
<circle cx="132.1" cy="77.5" r="1.25" fill="#f014f0"/>
<circle cx="135.5" cy="79.1" r="1.25" fill="#f014f0"/>
<circle cx="136.6" cy="78.8" r="1.25" fill="#f014f0"/>
<circle cx="138.4" cy="78.6" r="1.25" fill="#f014f0"/>
<circle cx="142.7" cy="77.7" r="1.25" fill="#f014f0"/>
<circle cx="143.8" cy="78.3" r="1.25" fill="#f014f0"/>
<circle cx="113.5" cy="79.9" r="1.25" fill="#f014f0"/>
<circle cx="115.4" cy="80.1" r="1.25" fill="#f014f0"/>
<circle cx="119.5" cy="80.9" r="1.25" fill="#f014f0"/>
<circle cx="120.2" cy="79.1" r="1.25" fill="#f014f0"/>
<circle cx="122.0" cy="79.5" r="1.25" fill="#f014f0"/>
<circle cx="123.4" cy="80.6" r="1.25" fill="#f014f0"/>
<circle cx="125.6" cy="80.7" r="1.25" fill="#f014f0"/>
<circle cx="130.8" cy="79.8" r="1.25" fill="#f014f0"/>
<circle cx="134.1" cy="80.4" r="1.25" fill="#f014f0"/>
<circle cx="136.7" cy="80.5" r="1.25" fill="#f014f0"/>
<circle cx="141.9" cy="79.5" r="1.25" fill="#f014f0"/>
<circle cx="142.2" cy="80.4" r="1.25" fill="#f014f0"/>
<circle cx="113.9" cy="82.6" r="1.25" fill="#f014f0"/>
<circle cx="117.6" cy="82.5" r="1.25" fill="#f014f0"/>
<circle cx="122.2" cy="81.8" r="1.25" fill="#f014f0"/>
<circle cx="125.8" cy="82.4" r="1.25" fill="#f014f0"/>
<circle cx="126.4" cy="80.9" r="1.25" fill="#f014f0"/>
<circle cx="131.8" cy="81.6" r="1.25" fill="#f014f0"/>
<circle cx="136.6" cy="80.9" r="1.25" fill="#f014f0"/>
<circle cx="138.3" cy="81.5" r="1.25" fill="#f014f0"/>
<circle cx="112.5" cy="82.7" r="1.25" fill="#f014f0"/>
<circle cx="111.3" cy="75.9" r="1.25" fill="#f014f0"/>
<circle cx="100.9" cy="77.8" r="1.25" fill="#f014f0"/>
<circle cx="104.1" cy="77.4" r="1.25" fill="#f014f0"/>
<circle cx="105.4" cy="77.2" r="1.25" fill="#f014f0"/>
<circle cx="107.6" cy="76.2" r="1.25" fill="#f014f0"/>
<circle cx="110.5" cy="76.9" r="1.25" fill="#f014f0"/>
<circle cx="112.9" cy="77.6" r="1.25" fill="#f014f0"/>
<circle cx="97.8" cy="79.7" r="1.25" fill="#f014f0"/>
<circle cx="101.8" cy="79.8" r="1.25" fill="#f014f0"/>
<circle cx="103.5" cy="79.8" r="1.25" fill="#f014f0"/>
<circle cx="106.8" cy="79.4" r="1.25" fill="#f014f0"/>
<circle cx="107.4" cy="78.9" r="1.25" fill="#f014f0"/>
<circle cx="110.7" cy="78.1" r="1.25" fill="#f014f0"/>
<circle cx="115.2" cy="79.2" r="1.25" fill="#f014f0"/>
<circle cx="115.8" cy="78.7" r="1.25" fill="#f014f0"/>
<circle cx="99.5" cy="81.3" r="1.25" fill="#f014f0"/>
<circle cx="103.5" cy="79.9" r="1.25" fill="#f014f0"/>
<circle cx="105.1" cy="81.2" r="1.25" fill="#f014f0"/>
<circle cx="107.8" cy="80.1" r="1.25" fill="#f014f0"/>
<circle cx="113.2" cy="80.6" r="1.25" fill="#f014f0"/>
<circle cx="102.4" cy="81.3" r="1.25" fill="#f014f0"/>
<circle cx="103.6" cy="82.4" r="1.25" fill="#f014f0"/>
<circle cx="107.3" cy="82.6" r="1.25" fill="#f014f0"/>
<circle cx="110.3" cy="81.9" r="1.25" fill="#f014f0"/>
<circle cx="111.9" cy="82.2" r="1.25" fill="#f014f0"/>
<circle cx="98.7" cy="82.9" r="1.25" fill="#f014f0"/>
<circle cx="103.4" cy="83.8" r="1.25" fill="#f014f0"/>
<circle cx="106.1" cy="83.8" r="1.25" fill="#f014f0"/>
<circle cx="108.3" cy="82.7" r="1.25" fill="#f014f0"/>
<circle cx="109.3" cy="84.9" r="1.25" fill="#f014f0"/>
<circle cx="110.7" cy="84.4" r="1.25" fill="#f014f0"/>
<circle cx="114.1" cy="82.7" r="1.25" fill="#f014f0"/>
<circle cx="114.6" cy="84.6" r="1.25" fill="#f014f0"/>
<circle cx="100.2" cy="84.6" r="1.25" fill="#f014f0"/>
<circle cx="103.2" cy="85.6" r="1.25" fill="#f014f0"/>
<circle cx="109.5" cy="84.7" r="1.25" fill="#f014f0"/>
<circle cx="109.6" cy="85.7" r="1.25" fill="#f014f0"/>
<circle cx="112.2" cy="86.0" r="1.25" fill="#f014f0"/>
<circle cx="134.3" cy="59.0" r="1.25" fill="#f014f0"/>
<circle cx="133.8" cy="59.9" r="1.25" fill="#f014f0"/>
<circle cx="135.6" cy="59.5" r="1.25" fill="#f014f0"/>
<circle cx="139.3" cy="60.5" r="1.25" fill="#f014f0"/>
<circle cx="136.6" cy="60.5" r="1.25" fill="#f014f0"/>
<circle cx="139.7" cy="61.4" r="1.25" fill="#f014f0"/>
<circle cx="135.9" cy="63.5" r="1.25" fill="#f014f0"/>
<circle cx="136.8" cy="63.6" r="1.25" fill="#f014f0"/>
<circle cx="138.7" cy="63.1" r="1.25" fill="#f014f0"/>
<circle cx="140.2" cy="63.2" r="1.25" fill="#f014f0"/>
<circle cx="144.1" cy="63.0" r="1.25" fill="#f014f0"/>
<circle cx="135.7" cy="63.5" r="1.25" fill="#f014f0"/>
<circle cx="137.3" cy="65.0" r="1.25" fill="#f014f0"/>
<circle cx="139.6" cy="64.1" r="1.25" fill="#f014f0"/>
<circle cx="141.9" cy="64.7" r="1.25" fill="#f014f0"/>
<circle cx="143.7" cy="63.7" r="1.25" fill="#f014f0"/>
<circle cx="146.9" cy="65.4" r="1.25" fill="#f014f0"/>
<circle cx="137.7" cy="65.8" r="1.25" fill="#f014f0"/>
<circle cx="141.7" cy="65.4" r="1.25" fill="#f014f0"/>
<circle cx="141.7" cy="66.1" r="1.25" fill="#f014f0"/>
<circle cx="144.7" cy="67.1" r="1.25" fill="#f014f0"/>
<circle cx="145.2" cy="65.4" r="1.25" fill="#f014f0"/>
<circle cx="147.3" cy="66.1" r="1.25" fill="#f014f0"/>
<circle cx="138.0" cy="66.8" r="1.25" fill="#f014f0"/>
<circle cx="140.3" cy="67.5" r="1.25" fill="#f014f0"/>
<circle cx="142.0" cy="69.1" r="1.25" fill="#f014f0"/>
<circle cx="146.4" cy="67.6" r="1.25" fill="#f014f0"/>
<circle cx="148.3" cy="67.8" r="1.25" fill="#f014f0"/>
<circle cx="150.9" cy="68.7" r="1.25" fill="#f014f0"/>
<circle cx="142.0" cy="70.6" r="1.25" fill="#f014f0"/>
<circle cx="144.0" cy="70.2" r="1.25" fill="#f014f0"/>
<circle cx="146.6" cy="69.5" r="1.25" fill="#f014f0"/>
<circle cx="148.9" cy="70.2" r="1.25" fill="#f014f0"/>
<circle cx="150.2" cy="70.3" r="1.25" fill="#f014f0"/>
<circle cx="151.9" cy="69.5" r="1.25" fill="#f014f0"/>
<circle cx="145.5" cy="72.4" r="1.25" fill="#f014f0"/>
<circle cx="147.7" cy="71.8" r="1.25" fill="#f014f0"/>
<circle cx="151.5" cy="70.6" r="1.25" fill="#f014f0"/>
<circle cx="152.9" cy="70.9" r="1.25" fill="#f014f0"/>
<circle cx="145.0" cy="72.9" r="1.25" fill="#f014f0"/>
<circle cx="147.4" cy="72.4" r="1.25" fill="#f014f0"/>
<circle cx="149.1" cy="72.9" r="1.25" fill="#f014f0"/>
<circle cx="150.8" cy="73.8" r="1.25" fill="#f014f0"/>
<circle cx="153.1" cy="72.6" r="1.25" fill="#f014f0"/>
<circle cx="147.5" cy="74.4" r="1.25" fill="#f014f0"/>
<circle cx="148.4" cy="73.4" r="1.25" fill="#f014f0"/>
<circle cx="151.2" cy="73.8" r="1.25" fill="#f014f0"/>
<circle cx="152.5" cy="74.0" r="1.25" fill="#f014f0"/>
<circle cx="154.5" cy="75.1" r="1.25" fill="#f014f0"/>
<circle cx="146.5" cy="75.1" r="1.25" fill="#f014f0"/>
<circle cx="149.2" cy="77.0" r="1.25" fill="#f014f0"/>
<circle cx="151.4" cy="75.1" r="1.25" fill="#f014f0"/>
<circle cx="155.0" cy="75.7" r="1.25" fill="#f014f0"/>
<circle cx="127.2" cy="66.3" r="1.25" fill="#1c1cec"/>
<circle cx="140.0" cy="63.5" r="1.25" fill="#1c1cec"/>
<circle cx="143.8" cy="66.5" r="1.25" fill="#1c1cec"/>
<circle cx="124.9" cy="68.7" r="1.25" fill="#1c1cec"/>
<circle cx="139.3" cy="69.2" r="1.25" fill="#1c1cec"/>
<circle cx="140.8" cy="73.5" r="1.25" fill="#1c1cec"/>
<circle cx="119.9" cy="75.3" r="1.25" fill="#1c1cec"/>
<circle cx="146.4" cy="74.4" r="1.25" fill="#1c1cec"/>
<circle cx="114.0" cy="75.5" r="1.25" fill="#1c1cec"/>
<circle cx="129.8" cy="78.4" r="1.25" fill="#1c1cec"/>
<circle cx="105.9" cy="76.6" r="1.25" fill="#1c1cec"/>
<circle cx="103.0" cy="78.5" r="1.25" fill="#1c1cec"/>
<circle cx="104.3" cy="78.7" r="1.25" fill="#1c1cec"/>
<circle cx="109.0" cy="79.7" r="1.25" fill="#1c1cec"/>
<circle cx="102.8" cy="82.4" r="1.25" fill="#1c1cec"/>
<circle cx="108.7" cy="82.8" r="1.25" fill="#1c1cec"/>
<circle cx="53.2" cy="72.4" r="1.25" fill="#5e2e5e"/>
<circle cx="55.1" cy="72.1" r="1.25" fill="#5e2e5e"/>
<circle cx="47.3" cy="73.9" r="1.25" fill="#5e2e5e"/>
<circle cx="48.8" cy="74.0" r="1.25" fill="#5e2e5e"/>
<circle cx="50.8" cy="73.5" r="1.25" fill="#5e2e5e"/>
<circle cx="51.9" cy="73.9" r="1.25" fill="#5e2e5e"/>
<circle cx="54.2" cy="73.5" r="1.25" fill="#5e2e5e"/>
<circle cx="55.4" cy="73.4" r="1.25" fill="#5e2e5e"/>
<circle cx="57.7" cy="73.4" r="1.25" fill="#5e2e5e"/>
<circle cx="59.8" cy="73.4" r="1.25" fill="#5e2e5e"/>
<circle cx="60.6" cy="73.9" r="1.25" fill="#5e2e5e"/>
<circle cx="46.4" cy="75.1" r="1.25" fill="#5e2e5e"/>
<circle cx="47.6" cy="75.5" r="1.25" fill="#5e2e5e"/>
<circle cx="50.1" cy="74.7" r="1.25" fill="#5e2e5e"/>
<circle cx="51.4" cy="75.3" r="1.25" fill="#5e2e5e"/>
<circle cx="53.2" cy="75.5" r="1.25" fill="#5e2e5e"/>
<circle cx="55.0" cy="75.3" r="1.25" fill="#5e2e5e"/>
<circle cx="57.2" cy="74.9" r="1.25" fill="#5e2e5e"/>
<circle cx="58.1" cy="74.7" r="1.25" fill="#5e2e5e"/>
<circle cx="60.0" cy="75.0" r="1.25" fill="#5e2e5e"/>
<circle cx="62.2" cy="75.3" r="1.25" fill="#5e2e5e"/>
<circle cx="63.4" cy="74.6" r="1.25" fill="#5e2e5e"/>
<circle cx="65.1" cy="75.3" r="1.25" fill="#5e2e5e"/>
<circle cx="67.7" cy="75.4" r="1.25" fill="#5e2e5e"/>
<circle cx="69.3" cy="75.1" r="1.25" fill="#5e2e5e"/>
<circle cx="43.9" cy="76.6" r="1.25" fill="#5e2e5e"/>
<circle cx="45.9" cy="76.8" r="1.25" fill="#5e2e5e"/>
<circle cx="47.0" cy="76.1" r="1.25" fill="#5e2e5e"/>
<circle cx="49.1" cy="76.4" r="1.25" fill="#5e2e5e"/>
<circle cx="50.7" cy="77.0" r="1.25" fill="#5e2e5e"/>
<circle cx="52.0" cy="76.5" r="1.25" fill="#5e2e5e"/>
<circle cx="54.5" cy="76.5" r="1.25" fill="#5e2e5e"/>
<circle cx="56.3" cy="76.4" r="1.25" fill="#5e2e5e"/>
<circle cx="58.1" cy="76.4" r="1.25" fill="#5e2e5e"/>
<circle cx="59.5" cy="76.4" r="1.25" fill="#5e2e5e"/>
<circle cx="61.0" cy="76.9" r="1.25" fill="#5e2e5e"/>
<circle cx="63.1" cy="76.6" r="1.25" fill="#5e2e5e"/>
<circle cx="64.5" cy="76.2" r="1.25" fill="#5e2e5e"/>
<circle cx="66.2" cy="76.1" r="1.25" fill="#5e2e5e"/>
<circle cx="68.2" cy="76.5" r="1.25" fill="#5e2e5e"/>
<circle cx="69.4" cy="76.2" r="1.25" fill="#5e2e5e"/>
<circle cx="71.1" cy="77.0" r="1.25" fill="#5e2e5e"/>
<circle cx="42.8" cy="78.3" r="1.25" fill="#5e2e5e"/>
<circle cx="44.0" cy="77.8" r="1.25" fill="#5e2e5e"/>
<circle cx="46.1" cy="78.4" r="1.25" fill="#5e2e5e"/>
<circle cx="47.9" cy="78.2" r="1.25" fill="#5e2e5e"/>
<circle cx="49.9" cy="78.2" r="1.25" fill="#5e2e5e"/>
<circle cx="51.7" cy="77.7" r="1.25" fill="#5e2e5e"/>
<circle cx="53.3" cy="78.5" r="1.25" fill="#5e2e5e"/>
<circle cx="54.7" cy="78.3" r="1.25" fill="#5e2e5e"/>
<circle cx="56.6" cy="78.3" r="1.25" fill="#5e2e5e"/>
<circle cx="58.7" cy="77.8" r="1.25" fill="#5e2e5e"/>
<circle cx="60.7" cy="78.0" r="1.25" fill="#5e2e5e"/>
<circle cx="62.5" cy="77.9" r="1.25" fill="#5e2e5e"/>
<circle cx="63.5" cy="78.1" r="1.25" fill="#5e2e5e"/>
<circle cx="65.2" cy="78.3" r="1.25" fill="#5e2e5e"/>
<circle cx="67.4" cy="78.0" r="1.25" fill="#5e2e5e"/>
<circle cx="68.7" cy="78.1" r="1.25" fill="#5e2e5e"/>
<circle cx="70.2" cy="78.5" r="1.25" fill="#5e2e5e"/>
<circle cx="72.3" cy="78.5" r="1.25" fill="#5e2e5e"/>
<circle cx="41.6" cy="79.3" r="1.25" fill="#5e2e5e"/>
<circle cx="43.6" cy="79.2" r="1.25" fill="#5e2e5e"/>
<circle cx="45.0" cy="79.3" r="1.25" fill="#5e2e5e"/>
<circle cx="47.2" cy="79.9" r="1.25" fill="#5e2e5e"/>
<circle cx="49.3" cy="79.8" r="1.25" fill="#5e2e5e"/>
<circle cx="50.5" cy="79.5" r="1.25" fill="#5e2e5e"/>
<circle cx="52.1" cy="80.0" r="1.25" fill="#5e2e5e"/>
<circle cx="54.5" cy="80.0" r="1.25" fill="#5e2e5e"/>
<circle cx="55.5" cy="79.5" r="1.25" fill="#5e2e5e"/>
<circle cx="57.4" cy="79.3" r="1.25" fill="#5e2e5e"/>
<circle cx="59.4" cy="79.7" r="1.25" fill="#5e2e5e"/>
<circle cx="60.9" cy="79.8" r="1.25" fill="#5e2e5e"/>
<circle cx="63.2" cy="80.0" r="1.25" fill="#5e2e5e"/>
<circle cx="64.2" cy="79.7" r="1.25" fill="#5e2e5e"/>
<circle cx="66.0" cy="79.8" r="1.25" fill="#5e2e5e"/>
<circle cx="67.9" cy="79.3" r="1.25" fill="#5e2e5e"/>
<circle cx="70.3" cy="79.5" r="1.25" fill="#5e2e5e"/>
<circle cx="71.3" cy="79.6" r="1.25" fill="#5e2e5e"/>
<circle cx="73.2" cy="79.7" r="1.25" fill="#5e2e5e"/>
<circle cx="74.6" cy="79.2" r="1.25" fill="#5e2e5e"/>
<circle cx="76.5" cy="79.7" r="1.25" fill="#5e2e5e"/>
<circle cx="42.8" cy="80.8" r="1.25" fill="#5e2e5e"/>
<circle cx="44.8" cy="80.8" r="1.25" fill="#5e2e5e"/>
<circle cx="45.8" cy="80.8" r="1.25" fill="#5e2e5e"/>
<circle cx="48.2" cy="81.2" r="1.25" fill="#5e2e5e"/>
<circle cx="49.4" cy="80.7" r="1.25" fill="#5e2e5e"/>
<circle cx="51.3" cy="81.0" r="1.25" fill="#5e2e5e"/>
<circle cx="53.7" cy="80.9" r="1.25" fill="#5e2e5e"/>
<circle cx="55.1" cy="80.9" r="1.25" fill="#5e2e5e"/>
<circle cx="56.5" cy="80.9" r="1.25" fill="#5e2e5e"/>
<circle cx="58.7" cy="81.3" r="1.25" fill="#5e2e5e"/>
<circle cx="59.8" cy="81.2" r="1.25" fill="#5e2e5e"/>
<circle cx="62.1" cy="81.3" r="1.25" fill="#5e2e5e"/>
<circle cx="63.3" cy="81.5" r="1.25" fill="#5e2e5e"/>
<circle cx="65.1" cy="80.8" r="1.25" fill="#5e2e5e"/>
<circle cx="67.6" cy="80.9" r="1.25" fill="#5e2e5e"/>
<circle cx="68.6" cy="81.6" r="1.25" fill="#5e2e5e"/>
<circle cx="70.9" cy="81.6" r="1.25" fill="#5e2e5e"/>
<circle cx="72.9" cy="81.0" r="1.25" fill="#5e2e5e"/>
<circle cx="74.7" cy="80.9" r="1.25" fill="#5e2e5e"/>
<circle cx="76.4" cy="80.8" r="1.25" fill="#5e2e5e"/>
<circle cx="78.0" cy="81.2" r="1.25" fill="#5e2e5e"/>
<circle cx="79.4" cy="81.1" r="1.25" fill="#5e2e5e"/>
<circle cx="81.0" cy="81.5" r="1.25" fill="#5e2e5e"/>
<circle cx="41.6" cy="82.7" r="1.25" fill="#5e2e5e"/>
<circle cx="43.3" cy="83.1" r="1.25" fill="#5e2e5e"/>
<circle cx="44.9" cy="82.1" r="1.25" fill="#5e2e5e"/>
<circle cx="46.6" cy="82.7" r="1.25" fill="#5e2e5e"/>
<circle cx="48.8" cy="82.8" r="1.25" fill="#5e2e5e"/>
<circle cx="50.3" cy="83.0" r="1.25" fill="#5e2e5e"/>
<circle cx="52.7" cy="83.1" r="1.25" fill="#5e2e5e"/>
<circle cx="54.0" cy="82.7" r="1.25" fill="#5e2e5e"/>
<circle cx="56.2" cy="82.3" r="1.25" fill="#5e2e5e"/>
<circle cx="57.6" cy="82.7" r="1.25" fill="#5e2e5e"/>
<circle cx="59.2" cy="82.1" r="1.25" fill="#5e2e5e"/>
<circle cx="61.5" cy="82.2" r="1.25" fill="#5e2e5e"/>
<circle cx="63.0" cy="83.0" r="1.25" fill="#5e2e5e"/>
<circle cx="64.7" cy="83.1" r="1.25" fill="#5e2e5e"/>
<circle cx="66.4" cy="82.5" r="1.25" fill="#5e2e5e"/>
<circle cx="68.4" cy="82.8" r="1.25" fill="#5e2e5e"/>
<circle cx="69.8" cy="82.9" r="1.25" fill="#5e2e5e"/>
<circle cx="71.3" cy="82.2" r="1.25" fill="#5e2e5e"/>
<circle cx="73.0" cy="82.4" r="1.25" fill="#5e2e5e"/>
<circle cx="75.0" cy="82.6" r="1.25" fill="#5e2e5e"/>
<circle cx="76.9" cy="82.7" r="1.25" fill="#5e2e5e"/>
<circle cx="78.7" cy="83.0" r="1.25" fill="#5e2e5e"/>
<circle cx="80.4" cy="82.5" r="1.25" fill="#5e2e5e"/>
<circle cx="81.8" cy="82.2" r="1.25" fill="#5e2e5e"/>
<circle cx="83.4" cy="82.6" r="1.25" fill="#5e2e5e"/>
<circle cx="85.2" cy="82.9" r="1.25" fill="#5e2e5e"/>
<circle cx="42.9" cy="84.5" r="1.25" fill="#5e2e5e"/>
<circle cx="44.3" cy="83.7" r="1.25" fill="#5e2e5e"/>
<circle cx="45.7" cy="83.9" r="1.25" fill="#5e2e5e"/>
<circle cx="48.4" cy="83.8" r="1.25" fill="#5e2e5e"/>
<circle cx="50.2" cy="84.3" r="1.25" fill="#5e2e5e"/>
<circle cx="51.1" cy="83.7" r="1.25" fill="#5e2e5e"/>
<circle cx="53.4" cy="83.7" r="1.25" fill="#5e2e5e"/>
<circle cx="55.3" cy="83.7" r="1.25" fill="#5e2e5e"/>
<circle cx="56.7" cy="84.3" r="1.25" fill="#5e2e5e"/>
<circle cx="58.7" cy="84.1" r="1.25" fill="#5e2e5e"/>
<circle cx="60.4" cy="84.1" r="1.25" fill="#5e2e5e"/>
<circle cx="62.0" cy="84.3" r="1.25" fill="#5e2e5e"/>
<circle cx="63.7" cy="84.2" r="1.25" fill="#5e2e5e"/>
<circle cx="65.6" cy="84.7" r="1.25" fill="#5e2e5e"/>
<circle cx="67.2" cy="84.7" r="1.25" fill="#5e2e5e"/>
<circle cx="69.1" cy="84.0" r="1.25" fill="#5e2e5e"/>
<circle cx="70.7" cy="84.1" r="1.25" fill="#5e2e5e"/>
<circle cx="72.2" cy="84.2" r="1.25" fill="#5e2e5e"/>
<circle cx="73.8" cy="84.3" r="1.25" fill="#5e2e5e"/>
<circle cx="75.7" cy="83.9" r="1.25" fill="#5e2e5e"/>
<circle cx="77.7" cy="84.4" r="1.25" fill="#5e2e5e"/>
<circle cx="79.6" cy="84.3" r="1.25" fill="#5e2e5e"/>
<circle cx="80.8" cy="84.2" r="1.25" fill="#5e2e5e"/>
<circle cx="83.2" cy="84.1" r="1.25" fill="#5e2e5e"/>
<circle cx="84.4" cy="84.3" r="1.25" fill="#5e2e5e"/>
<circle cx="86.4" cy="83.7" r="1.25" fill="#5e2e5e"/>
<circle cx="88.5" cy="84.5" r="1.25" fill="#5e2e5e"/>
<circle cx="90.4" cy="84.1" r="1.25" fill="#5e2e5e"/>
<circle cx="91.4" cy="84.6" r="1.25" fill="#5e2e5e"/>
<circle cx="44.1" cy="85.9" r="1.25" fill="#5e2e5e"/>
<circle cx="45.8" cy="85.9" r="1.25" fill="#5e2e5e"/>
<circle cx="46.9" cy="85.8" r="1.25" fill="#5e2e5e"/>
<circle cx="48.6" cy="85.2" r="1.25" fill="#5e2e5e"/>
<circle cx="50.8" cy="85.5" r="1.25" fill="#5e2e5e"/>
<circle cx="52.8" cy="85.3" r="1.25" fill="#5e2e5e"/>
<circle cx="53.8" cy="86.1" r="1.25" fill="#5e2e5e"/>
<circle cx="56.3" cy="85.6" r="1.25" fill="#5e2e5e"/>
<circle cx="57.4" cy="85.5" r="1.25" fill="#5e2e5e"/>
<circle cx="59.9" cy="86.2" r="1.25" fill="#5e2e5e"/>
<circle cx="61.1" cy="85.9" r="1.25" fill="#5e2e5e"/>
<circle cx="62.8" cy="86.1" r="1.25" fill="#5e2e5e"/>
<circle cx="64.4" cy="85.6" r="1.25" fill="#5e2e5e"/>
<circle cx="66.0" cy="85.4" r="1.25" fill="#5e2e5e"/>
<circle cx="67.7" cy="86.1" r="1.25" fill="#5e2e5e"/>
<circle cx="70.2" cy="85.7" r="1.25" fill="#5e2e5e"/>
<circle cx="71.8" cy="85.6" r="1.25" fill="#5e2e5e"/>
<circle cx="73.0" cy="85.4" r="1.25" fill="#5e2e5e"/>
<circle cx="75.0" cy="85.9" r="1.25" fill="#5e2e5e"/>
<circle cx="76.6" cy="86.1" r="1.25" fill="#5e2e5e"/>
<circle cx="79.1" cy="86.0" r="1.25" fill="#5e2e5e"/>
<circle cx="80.4" cy="86.1" r="1.25" fill="#5e2e5e"/>
<circle cx="81.8" cy="85.7" r="1.25" fill="#5e2e5e"/>
<circle cx="83.4" cy="85.4" r="1.25" fill="#5e2e5e"/>
<circle cx="85.8" cy="85.6" r="1.25" fill="#5e2e5e"/>
<circle cx="87.4" cy="85.5" r="1.25" fill="#5e2e5e"/>
<circle cx="89.4" cy="86.0" r="1.25" fill="#5e2e5e"/>
<circle cx="91.2" cy="86.0" r="1.25" fill="#5e2e5e"/>
<circle cx="92.9" cy="86.2" r="1.25" fill="#5e2e5e"/>
<circle cx="94.8" cy="85.7" r="1.25" fill="#5e2e5e"/>
<circle cx="96.4" cy="85.3" r="1.25" fill="#5e2e5e"/>
<circle cx="97.4" cy="85.9" r="1.25" fill="#5e2e5e"/>
<circle cx="44.2" cy="87.5" r="1.25" fill="#5e2e5e"/>
<circle cx="46.5" cy="87.3" r="1.25" fill="#5e2e5e"/>
<circle cx="48.2" cy="87.2" r="1.25" fill="#5e2e5e"/>
<circle cx="49.8" cy="87.0" r="1.25" fill="#5e2e5e"/>
<circle cx="51.8" cy="87.6" r="1.25" fill="#5e2e5e"/>
<circle cx="53.4" cy="87.2" r="1.25" fill="#5e2e5e"/>
<circle cx="55.2" cy="87.4" r="1.25" fill="#5e2e5e"/>
<circle cx="57.0" cy="87.1" r="1.25" fill="#5e2e5e"/>
<circle cx="58.0" cy="87.5" r="1.25" fill="#5e2e5e"/>
<circle cx="60.1" cy="86.8" r="1.25" fill="#5e2e5e"/>
<circle cx="62.4" cy="87.0" r="1.25" fill="#5e2e5e"/>
<circle cx="64.0" cy="87.4" r="1.25" fill="#5e2e5e"/>
<circle cx="65.2" cy="87.4" r="1.25" fill="#5e2e5e"/>
<circle cx="67.7" cy="87.2" r="1.25" fill="#5e2e5e"/>
<circle cx="69.4" cy="87.4" r="1.25" fill="#5e2e5e"/>
<circle cx="70.9" cy="86.9" r="1.25" fill="#5e2e5e"/>
<circle cx="72.9" cy="87.2" r="1.25" fill="#5e2e5e"/>
<circle cx="74.0" cy="87.2" r="1.25" fill="#5e2e5e"/>
<circle cx="76.3" cy="87.3" r="1.25" fill="#5e2e5e"/>
<circle cx="77.6" cy="86.9" r="1.25" fill="#5e2e5e"/>
<circle cx="79.7" cy="87.0" r="1.25" fill="#5e2e5e"/>
<circle cx="81.1" cy="87.2" r="1.25" fill="#5e2e5e"/>
<circle cx="82.9" cy="87.1" r="1.25" fill="#5e2e5e"/>
<circle cx="85.0" cy="87.2" r="1.25" fill="#5e2e5e"/>
<circle cx="86.2" cy="86.9" r="1.25" fill="#5e2e5e"/>
<circle cx="88.4" cy="86.8" r="1.25" fill="#5e2e5e"/>
<circle cx="89.7" cy="87.3" r="1.25" fill="#5e2e5e"/>
<circle cx="91.9" cy="87.5" r="1.25" fill="#5e2e5e"/>
<circle cx="93.4" cy="86.8" r="1.25" fill="#5e2e5e"/>
<circle cx="95.4" cy="87.5" r="1.25" fill="#5e2e5e"/>
<circle cx="97.5" cy="87.7" r="1.25" fill="#5e2e5e"/>
<circle cx="98.8" cy="87.4" r="1.25" fill="#5e2e5e"/>
<circle cx="45.4" cy="88.3" r="1.25" fill="#5e2e5e"/>
<circle cx="46.9" cy="88.4" r="1.25" fill="#5e2e5e"/>
<circle cx="49.1" cy="88.8" r="1.25" fill="#5e2e5e"/>
<circle cx="50.8" cy="88.7" r="1.25" fill="#5e2e5e"/>
<circle cx="52.1" cy="88.2" r="1.25" fill="#5e2e5e"/>
<circle cx="54.3" cy="88.6" r="1.25" fill="#5e2e5e"/>
<circle cx="55.7" cy="88.5" r="1.25" fill="#5e2e5e"/>
<circle cx="58.0" cy="88.5" r="1.25" fill="#5e2e5e"/>
<circle cx="59.3" cy="88.4" r="1.25" fill="#5e2e5e"/>
<circle cx="61.2" cy="89.3" r="1.25" fill="#5e2e5e"/>
<circle cx="63.3" cy="88.5" r="1.25" fill="#5e2e5e"/>
<circle cx="65.0" cy="88.3" r="1.25" fill="#5e2e5e"/>
<circle cx="66.0" cy="89.0" r="1.25" fill="#5e2e5e"/>
<circle cx="67.7" cy="89.1" r="1.25" fill="#5e2e5e"/>
<circle cx="69.8" cy="89.2" r="1.25" fill="#5e2e5e"/>
<circle cx="71.3" cy="89.0" r="1.25" fill="#5e2e5e"/>
<circle cx="73.3" cy="88.6" r="1.25" fill="#5e2e5e"/>
<circle cx="74.9" cy="88.5" r="1.25" fill="#5e2e5e"/>
<circle cx="77.3" cy="88.6" r="1.25" fill="#5e2e5e"/>
<circle cx="79.0" cy="88.9" r="1.25" fill="#5e2e5e"/>
<circle cx="80.9" cy="89.2" r="1.25" fill="#5e2e5e"/>
<circle cx="81.9" cy="89.1" r="1.25" fill="#5e2e5e"/>
<circle cx="83.4" cy="88.6" r="1.25" fill="#5e2e5e"/>
<circle cx="85.7" cy="89.2" r="1.25" fill="#5e2e5e"/>
<circle cx="87.7" cy="89.3" r="1.25" fill="#5e2e5e"/>
<circle cx="89.6" cy="88.2" r="1.25" fill="#5e2e5e"/>
<circle cx="90.4" cy="88.7" r="1.25" fill="#5e2e5e"/>
<circle cx="92.2" cy="88.9" r="1.25" fill="#5e2e5e"/>
<circle cx="94.1" cy="88.5" r="1.25" fill="#5e2e5e"/>
<circle cx="96.2" cy="88.2" r="1.25" fill="#5e2e5e"/>
<circle cx="98.3" cy="88.5" r="1.25" fill="#5e2e5e"/>
<circle cx="49.4" cy="89.8" r="1.25" fill="#5e2e5e"/>
<circle cx="51.1" cy="90.0" r="1.25" fill="#5e2e5e"/>
<circle cx="53.4" cy="90.0" r="1.25" fill="#5e2e5e"/>
<circle cx="54.8" cy="90.4" r="1.25" fill="#5e2e5e"/>
<circle cx="56.9" cy="89.7" r="1.25" fill="#5e2e5e"/>
<circle cx="58.2" cy="90.3" r="1.25" fill="#5e2e5e"/>
<circle cx="60.2" cy="90.0" r="1.25" fill="#5e2e5e"/>
<circle cx="62.3" cy="90.6" r="1.25" fill="#5e2e5e"/>
<circle cx="63.7" cy="90.3" r="1.25" fill="#5e2e5e"/>
<circle cx="65.3" cy="90.3" r="1.25" fill="#5e2e5e"/>
<circle cx="66.8" cy="90.5" r="1.25" fill="#5e2e5e"/>
<circle cx="69.1" cy="90.0" r="1.25" fill="#5e2e5e"/>
<circle cx="70.7" cy="90.1" r="1.25" fill="#5e2e5e"/>
<circle cx="72.0" cy="89.8" r="1.25" fill="#5e2e5e"/>
<circle cx="73.8" cy="90.2" r="1.25" fill="#5e2e5e"/>
<circle cx="75.5" cy="90.7" r="1.25" fill="#5e2e5e"/>
<circle cx="78.2" cy="90.2" r="1.25" fill="#5e2e5e"/>
<circle cx="79.6" cy="89.8" r="1.25" fill="#5e2e5e"/>
<circle cx="81.5" cy="90.6" r="1.25" fill="#5e2e5e"/>
<circle cx="83.2" cy="89.9" r="1.25" fill="#5e2e5e"/>
<circle cx="84.8" cy="89.8" r="1.25" fill="#5e2e5e"/>
<circle cx="86.1" cy="90.3" r="1.25" fill="#5e2e5e"/>
<circle cx="87.9" cy="90.7" r="1.25" fill="#5e2e5e"/>
<circle cx="90.2" cy="90.4" r="1.25" fill="#5e2e5e"/>
<circle cx="92.1" cy="89.8" r="1.25" fill="#5e2e5e"/>
<circle cx="93.2" cy="90.4" r="1.25" fill="#5e2e5e"/>
<circle cx="95.7" cy="90.0" r="1.25" fill="#5e2e5e"/>
<circle cx="97.4" cy="90.5" r="1.25" fill="#5e2e5e"/>
<circle cx="61.3" cy="91.7" r="1.25" fill="#5e2e5e"/>
<circle cx="64.2" cy="91.5" r="1.25" fill="#5e2e5e"/>
<circle cx="67.6" cy="91.9" r="1.25" fill="#5e2e5e"/>
<circle cx="69.6" cy="91.4" r="1.25" fill="#5e2e5e"/>
<circle cx="72.1" cy="92.3" r="1.25" fill="#5e2e5e"/>
<circle cx="73.8" cy="92.0" r="1.25" fill="#5e2e5e"/>
<circle cx="75.5" cy="91.6" r="1.25" fill="#5e2e5e"/>
<circle cx="76.5" cy="92.2" r="1.25" fill="#5e2e5e"/>
<circle cx="78.6" cy="91.5" r="1.25" fill="#5e2e5e"/>
<circle cx="80.6" cy="91.9" r="1.25" fill="#5e2e5e"/>
<circle cx="82.2" cy="92.2" r="1.25" fill="#5e2e5e"/>
<circle cx="84.1" cy="91.9" r="1.25" fill="#5e2e5e"/>
<circle cx="85.5" cy="91.8" r="1.25" fill="#5e2e5e"/>
<circle cx="87.1" cy="91.7" r="1.25" fill="#5e2e5e"/>
<circle cx="89.3" cy="91.8" r="1.25" fill="#5e2e5e"/>
<circle cx="91.2" cy="91.7" r="1.25" fill="#5e2e5e"/>
<circle cx="92.5" cy="91.4" r="1.25" fill="#5e2e5e"/>
<circle cx="94.7" cy="92.3" r="1.25" fill="#5e2e5e"/>
<circle cx="95.8" cy="91.7" r="1.25" fill="#5e2e5e"/>
<circle cx="88.6" cy="92.9" r="1.25" fill="#5e2e5e"/>
<circle cx="56.5" cy="72.5" r="1.1" fill="#d8141e"/>
<circle cx="54.7" cy="73.8" r="1.1" fill="#d8141e"/>
<circle cx="60.5" cy="73.2" r="1.1" fill="#d8141e"/>
<circle cx="62.4" cy="73.8" r="1.1" fill="#d8141e"/>
<circle cx="62.4" cy="73.7" r="1.1" fill="#d8141e"/>
<circle cx="67.8" cy="74.4" r="1.1" fill="#d8141e"/>
<circle cx="46.9" cy="74.3" r="1.1" fill="#d8141e"/>
<circle cx="48.9" cy="75.1" r="1.1" fill="#d8141e"/>
<circle cx="51.3" cy="74.4" r="1.1" fill="#d8141e"/>
<circle cx="53.0" cy="75.5" r="1.1" fill="#d8141e"/>
<circle cx="57.0" cy="74.9" r="1.1" fill="#d8141e"/>
<circle cx="58.9" cy="75.1" r="1.1" fill="#d8141e"/>
<circle cx="61.4" cy="74.3" r="1.1" fill="#d8141e"/>
<circle cx="62.8" cy="74.3" r="1.1" fill="#d8141e"/>
<circle cx="63.9" cy="74.0" r="1.1" fill="#d8141e"/>
<circle cx="66.1" cy="75.5" r="1.1" fill="#d8141e"/>
<circle cx="43.0" cy="76.3" r="1.1" fill="#d8141e"/>
<circle cx="44.7" cy="75.5" r="1.1" fill="#d8141e"/>
<circle cx="47.4" cy="75.6" r="1.1" fill="#d8141e"/>
<circle cx="49.0" cy="76.4" r="1.1" fill="#d8141e"/>
<circle cx="51.3" cy="76.3" r="1.1" fill="#d8141e"/>
<circle cx="54.0" cy="76.5" r="1.1" fill="#d8141e"/>
<circle cx="55.1" cy="77.1" r="1.1" fill="#d8141e"/>
<circle cx="55.9" cy="75.7" r="1.1" fill="#d8141e"/>
<circle cx="57.5" cy="77.3" r="1.1" fill="#d8141e"/>
<circle cx="60.6" cy="76.2" r="1.1" fill="#d8141e"/>
<circle cx="61.1" cy="77.1" r="1.1" fill="#d8141e"/>
<circle cx="65.9" cy="76.3" r="1.1" fill="#d8141e"/>
<circle cx="67.2" cy="76.2" r="1.1" fill="#d8141e"/>
<circle cx="68.2" cy="75.9" r="1.1" fill="#d8141e"/>
<circle cx="70.4" cy="76.0" r="1.1" fill="#d8141e"/>
<circle cx="42.2" cy="77.9" r="1.1" fill="#d8141e"/>
<circle cx="43.8" cy="77.0" r="1.1" fill="#d8141e"/>
<circle cx="45.8" cy="77.6" r="1.1" fill="#d8141e"/>
<circle cx="46.9" cy="77.0" r="1.1" fill="#d8141e"/>
<circle cx="49.5" cy="78.1" r="1.1" fill="#d8141e"/>
<circle cx="52.6" cy="77.7" r="1.1" fill="#d8141e"/>
<circle cx="54.0" cy="78.7" r="1.1" fill="#d8141e"/>
<circle cx="56.5" cy="77.0" r="1.1" fill="#d8141e"/>
<circle cx="57.0" cy="77.2" r="1.1" fill="#d8141e"/>
<circle cx="58.9" cy="78.0" r="1.1" fill="#d8141e"/>
<circle cx="62.3" cy="78.3" r="1.1" fill="#d8141e"/>
<circle cx="63.6" cy="78.5" r="1.1" fill="#d8141e"/>
<circle cx="66.2" cy="77.8" r="1.1" fill="#d8141e"/>
<circle cx="71.4" cy="78.5" r="1.1" fill="#d8141e"/>
<circle cx="72.2" cy="78.6" r="1.1" fill="#d8141e"/>
<circle cx="43.2" cy="79.8" r="1.1" fill="#d8141e"/>
<circle cx="44.3" cy="79.1" r="1.1" fill="#d8141e"/>
<circle cx="45.8" cy="78.3" r="1.1" fill="#d8141e"/>
<circle cx="48.3" cy="78.2" r="1.1" fill="#d8141e"/>
<circle cx="51.8" cy="80.1" r="1.1" fill="#d8141e"/>
<circle cx="53.2" cy="78.3" r="1.1" fill="#d8141e"/>
<circle cx="55.6" cy="79.5" r="1.1" fill="#d8141e"/>
<circle cx="57.8" cy="80.2" r="1.1" fill="#d8141e"/>
<circle cx="59.4" cy="78.5" r="1.1" fill="#d8141e"/>
<circle cx="62.5" cy="78.6" r="1.1" fill="#d8141e"/>
<circle cx="62.6" cy="78.6" r="1.1" fill="#d8141e"/>
<circle cx="64.8" cy="78.7" r="1.1" fill="#d8141e"/>
<circle cx="66.1" cy="78.7" r="1.1" fill="#d8141e"/>
<circle cx="67.6" cy="78.3" r="1.1" fill="#d8141e"/>
<circle cx="68.9" cy="79.5" r="1.1" fill="#d8141e"/>
<circle cx="71.5" cy="79.9" r="1.1" fill="#d8141e"/>
<circle cx="72.8" cy="79.0" r="1.1" fill="#d8141e"/>
<circle cx="44.7" cy="80.1" r="1.1" fill="#d8141e"/>
<circle cx="45.0" cy="81.5" r="1.1" fill="#d8141e"/>
<circle cx="48.4" cy="81.5" r="1.1" fill="#d8141e"/>
<circle cx="50.2" cy="80.2" r="1.1" fill="#d8141e"/>
<circle cx="54.8" cy="81.4" r="1.1" fill="#d8141e"/>
<circle cx="57.7" cy="81.3" r="1.1" fill="#d8141e"/>
<circle cx="59.2" cy="81.4" r="1.1" fill="#d8141e"/>
<circle cx="61.4" cy="81.2" r="1.1" fill="#d8141e"/>
<circle cx="62.8" cy="81.0" r="1.1" fill="#d8141e"/>
<circle cx="66.7" cy="80.4" r="1.1" fill="#d8141e"/>
<circle cx="67.5" cy="81.3" r="1.1" fill="#d8141e"/>
<circle cx="71.1" cy="79.6" r="1.1" fill="#d8141e"/>
<circle cx="73.7" cy="79.8" r="1.1" fill="#d8141e"/>
<circle cx="75.9" cy="80.5" r="1.1" fill="#d8141e"/>
<circle cx="78.7" cy="81.0" r="1.1" fill="#d8141e"/>
<circle cx="45.4" cy="81.2" r="1.1" fill="#d8141e"/>
<circle cx="47.3" cy="81.4" r="1.1" fill="#d8141e"/>
<circle cx="48.7" cy="82.4" r="1.1" fill="#d8141e"/>
<circle cx="50.4" cy="82.9" r="1.1" fill="#d8141e"/>
<circle cx="55.9" cy="81.6" r="1.1" fill="#d8141e"/>
<circle cx="56.1" cy="81.3" r="1.1" fill="#d8141e"/>
<circle cx="59.2" cy="81.6" r="1.1" fill="#d8141e"/>
<circle cx="61.3" cy="82.7" r="1.1" fill="#d8141e"/>
<circle cx="62.3" cy="81.2" r="1.1" fill="#d8141e"/>
<circle cx="64.4" cy="82.8" r="1.1" fill="#d8141e"/>
<circle cx="67.3" cy="82.0" r="1.1" fill="#d8141e"/>
<circle cx="67.9" cy="81.2" r="1.1" fill="#d8141e"/>
<circle cx="72.5" cy="81.2" r="1.1" fill="#d8141e"/>
<circle cx="74.0" cy="82.5" r="1.1" fill="#d8141e"/>
<circle cx="77.4" cy="81.2" r="1.1" fill="#d8141e"/>
<circle cx="78.7" cy="81.4" r="1.1" fill="#d8141e"/>
<circle cx="80.7" cy="82.6" r="1.1" fill="#d8141e"/>
<circle cx="80.8" cy="82.4" r="1.1" fill="#d8141e"/>
<circle cx="83.9" cy="82.0" r="1.1" fill="#d8141e"/>
<circle cx="42.0" cy="82.9" r="1.1" fill="#d8141e"/>
<circle cx="45.0" cy="83.3" r="1.1" fill="#d8141e"/>
<circle cx="49.2" cy="83.6" r="1.1" fill="#d8141e"/>
<circle cx="51.6" cy="84.4" r="1.1" fill="#d8141e"/>
<circle cx="51.9" cy="84.3" r="1.1" fill="#d8141e"/>
<circle cx="55.1" cy="82.8" r="1.1" fill="#d8141e"/>
<circle cx="57.2" cy="83.3" r="1.1" fill="#d8141e"/>
<circle cx="60.0" cy="83.3" r="1.1" fill="#d8141e"/>
<circle cx="60.6" cy="83.3" r="1.1" fill="#d8141e"/>
<circle cx="61.5" cy="83.0" r="1.1" fill="#d8141e"/>
<circle cx="64.7" cy="83.9" r="1.1" fill="#d8141e"/>
<circle cx="65.6" cy="82.9" r="1.1" fill="#d8141e"/>
<circle cx="68.4" cy="83.7" r="1.1" fill="#d8141e"/>
<circle cx="69.1" cy="83.5" r="1.1" fill="#d8141e"/>
<circle cx="73.1" cy="83.1" r="1.1" fill="#d8141e"/>
<circle cx="73.4" cy="84.4" r="1.1" fill="#d8141e"/>
<circle cx="75.6" cy="82.5" r="1.1" fill="#d8141e"/>
<circle cx="77.2" cy="82.5" r="1.1" fill="#d8141e"/>
<circle cx="78.9" cy="83.4" r="1.1" fill="#d8141e"/>
<circle cx="79.7" cy="83.1" r="1.1" fill="#d8141e"/>
<circle cx="81.5" cy="83.7" r="1.1" fill="#d8141e"/>
<circle cx="84.0" cy="83.9" r="1.1" fill="#d8141e"/>
<circle cx="87.6" cy="84.2" r="1.1" fill="#d8141e"/>
<circle cx="90.5" cy="84.3" r="1.1" fill="#d8141e"/>
<circle cx="43.5" cy="85.6" r="1.1" fill="#d8141e"/>
<circle cx="45.1" cy="84.4" r="1.1" fill="#d8141e"/>
<circle cx="47.2" cy="85.1" r="1.1" fill="#d8141e"/>
<circle cx="48.0" cy="85.8" r="1.1" fill="#d8141e"/>
<circle cx="53.3" cy="85.1" r="1.1" fill="#d8141e"/>
<circle cx="56.3" cy="85.7" r="1.1" fill="#d8141e"/>
<circle cx="58.7" cy="84.2" r="1.1" fill="#d8141e"/>
<circle cx="59.6" cy="85.9" r="1.1" fill="#d8141e"/>
<circle cx="61.4" cy="85.8" r="1.1" fill="#d8141e"/>
<circle cx="63.8" cy="85.2" r="1.1" fill="#d8141e"/>
<circle cx="65.8" cy="85.2" r="1.1" fill="#d8141e"/>
<circle cx="67.5" cy="85.8" r="1.1" fill="#d8141e"/>
<circle cx="70.1" cy="84.5" r="1.1" fill="#d8141e"/>
<circle cx="71.2" cy="84.0" r="1.1" fill="#d8141e"/>
<circle cx="74.1" cy="84.3" r="1.1" fill="#d8141e"/>
<circle cx="76.8" cy="84.6" r="1.1" fill="#d8141e"/>
<circle cx="77.4" cy="84.6" r="1.1" fill="#d8141e"/>
<circle cx="80.4" cy="84.4" r="1.1" fill="#d8141e"/>
<circle cx="81.9" cy="84.3" r="1.1" fill="#d8141e"/>
<circle cx="84.0" cy="85.7" r="1.1" fill="#d8141e"/>
<circle cx="84.3" cy="84.8" r="1.1" fill="#d8141e"/>
<circle cx="86.9" cy="85.7" r="1.1" fill="#d8141e"/>
<circle cx="89.0" cy="85.3" r="1.1" fill="#d8141e"/>
<circle cx="92.3" cy="85.5" r="1.1" fill="#d8141e"/>
<circle cx="93.5" cy="84.5" r="1.1" fill="#d8141e"/>
<circle cx="96.2" cy="85.6" r="1.1" fill="#d8141e"/>
<circle cx="42.6" cy="86.3" r="1.1" fill="#d8141e"/>
<circle cx="43.7" cy="86.1" r="1.1" fill="#d8141e"/>
<circle cx="45.3" cy="86.0" r="1.1" fill="#d8141e"/>
<circle cx="48.5" cy="86.3" r="1.1" fill="#d8141e"/>
<circle cx="48.3" cy="86.4" r="1.1" fill="#d8141e"/>
<circle cx="50.1" cy="86.3" r="1.1" fill="#d8141e"/>
<circle cx="52.3" cy="86.8" r="1.1" fill="#d8141e"/>
<circle cx="53.3" cy="85.5" r="1.1" fill="#d8141e"/>
<circle cx="56.1" cy="86.5" r="1.1" fill="#d8141e"/>
<circle cx="57.2" cy="86.8" r="1.1" fill="#d8141e"/>
<circle cx="59.2" cy="85.8" r="1.1" fill="#d8141e"/>
<circle cx="64.5" cy="86.3" r="1.1" fill="#d8141e"/>
<circle cx="66.2" cy="86.2" r="1.1" fill="#d8141e"/>
<circle cx="66.6" cy="86.6" r="1.1" fill="#d8141e"/>
<circle cx="69.6" cy="85.7" r="1.1" fill="#d8141e"/>
<circle cx="73.2" cy="86.6" r="1.1" fill="#d8141e"/>
<circle cx="74.1" cy="86.9" r="1.1" fill="#d8141e"/>
<circle cx="77.8" cy="86.7" r="1.1" fill="#d8141e"/>
<circle cx="79.7" cy="86.6" r="1.1" fill="#d8141e"/>
<circle cx="80.2" cy="85.6" r="1.1" fill="#d8141e"/>
<circle cx="81.7" cy="87.3" r="1.1" fill="#d8141e"/>
<circle cx="84.7" cy="86.0" r="1.1" fill="#d8141e"/>
<circle cx="87.4" cy="85.6" r="1.1" fill="#d8141e"/>
<circle cx="88.1" cy="86.3" r="1.1" fill="#d8141e"/>
<circle cx="90.1" cy="86.7" r="1.1" fill="#d8141e"/>
<circle cx="92.8" cy="86.7" r="1.1" fill="#d8141e"/>
<circle cx="94.5" cy="85.4" r="1.1" fill="#d8141e"/>
<circle cx="94.5" cy="87.2" r="1.1" fill="#d8141e"/>
<circle cx="97.8" cy="87.3" r="1.1" fill="#d8141e"/>
<circle cx="45.7" cy="87.8" r="1.1" fill="#d8141e"/>
<circle cx="46.1" cy="87.0" r="1.1" fill="#d8141e"/>
<circle cx="48.5" cy="87.2" r="1.1" fill="#d8141e"/>
<circle cx="49.2" cy="87.4" r="1.1" fill="#d8141e"/>
<circle cx="51.0" cy="87.8" r="1.1" fill="#d8141e"/>
<circle cx="55.9" cy="88.7" r="1.1" fill="#d8141e"/>
<circle cx="58.7" cy="86.9" r="1.1" fill="#d8141e"/>
<circle cx="62.3" cy="87.9" r="1.1" fill="#d8141e"/>
<circle cx="64.1" cy="88.6" r="1.1" fill="#d8141e"/>
<circle cx="67.6" cy="88.1" r="1.1" fill="#d8141e"/>
<circle cx="70.0" cy="88.1" r="1.1" fill="#d8141e"/>
<circle cx="71.2" cy="86.8" r="1.1" fill="#d8141e"/>
<circle cx="72.6" cy="87.0" r="1.1" fill="#d8141e"/>
<circle cx="75.3" cy="88.8" r="1.1" fill="#d8141e"/>
<circle cx="77.9" cy="88.5" r="1.1" fill="#d8141e"/>
<circle cx="79.4" cy="87.8" r="1.1" fill="#d8141e"/>
<circle cx="84.0" cy="88.1" r="1.1" fill="#d8141e"/>
<circle cx="84.7" cy="88.0" r="1.1" fill="#d8141e"/>
<circle cx="88.0" cy="87.7" r="1.1" fill="#d8141e"/>
<circle cx="89.3" cy="87.8" r="1.1" fill="#d8141e"/>
<circle cx="91.2" cy="87.0" r="1.1" fill="#d8141e"/>
<circle cx="93.7" cy="88.6" r="1.1" fill="#d8141e"/>
<circle cx="94.8" cy="87.8" r="1.1" fill="#d8141e"/>
<circle cx="95.9" cy="87.9" r="1.1" fill="#d8141e"/>
<circle cx="98.1" cy="86.9" r="1.1" fill="#d8141e"/>
<circle cx="45.9" cy="89.6" r="1.1" fill="#d8141e"/>
<circle cx="47.7" cy="89.7" r="1.1" fill="#d8141e"/>
<circle cx="49.5" cy="89.0" r="1.1" fill="#d8141e"/>
<circle cx="51.2" cy="89.1" r="1.1" fill="#d8141e"/>
<circle cx="52.3" cy="88.8" r="1.1" fill="#d8141e"/>
<circle cx="54.9" cy="88.6" r="1.1" fill="#d8141e"/>
<circle cx="55.9" cy="89.5" r="1.1" fill="#d8141e"/>
<circle cx="57.3" cy="88.3" r="1.1" fill="#d8141e"/>
<circle cx="61.1" cy="89.5" r="1.1" fill="#d8141e"/>
<circle cx="64.1" cy="89.1" r="1.1" fill="#d8141e"/>
<circle cx="65.8" cy="90.2" r="1.1" fill="#d8141e"/>
<circle cx="66.5" cy="89.4" r="1.1" fill="#d8141e"/>
<circle cx="68.5" cy="90.2" r="1.1" fill="#d8141e"/>
<circle cx="70.3" cy="89.0" r="1.1" fill="#d8141e"/>
<circle cx="74.5" cy="88.9" r="1.1" fill="#d8141e"/>
<circle cx="76.6" cy="90.0" r="1.1" fill="#d8141e"/>
<circle cx="78.8" cy="89.1" r="1.1" fill="#d8141e"/>
<circle cx="81.7" cy="90.0" r="1.1" fill="#d8141e"/>
<circle cx="85.7" cy="88.9" r="1.1" fill="#d8141e"/>
<circle cx="86.7" cy="88.4" r="1.1" fill="#d8141e"/>
<circle cx="88.5" cy="89.9" r="1.1" fill="#d8141e"/>
<circle cx="90.5" cy="89.2" r="1.1" fill="#d8141e"/>
<circle cx="93.1" cy="90.0" r="1.1" fill="#d8141e"/>
<circle cx="94.6" cy="88.5" r="1.1" fill="#d8141e"/>
<circle cx="50.0" cy="90.1" r="1.1" fill="#d8141e"/>
<circle cx="52.6" cy="90.4" r="1.1" fill="#d8141e"/>
<circle cx="56.9" cy="91.0" r="1.1" fill="#d8141e"/>
<circle cx="59.0" cy="91.3" r="1.1" fill="#d8141e"/>
<circle cx="60.8" cy="90.9" r="1.1" fill="#d8141e"/>
<circle cx="63.9" cy="91.3" r="1.1" fill="#d8141e"/>
<circle cx="65.7" cy="91.1" r="1.1" fill="#d8141e"/>
<circle cx="68.0" cy="90.0" r="1.1" fill="#d8141e"/>
<circle cx="72.3" cy="91.1" r="1.1" fill="#d8141e"/>
<circle cx="73.5" cy="90.3" r="1.1" fill="#d8141e"/>
<circle cx="74.9" cy="90.5" r="1.1" fill="#d8141e"/>
<circle cx="77.2" cy="91.6" r="1.1" fill="#d8141e"/>
<circle cx="78.8" cy="90.3" r="1.1" fill="#d8141e"/>
<circle cx="82.7" cy="89.8" r="1.1" fill="#d8141e"/>
<circle cx="86.5" cy="91.2" r="1.1" fill="#d8141e"/>
<circle cx="90.6" cy="91.2" r="1.1" fill="#d8141e"/>
<circle cx="92.6" cy="89.9" r="1.1" fill="#d8141e"/>
<circle cx="97.2" cy="90.1" r="1.1" fill="#d8141e"/>
<circle cx="97.9" cy="90.3" r="1.1" fill="#d8141e"/>
<circle cx="64.5" cy="91.3" r="1.1" fill="#d8141e"/>
<circle cx="70.1" cy="92.2" r="1.1" fill="#d8141e"/>
<circle cx="73.3" cy="92.5" r="1.1" fill="#d8141e"/>
<circle cx="76.3" cy="92.5" r="1.1" fill="#d8141e"/>
<circle cx="79.7" cy="92.0" r="1.1" fill="#d8141e"/>
<circle cx="81.3" cy="91.3" r="1.1" fill="#d8141e"/>
<circle cx="81.8" cy="91.2" r="1.1" fill="#d8141e"/>
<circle cx="84.9" cy="92.9" r="1.1" fill="#d8141e"/>
<circle cx="87.5" cy="92.2" r="1.1" fill="#d8141e"/>
<circle cx="90.6" cy="92.7" r="1.1" fill="#d8141e"/>
<circle cx="93.1" cy="92.5" r="1.1" fill="#d8141e"/>
<circle cx="71.0" cy="78.7" r="1.25" fill="#1c1cec"/>
<circle cx="94.3" cy="87.9" r="1.25" fill="#1c1cec"/>
<circle cx="81.9" cy="89.5" r="1.25" fill="#1c1cec"/>
<circle cx="85.4" cy="89.4" r="1.25" fill="#1c1cec"/>
<circle cx="79.3" cy="90.2" r="1.25" fill="#1c1cec"/>
<circle cx="44.0" cy="89.0" r="1.25" fill="#3cff00"/>
<circle cx="48.0" cy="91.0" r="1.25" fill="#3cff00"/>
<circle cx="58.0" cy="93.0" r="1.25" fill="#3cff00"/>
<circle cx="60.0" cy="96.0" r="1.25" fill="#d8141e"/>
<circle cx="52.0" cy="93.0" r="1.25" fill="#d8141e"/>
<circle cx="77.0" cy="97.0" r="1.25" fill="#3cff00"/>
<circle cx="46.0" cy="71.0" r="1.25" fill="#3cff00"/>
<circle cx="50.0" cy="67.0" r="1.25" fill="#3cff00"/>
<circle cx="66.0" cy="53.0" r="1.25" fill="#1c1cec"/>
<circle cx="88.0" cy="52.0" r="1.25" fill="#3cff00"/>
<circle cx="97.0" cy="53.0" r="1.25" fill="#1c1cec"/>
<circle cx="140.0" cy="86.0" r="1.25" fill="#f014f0"/>
<circle cx="125.0" cy="88.0" r="1.25" fill="#f014f0"/>
<rect x="33.4" y="26.6" width="51.4" height="23.5" fill="#fff" stroke="#8a8a8a" stroke-width="0.5"/>
<circle cx="41" cy="29.4" r="1.2" fill="#d8141e"/>
<text x="47.10" y="31.10" font-size="4.85" text-anchor="start" fill="#111" stroke="#111" stroke-width="0.1">Control-24h</text>
<circle cx="41" cy="35.1" r="1.2" fill="#1c1cec"/>
<text x="47.10" y="36.80" font-size="4.85" text-anchor="start" fill="#111" stroke="#111" stroke-width="0.1">BLM-50uM-24h</text>
<circle cx="41" cy="40.8" r="1.2" fill="#3cff00"/>
<text x="47.10" y="42.50" font-size="4.85" text-anchor="start" fill="#111" stroke="#111" stroke-width="0.1">BLM-150uM-24h</text>
<circle cx="41" cy="46.5" r="1.2" fill="#f014f0"/>
<text x="47.10" y="48.20" font-size="4.85" text-anchor="start" fill="#111" stroke="#111" stroke-width="0.1">BLM-500uM-24h</text>
<g stroke="#e4e4e4" stroke-width="0.5" fill="none">
<line x1="305" y1="48" x2="305" y2="95"/>
<line x1="313" y1="48" x2="313" y2="95"/>
<line x1="320" y1="48" x2="320" y2="95"/>
<line x1="327" y1="48" x2="327" y2="95"/>
<path d="M225.2,62 L225.2,90.4 L243,100 L330,94 L330,46"/>
</g>
<g stroke="#666" stroke-width="0.5" fill="none"><path d="M225.3,61.4 L225.3,91.5 M227.2,93 L241.5,102.3 L331.8,92.8"/></g>
<path d="M256.0,100.8 l0,1.4 M267.5,99.6 l0,1.4 M277.0,98.6 l0,1.4 M289.5,97.3 l0,1.4 M301.5,96.0 l0,1.4 M312.5,94.8 l0,1.4 M323.5,93.7 l0,1.4 M225.3,65.5 l-1.3,0 M225.3,71.5 l-1.3,0 M225.3,77.1 l-1.3,0 M225.3,83.0 l-1.3,0 M229.5,94.4 l-0.6,1.4 M233.5,97.0 l-0.6,1.4 M237.5,99.7 l-0.6,1.4" stroke="#777" stroke-width="0.45" fill="none"/>
<text x="222.90" y="66.90" font-size="4.2" text-anchor="end" fill="#333" stroke="#333" stroke-width="0.08">0.05</text>
<text x="222.90" y="72.90" font-size="4.2" text-anchor="end" fill="#333" stroke="#333" stroke-width="0.08">0</text>
<text x="222.90" y="78.50" font-size="4.2" text-anchor="end" fill="#333" stroke="#333" stroke-width="0.08">-0.05</text>
<text x="222.90" y="84.40" font-size="4.2" text-anchor="end" fill="#333" stroke="#333" stroke-width="0.08">-0.1</text>
<text x="257.90" y="108.30" font-size="4.2" text-anchor="middle" fill="#333" stroke="#333" stroke-width="0.08">-0.2</text>
<text x="269.50" y="107.00" font-size="4.2" text-anchor="middle" fill="#333" stroke="#333" stroke-width="0.08">-0.1</text>
<text x="279.00" y="105.90" font-size="4.2" text-anchor="middle" fill="#333" stroke="#333" stroke-width="0.08">0</text>
<text x="291.40" y="104.70" font-size="4.2" text-anchor="middle" fill="#333" stroke="#333" stroke-width="0.08">0.1</text>
<text x="303.50" y="103.40" font-size="4.2" text-anchor="middle" fill="#333" stroke="#333" stroke-width="0.08">0.2</text>
<text x="314.10" y="102.20" font-size="4.2" text-anchor="middle" fill="#333" stroke="#333" stroke-width="0.08">0.3</text>
<text x="325.50" y="101.20" font-size="4.2" text-anchor="middle" fill="#333" stroke="#333" stroke-width="0.08">0.4</text>
<text x="222.50" y="98.00" font-size="4.2" text-anchor="middle" fill="#333" stroke="#333" stroke-width="0.08">0.1</text>
<text x="229.50" y="101.40" font-size="4.2" text-anchor="middle" fill="#333" stroke="#333" stroke-width="0.08">0</text>
<text x="232.00" y="105.00" font-size="4.2" text-anchor="middle" fill="#333" stroke="#333" stroke-width="0.08">-0.1</text>
<text x="208.50" y="76.60" font-size="8.8" font-weight="bold" text-anchor="middle" fill="#000" transform="rotate(-90 208.50 76.60)" dominant-baseline="central">PC3</text>
<text x="222.80" y="105.60" font-size="8.8" font-weight="bold" text-anchor="middle" fill="#000" transform="rotate(30 222.80 105.60)" dominant-baseline="central">PC2</text>
<text x="293.70" y="110.40" font-size="8.8" font-weight="bold" text-anchor="middle" fill="#000" dominant-baseline="central">PC1</text>
<circle cx="279.9" cy="56.1" r="1.2" fill="#40e6d4"/>
<circle cx="286.2" cy="56.3" r="1.2" fill="#40e6d4"/>
<circle cx="287.3" cy="56.0" r="1.2" fill="#40e6d4"/>
<circle cx="277.5" cy="57.3" r="1.2" fill="#40e6d4"/>
<circle cx="279.8" cy="57.3" r="1.2" fill="#40e6d4"/>
<circle cx="281.8" cy="56.1" r="1.2" fill="#40e6d4"/>
<circle cx="284.4" cy="57.2" r="1.2" fill="#40e6d4"/>
<circle cx="285.4" cy="58.0" r="1.2" fill="#40e6d4"/>
<circle cx="286.7" cy="57.7" r="1.2" fill="#40e6d4"/>
<circle cx="288.0" cy="57.4" r="1.2" fill="#40e6d4"/>
<circle cx="290.1" cy="57.7" r="1.2" fill="#40e6d4"/>
<circle cx="270.6" cy="59.6" r="1.2" fill="#40e6d4"/>
<circle cx="272.3" cy="58.6" r="1.2" fill="#40e6d4"/>
<circle cx="273.0" cy="58.1" r="1.2" fill="#40e6d4"/>
<circle cx="274.7" cy="58.3" r="1.2" fill="#40e6d4"/>
<circle cx="277.8" cy="59.6" r="1.2" fill="#40e6d4"/>
<circle cx="278.4" cy="58.7" r="1.2" fill="#40e6d4"/>
<circle cx="280.9" cy="58.7" r="1.2" fill="#40e6d4"/>
<circle cx="281.9" cy="58.9" r="1.2" fill="#40e6d4"/>
<circle cx="284.6" cy="58.9" r="1.2" fill="#40e6d4"/>
<circle cx="285.5" cy="58.7" r="1.2" fill="#40e6d4"/>
<circle cx="288.1" cy="57.5" r="1.2" fill="#40e6d4"/>
<circle cx="290.2" cy="57.9" r="1.2" fill="#40e6d4"/>
<circle cx="267.7" cy="59.6" r="1.2" fill="#40e6d4"/>
<circle cx="268.6" cy="60.1" r="1.2" fill="#40e6d4"/>
<circle cx="270.1" cy="59.4" r="1.2" fill="#40e6d4"/>
<circle cx="273.6" cy="60.4" r="1.2" fill="#40e6d4"/>
<circle cx="275.5" cy="59.4" r="1.2" fill="#40e6d4"/>
<circle cx="276.9" cy="60.3" r="1.2" fill="#40e6d4"/>
<circle cx="277.2" cy="59.4" r="1.2" fill="#40e6d4"/>
<circle cx="280.7" cy="59.6" r="1.2" fill="#40e6d4"/>
<circle cx="281.9" cy="59.4" r="1.2" fill="#40e6d4"/>
<circle cx="284.3" cy="60.7" r="1.2" fill="#40e6d4"/>
<circle cx="285.7" cy="60.8" r="1.2" fill="#40e6d4"/>
<circle cx="287.3" cy="59.0" r="1.2" fill="#40e6d4"/>
<circle cx="288.5" cy="61.1" r="1.2" fill="#40e6d4"/>
<circle cx="290.3" cy="60.5" r="1.2" fill="#40e6d4"/>
<circle cx="264.0" cy="62.1" r="1.2" fill="#40e6d4"/>
<circle cx="267.7" cy="61.1" r="1.2" fill="#40e6d4"/>
<circle cx="268.9" cy="61.3" r="1.2" fill="#40e6d4"/>
<circle cx="270.6" cy="61.5" r="1.2" fill="#40e6d4"/>
<circle cx="272.4" cy="61.2" r="1.2" fill="#40e6d4"/>
<circle cx="274.1" cy="61.7" r="1.2" fill="#40e6d4"/>
<circle cx="274.8" cy="61.4" r="1.2" fill="#40e6d4"/>
<circle cx="277.3" cy="61.4" r="1.2" fill="#40e6d4"/>
<circle cx="279.5" cy="62.1" r="1.2" fill="#40e6d4"/>
<circle cx="281.0" cy="62.6" r="1.2" fill="#40e6d4"/>
<circle cx="283.5" cy="61.0" r="1.2" fill="#40e6d4"/>
<circle cx="283.9" cy="61.0" r="1.2" fill="#40e6d4"/>
<circle cx="285.5" cy="61.6" r="1.2" fill="#40e6d4"/>
<circle cx="288.3" cy="60.6" r="1.2" fill="#40e6d4"/>
<circle cx="289.8" cy="61.1" r="1.2" fill="#40e6d4"/>
<circle cx="292.0" cy="60.8" r="1.2" fill="#40e6d4"/>
<circle cx="292.6" cy="62.2" r="1.2" fill="#40e6d4"/>
<circle cx="262.4" cy="63.8" r="1.2" fill="#40e6d4"/>
<circle cx="264.6" cy="63.2" r="1.2" fill="#40e6d4"/>
<circle cx="266.7" cy="63.7" r="1.2" fill="#40e6d4"/>
<circle cx="268.6" cy="63.3" r="1.2" fill="#40e6d4"/>
<circle cx="268.8" cy="62.1" r="1.2" fill="#40e6d4"/>
<circle cx="271.6" cy="62.4" r="1.2" fill="#40e6d4"/>
<circle cx="273.0" cy="62.7" r="1.2" fill="#40e6d4"/>
<circle cx="275.4" cy="63.3" r="1.2" fill="#40e6d4"/>
<circle cx="276.8" cy="63.6" r="1.2" fill="#40e6d4"/>
<circle cx="279.1" cy="63.1" r="1.2" fill="#40e6d4"/>
<circle cx="278.9" cy="62.7" r="1.2" fill="#40e6d4"/>
<circle cx="281.5" cy="63.1" r="1.2" fill="#40e6d4"/>
<circle cx="283.8" cy="62.2" r="1.2" fill="#40e6d4"/>
<circle cx="285.3" cy="62.1" r="1.2" fill="#40e6d4"/>
<circle cx="287.5" cy="63.6" r="1.2" fill="#40e6d4"/>
<circle cx="287.9" cy="63.6" r="1.2" fill="#40e6d4"/>
<circle cx="289.5" cy="62.9" r="1.2" fill="#40e6d4"/>
<circle cx="292.5" cy="62.5" r="1.2" fill="#40e6d4"/>
<circle cx="294.1" cy="63.7" r="1.2" fill="#40e6d4"/>
<circle cx="262.5" cy="64.6" r="1.2" fill="#40e6d4"/>
<circle cx="263.0" cy="64.7" r="1.2" fill="#40e6d4"/>
<circle cx="264.7" cy="64.5" r="1.2" fill="#40e6d4"/>
<circle cx="266.0" cy="64.0" r="1.2" fill="#40e6d4"/>
<circle cx="268.4" cy="65.4" r="1.2" fill="#40e6d4"/>
<circle cx="270.1" cy="65.3" r="1.2" fill="#40e6d4"/>
<circle cx="271.7" cy="64.7" r="1.2" fill="#40e6d4"/>
<circle cx="272.7" cy="63.8" r="1.2" fill="#40e6d4"/>
<circle cx="276.3" cy="64.0" r="1.2" fill="#40e6d4"/>
<circle cx="277.4" cy="65.0" r="1.2" fill="#40e6d4"/>
<circle cx="278.6" cy="64.3" r="1.2" fill="#40e6d4"/>
<circle cx="281.4" cy="64.4" r="1.2" fill="#40e6d4"/>
<circle cx="281.9" cy="64.6" r="1.2" fill="#40e6d4"/>
<circle cx="283.9" cy="63.8" r="1.2" fill="#40e6d4"/>
<circle cx="286.1" cy="64.3" r="1.2" fill="#40e6d4"/>
<circle cx="288.5" cy="63.7" r="1.2" fill="#40e6d4"/>
<circle cx="289.1" cy="63.7" r="1.2" fill="#40e6d4"/>
<circle cx="291.1" cy="65.0" r="1.2" fill="#40e6d4"/>
<circle cx="292.7" cy="65.5" r="1.2" fill="#40e6d4"/>
<circle cx="294.6" cy="64.0" r="1.2" fill="#40e6d4"/>
<circle cx="261.6" cy="65.8" r="1.2" fill="#40e6d4"/>
<circle cx="262.0" cy="66.3" r="1.2" fill="#40e6d4"/>
<circle cx="265.0" cy="66.2" r="1.2" fill="#40e6d4"/>
<circle cx="266.5" cy="66.2" r="1.2" fill="#40e6d4"/>
<circle cx="268.1" cy="66.1" r="1.2" fill="#40e6d4"/>
<circle cx="269.0" cy="65.4" r="1.2" fill="#40e6d4"/>
<circle cx="272.1" cy="66.3" r="1.2" fill="#40e6d4"/>
<circle cx="272.2" cy="66.3" r="1.2" fill="#40e6d4"/>
<circle cx="275.7" cy="67.0" r="1.2" fill="#40e6d4"/>
<circle cx="277.0" cy="67.2" r="1.2" fill="#40e6d4"/>
<circle cx="279.1" cy="65.9" r="1.2" fill="#40e6d4"/>
<circle cx="280.3" cy="66.8" r="1.2" fill="#40e6d4"/>
<circle cx="282.3" cy="65.8" r="1.2" fill="#40e6d4"/>
<circle cx="283.6" cy="67.1" r="1.2" fill="#40e6d4"/>
<circle cx="285.4" cy="66.9" r="1.2" fill="#40e6d4"/>
<circle cx="287.3" cy="65.4" r="1.2" fill="#40e6d4"/>
<circle cx="288.2" cy="66.5" r="1.2" fill="#40e6d4"/>
<circle cx="290.7" cy="65.4" r="1.2" fill="#40e6d4"/>
<circle cx="291.7" cy="66.3" r="1.2" fill="#40e6d4"/>
<circle cx="294.8" cy="65.6" r="1.2" fill="#40e6d4"/>
<circle cx="260.7" cy="67.4" r="1.2" fill="#40e6d4"/>
<circle cx="262.4" cy="68.2" r="1.2" fill="#40e6d4"/>
<circle cx="263.5" cy="68.2" r="1.2" fill="#40e6d4"/>
<circle cx="264.9" cy="66.8" r="1.2" fill="#40e6d4"/>
<circle cx="267.4" cy="67.3" r="1.2" fill="#40e6d4"/>
<circle cx="268.4" cy="68.1" r="1.2" fill="#40e6d4"/>
<circle cx="269.4" cy="68.0" r="1.2" fill="#40e6d4"/>
<circle cx="271.4" cy="67.6" r="1.2" fill="#40e6d4"/>
<circle cx="274.6" cy="68.1" r="1.2" fill="#40e6d4"/>
<circle cx="275.4" cy="67.9" r="1.2" fill="#40e6d4"/>
<circle cx="276.8" cy="67.9" r="1.2" fill="#40e6d4"/>
<circle cx="279.2" cy="67.1" r="1.2" fill="#40e6d4"/>
<circle cx="281.4" cy="67.1" r="1.2" fill="#40e6d4"/>
<circle cx="281.5" cy="68.2" r="1.2" fill="#40e6d4"/>
<circle cx="284.9" cy="68.1" r="1.2" fill="#40e6d4"/>
<circle cx="286.1" cy="67.1" r="1.2" fill="#40e6d4"/>
<circle cx="287.9" cy="66.7" r="1.2" fill="#40e6d4"/>
<circle cx="290.1" cy="66.9" r="1.2" fill="#40e6d4"/>
<circle cx="291.3" cy="66.9" r="1.2" fill="#40e6d4"/>
<circle cx="293.2" cy="67.0" r="1.2" fill="#40e6d4"/>
<circle cx="294.2" cy="68.6" r="1.2" fill="#40e6d4"/>
<circle cx="256.1" cy="70.2" r="1.2" fill="#40e6d4"/>
<circle cx="258.6" cy="70.1" r="1.2" fill="#40e6d4"/>
<circle cx="259.8" cy="69.1" r="1.2" fill="#40e6d4"/>
<circle cx="262.0" cy="69.4" r="1.2" fill="#40e6d4"/>
<circle cx="263.9" cy="68.2" r="1.2" fill="#40e6d4"/>
<circle cx="266.6" cy="69.1" r="1.2" fill="#40e6d4"/>
<circle cx="267.1" cy="68.6" r="1.2" fill="#40e6d4"/>
<circle cx="269.0" cy="69.6" r="1.2" fill="#40e6d4"/>
<circle cx="270.2" cy="68.5" r="1.2" fill="#40e6d4"/>
<circle cx="273.7" cy="69.8" r="1.2" fill="#40e6d4"/>
<circle cx="275.0" cy="68.3" r="1.2" fill="#40e6d4"/>
<circle cx="275.8" cy="69.9" r="1.2" fill="#40e6d4"/>
<circle cx="278.1" cy="69.7" r="1.2" fill="#40e6d4"/>
<circle cx="280.7" cy="69.5" r="1.2" fill="#40e6d4"/>
<circle cx="281.3" cy="69.6" r="1.2" fill="#40e6d4"/>
<circle cx="283.3" cy="68.3" r="1.2" fill="#40e6d4"/>
<circle cx="285.5" cy="69.0" r="1.2" fill="#40e6d4"/>
<circle cx="287.8" cy="68.8" r="1.2" fill="#40e6d4"/>
<circle cx="290.9" cy="70.0" r="1.2" fill="#40e6d4"/>
<circle cx="293.0" cy="70.1" r="1.2" fill="#40e6d4"/>
<circle cx="293.2" cy="68.5" r="1.2" fill="#40e6d4"/>
<circle cx="294.8" cy="69.6" r="1.2" fill="#40e6d4"/>
<circle cx="255.0" cy="71.7" r="1.2" fill="#40e6d4"/>
<circle cx="256.0" cy="71.2" r="1.2" fill="#40e6d4"/>
<circle cx="258.7" cy="71.8" r="1.2" fill="#40e6d4"/>
<circle cx="259.7" cy="70.0" r="1.2" fill="#40e6d4"/>
<circle cx="261.3" cy="71.7" r="1.2" fill="#40e6d4"/>
<circle cx="264.3" cy="71.4" r="1.2" fill="#40e6d4"/>
<circle cx="264.8" cy="71.1" r="1.2" fill="#40e6d4"/>
<circle cx="267.8" cy="70.7" r="1.2" fill="#40e6d4"/>
<circle cx="270.5" cy="70.9" r="1.2" fill="#40e6d4"/>
<circle cx="272.8" cy="70.6" r="1.2" fill="#40e6d4"/>
<circle cx="274.2" cy="71.7" r="1.2" fill="#40e6d4"/>
<circle cx="275.7" cy="71.3" r="1.2" fill="#40e6d4"/>
<circle cx="276.3" cy="71.4" r="1.2" fill="#40e6d4"/>
<circle cx="279.5" cy="71.4" r="1.2" fill="#40e6d4"/>
<circle cx="281.5" cy="71.0" r="1.2" fill="#40e6d4"/>
<circle cx="282.6" cy="71.5" r="1.2" fill="#40e6d4"/>
<circle cx="283.5" cy="70.8" r="1.2" fill="#40e6d4"/>
<circle cx="285.8" cy="69.8" r="1.2" fill="#40e6d4"/>
<circle cx="286.9" cy="71.5" r="1.2" fill="#40e6d4"/>
<circle cx="289.9" cy="70.9" r="1.2" fill="#40e6d4"/>
<circle cx="290.9" cy="70.2" r="1.2" fill="#40e6d4"/>
<circle cx="292.5" cy="70.8" r="1.2" fill="#40e6d4"/>
<circle cx="294.0" cy="71.1" r="1.2" fill="#40e6d4"/>
<circle cx="256.2" cy="72.0" r="1.2" fill="#40e6d4"/>
<circle cx="256.8" cy="73.3" r="1.2" fill="#40e6d4"/>
<circle cx="257.9" cy="71.2" r="1.2" fill="#40e6d4"/>
<circle cx="260.9" cy="71.8" r="1.2" fill="#40e6d4"/>
<circle cx="262.2" cy="72.0" r="1.2" fill="#40e6d4"/>
<circle cx="264.2" cy="72.6" r="1.2" fill="#40e6d4"/>
<circle cx="266.7" cy="71.7" r="1.2" fill="#40e6d4"/>
<circle cx="267.0" cy="72.6" r="1.2" fill="#40e6d4"/>
<circle cx="269.5" cy="72.1" r="1.2" fill="#40e6d4"/>
<circle cx="270.3" cy="73.3" r="1.2" fill="#40e6d4"/>
<circle cx="272.5" cy="73.0" r="1.2" fill="#40e6d4"/>
<circle cx="275.2" cy="72.1" r="1.2" fill="#40e6d4"/>
<circle cx="276.5" cy="71.8" r="1.2" fill="#40e6d4"/>
<circle cx="279.2" cy="73.2" r="1.2" fill="#40e6d4"/>
<circle cx="280.5" cy="72.6" r="1.2" fill="#40e6d4"/>
<circle cx="280.8" cy="72.4" r="1.2" fill="#40e6d4"/>
<circle cx="283.9" cy="72.4" r="1.2" fill="#40e6d4"/>
<circle cx="285.7" cy="73.2" r="1.2" fill="#40e6d4"/>
<circle cx="287.9" cy="72.1" r="1.2" fill="#40e6d4"/>
<circle cx="288.5" cy="71.9" r="1.2" fill="#40e6d4"/>
<circle cx="290.4" cy="73.2" r="1.2" fill="#40e6d4"/>
<circle cx="291.9" cy="71.2" r="1.2" fill="#40e6d4"/>
<circle cx="294.3" cy="71.3" r="1.2" fill="#40e6d4"/>
<circle cx="253.7" cy="74.7" r="1.2" fill="#40e6d4"/>
<circle cx="257.2" cy="74.4" r="1.2" fill="#40e6d4"/>
<circle cx="258.4" cy="73.0" r="1.2" fill="#40e6d4"/>
<circle cx="259.4" cy="73.4" r="1.2" fill="#40e6d4"/>
<circle cx="260.6" cy="74.4" r="1.2" fill="#40e6d4"/>
<circle cx="262.2" cy="73.8" r="1.2" fill="#40e6d4"/>
<circle cx="265.1" cy="73.1" r="1.2" fill="#40e6d4"/>
<circle cx="266.4" cy="73.8" r="1.2" fill="#40e6d4"/>
<circle cx="269.3" cy="72.7" r="1.2" fill="#40e6d4"/>
<circle cx="269.7" cy="74.3" r="1.2" fill="#40e6d4"/>
<circle cx="272.8" cy="73.4" r="1.2" fill="#40e6d4"/>
<circle cx="273.7" cy="72.9" r="1.2" fill="#40e6d4"/>
<circle cx="275.5" cy="73.9" r="1.2" fill="#40e6d4"/>
<circle cx="276.6" cy="73.8" r="1.2" fill="#40e6d4"/>
<circle cx="279.0" cy="74.1" r="1.2" fill="#40e6d4"/>
<circle cx="279.7" cy="72.9" r="1.2" fill="#40e6d4"/>
<circle cx="282.9" cy="73.0" r="1.2" fill="#40e6d4"/>
<circle cx="283.8" cy="74.7" r="1.2" fill="#40e6d4"/>
<circle cx="286.4" cy="72.9" r="1.2" fill="#40e6d4"/>
<circle cx="287.2" cy="74.1" r="1.2" fill="#40e6d4"/>
<circle cx="290.3" cy="74.4" r="1.2" fill="#40e6d4"/>
<circle cx="292.3" cy="74.7" r="1.2" fill="#40e6d4"/>
<circle cx="292.1" cy="73.6" r="1.2" fill="#40e6d4"/>
<circle cx="253.6" cy="75.6" r="1.2" fill="#40e6d4"/>
<circle cx="255.3" cy="75.6" r="1.2" fill="#40e6d4"/>
<circle cx="257.6" cy="75.1" r="1.2" fill="#40e6d4"/>
<circle cx="259.7" cy="74.3" r="1.2" fill="#40e6d4"/>
<circle cx="260.0" cy="75.5" r="1.2" fill="#40e6d4"/>
<circle cx="261.5" cy="75.3" r="1.2" fill="#40e6d4"/>
<circle cx="264.5" cy="74.4" r="1.2" fill="#40e6d4"/>
<circle cx="265.4" cy="75.1" r="1.2" fill="#40e6d4"/>
<circle cx="268.3" cy="75.5" r="1.2" fill="#40e6d4"/>
<circle cx="269.4" cy="74.5" r="1.2" fill="#40e6d4"/>
<circle cx="270.2" cy="74.4" r="1.2" fill="#40e6d4"/>
<circle cx="271.8" cy="75.1" r="1.2" fill="#40e6d4"/>
<circle cx="275.2" cy="76.3" r="1.2" fill="#40e6d4"/>
<circle cx="276.1" cy="76.3" r="1.2" fill="#40e6d4"/>
<circle cx="277.7" cy="76.3" r="1.2" fill="#40e6d4"/>
<circle cx="279.6" cy="75.7" r="1.2" fill="#40e6d4"/>
<circle cx="281.3" cy="74.2" r="1.2" fill="#40e6d4"/>
<circle cx="283.8" cy="76.3" r="1.2" fill="#40e6d4"/>
<circle cx="284.9" cy="75.0" r="1.2" fill="#40e6d4"/>
<circle cx="285.9" cy="76.2" r="1.2" fill="#40e6d4"/>
<circle cx="287.6" cy="74.3" r="1.2" fill="#40e6d4"/>
<circle cx="289.6" cy="75.9" r="1.2" fill="#40e6d4"/>
<circle cx="293.3" cy="74.7" r="1.2" fill="#40e6d4"/>
<circle cx="251.9" cy="77.3" r="1.2" fill="#40e6d4"/>
<circle cx="252.2" cy="76.4" r="1.2" fill="#40e6d4"/>
<circle cx="254.8" cy="77.4" r="1.2" fill="#40e6d4"/>
<circle cx="255.4" cy="76.2" r="1.2" fill="#40e6d4"/>
<circle cx="258.9" cy="76.7" r="1.2" fill="#40e6d4"/>
<circle cx="260.4" cy="76.7" r="1.2" fill="#40e6d4"/>
<circle cx="262.8" cy="77.8" r="1.2" fill="#40e6d4"/>
<circle cx="265.8" cy="77.1" r="1.2" fill="#40e6d4"/>
<circle cx="267.5" cy="75.9" r="1.2" fill="#40e6d4"/>
<circle cx="268.5" cy="77.5" r="1.2" fill="#40e6d4"/>
<circle cx="270.8" cy="76.0" r="1.2" fill="#40e6d4"/>
<circle cx="271.9" cy="77.3" r="1.2" fill="#40e6d4"/>
<circle cx="274.5" cy="77.2" r="1.2" fill="#40e6d4"/>
<circle cx="275.5" cy="76.6" r="1.2" fill="#40e6d4"/>
<circle cx="276.8" cy="76.1" r="1.2" fill="#40e6d4"/>
<circle cx="278.5" cy="77.5" r="1.2" fill="#40e6d4"/>
<circle cx="280.2" cy="76.6" r="1.2" fill="#40e6d4"/>
<circle cx="283.5" cy="76.2" r="1.2" fill="#40e6d4"/>
<circle cx="283.3" cy="77.9" r="1.2" fill="#40e6d4"/>
<circle cx="287.0" cy="75.8" r="1.2" fill="#40e6d4"/>
<circle cx="288.6" cy="77.5" r="1.2" fill="#40e6d4"/>
<circle cx="288.8" cy="76.3" r="1.2" fill="#40e6d4"/>
<circle cx="252.6" cy="77.5" r="1.2" fill="#40e6d4"/>
<circle cx="253.4" cy="78.3" r="1.2" fill="#40e6d4"/>
<circle cx="255.9" cy="78.9" r="1.2" fill="#40e6d4"/>
<circle cx="257.8" cy="79.0" r="1.2" fill="#40e6d4"/>
<circle cx="258.3" cy="78.8" r="1.2" fill="#40e6d4"/>
<circle cx="260.7" cy="79.2" r="1.2" fill="#40e6d4"/>
<circle cx="261.9" cy="79.0" r="1.2" fill="#40e6d4"/>
<circle cx="263.5" cy="78.5" r="1.2" fill="#40e6d4"/>
<circle cx="266.4" cy="78.1" r="1.2" fill="#40e6d4"/>
<circle cx="268.2" cy="78.7" r="1.2" fill="#40e6d4"/>
<circle cx="269.8" cy="77.8" r="1.2" fill="#40e6d4"/>
<circle cx="270.5" cy="78.0" r="1.2" fill="#40e6d4"/>
<circle cx="272.0" cy="77.9" r="1.2" fill="#40e6d4"/>
<circle cx="274.3" cy="78.4" r="1.2" fill="#40e6d4"/>
<circle cx="277.1" cy="77.9" r="1.2" fill="#40e6d4"/>
<circle cx="277.3" cy="79.1" r="1.2" fill="#40e6d4"/>
<circle cx="280.4" cy="79.2" r="1.2" fill="#40e6d4"/>
<circle cx="280.9" cy="77.5" r="1.2" fill="#40e6d4"/>
<circle cx="283.9" cy="77.5" r="1.2" fill="#40e6d4"/>
<circle cx="284.2" cy="77.7" r="1.2" fill="#40e6d4"/>
<circle cx="288.2" cy="77.8" r="1.2" fill="#40e6d4"/>
<circle cx="289.7" cy="77.4" r="1.2" fill="#40e6d4"/>
<circle cx="253.8" cy="80.4" r="1.2" fill="#40e6d4"/>
<circle cx="254.2" cy="79.7" r="1.2" fill="#40e6d4"/>
<circle cx="255.8" cy="79.1" r="1.2" fill="#40e6d4"/>
<circle cx="259.5" cy="80.3" r="1.2" fill="#40e6d4"/>
<circle cx="260.7" cy="78.8" r="1.2" fill="#40e6d4"/>
<circle cx="263.9" cy="79.9" r="1.2" fill="#40e6d4"/>
<circle cx="265.0" cy="79.9" r="1.2" fill="#40e6d4"/>
<circle cx="266.6" cy="80.8" r="1.2" fill="#40e6d4"/>
<circle cx="269.5" cy="80.3" r="1.2" fill="#40e6d4"/>
<circle cx="271.1" cy="80.3" r="1.2" fill="#40e6d4"/>
<circle cx="271.3" cy="80.2" r="1.2" fill="#40e6d4"/>
<circle cx="273.7" cy="79.1" r="1.2" fill="#40e6d4"/>
<circle cx="276.5" cy="80.1" r="1.2" fill="#40e6d4"/>
<circle cx="277.5" cy="80.2" r="1.2" fill="#40e6d4"/>
<circle cx="278.5" cy="79.3" r="1.2" fill="#40e6d4"/>
<circle cx="282.5" cy="79.4" r="1.2" fill="#40e6d4"/>
<circle cx="251.6" cy="81.8" r="1.2" fill="#40e6d4"/>
<circle cx="253.0" cy="80.5" r="1.2" fill="#40e6d4"/>
<circle cx="255.4" cy="81.5" r="1.2" fill="#40e6d4"/>
<circle cx="257.7" cy="81.2" r="1.2" fill="#40e6d4"/>
<circle cx="259.8" cy="80.5" r="1.2" fill="#40e6d4"/>
<circle cx="260.5" cy="81.5" r="1.2" fill="#40e6d4"/>
<circle cx="263.3" cy="81.0" r="1.2" fill="#40e6d4"/>
<circle cx="263.2" cy="82.2" r="1.2" fill="#40e6d4"/>
<circle cx="264.9" cy="80.6" r="1.2" fill="#40e6d4"/>
<circle cx="266.6" cy="81.4" r="1.2" fill="#40e6d4"/>
<circle cx="270.7" cy="81.0" r="1.2" fill="#40e6d4"/>
<circle cx="253.1" cy="82.4" r="1.2" fill="#40e6d4"/>
<circle cx="254.5" cy="82.4" r="1.2" fill="#40e6d4"/>
<circle cx="255.7" cy="82.4" r="1.2" fill="#40e6d4"/>
<circle cx="257.4" cy="82.3" r="1.2" fill="#40e6d4"/>
<circle cx="259.6" cy="82.8" r="1.2" fill="#40e6d4"/>
<circle cx="261.6" cy="83.3" r="1.2" fill="#40e6d4"/>
<circle cx="264.2" cy="82.4" r="1.2" fill="#40e6d4"/>
<circle cx="255.2" cy="84.0" r="1.2" fill="#40e6d4"/>
<circle cx="256.7" cy="84.6" r="1.2" fill="#40e6d4"/>
<circle cx="310.3" cy="51.6" r="1.2" fill="#ffc800"/>
<circle cx="312.7" cy="51.7" r="1.2" fill="#ffc800"/>
<circle cx="308.6" cy="53.2" r="1.2" fill="#ffc800"/>
<circle cx="310.5" cy="51.5" r="1.2" fill="#ffc800"/>
<circle cx="310.5" cy="53.0" r="1.2" fill="#ffc800"/>
<circle cx="312.3" cy="53.2" r="1.2" fill="#ffc800"/>
<circle cx="300.7" cy="54.7" r="1.2" fill="#ffc800"/>
<circle cx="301.1" cy="55.0" r="1.2" fill="#ffc800"/>
<circle cx="306.3" cy="54.5" r="1.2" fill="#ffc800"/>
<circle cx="307.4" cy="53.2" r="1.2" fill="#ffc800"/>
<circle cx="308.0" cy="53.6" r="1.2" fill="#ffc800"/>
<circle cx="310.6" cy="53.1" r="1.2" fill="#ffc800"/>
<circle cx="312.8" cy="53.5" r="1.2" fill="#ffc800"/>
<circle cx="298.6" cy="56.0" r="1.2" fill="#ffc800"/>
<circle cx="300.4" cy="54.5" r="1.2" fill="#ffc800"/>
<circle cx="301.9" cy="54.8" r="1.2" fill="#ffc800"/>
<circle cx="302.2" cy="56.3" r="1.2" fill="#ffc800"/>
<circle cx="305.2" cy="54.9" r="1.2" fill="#ffc800"/>
<circle cx="306.8" cy="55.1" r="1.2" fill="#ffc800"/>
<circle cx="307.1" cy="55.7" r="1.2" fill="#ffc800"/>
<circle cx="309.0" cy="55.1" r="1.2" fill="#ffc800"/>
<circle cx="310.6" cy="55.6" r="1.2" fill="#ffc800"/>
<circle cx="289.3" cy="57.7" r="1.2" fill="#ffc800"/>
<circle cx="292.7" cy="57.4" r="1.2" fill="#ffc800"/>
<circle cx="293.5" cy="57.2" r="1.2" fill="#ffc800"/>
<circle cx="294.6" cy="57.0" r="1.2" fill="#ffc800"/>
<circle cx="296.3" cy="56.3" r="1.2" fill="#ffc800"/>
<circle cx="299.5" cy="56.8" r="1.2" fill="#ffc800"/>
<circle cx="299.6" cy="56.5" r="1.2" fill="#ffc800"/>
<circle cx="302.8" cy="57.0" r="1.2" fill="#ffc800"/>
<circle cx="304.0" cy="56.3" r="1.2" fill="#ffc800"/>
<circle cx="305.3" cy="56.0" r="1.2" fill="#ffc800"/>
<circle cx="307.2" cy="57.1" r="1.2" fill="#ffc800"/>
<circle cx="307.9" cy="57.1" r="1.2" fill="#ffc800"/>
<circle cx="289.0" cy="58.9" r="1.2" fill="#ffc800"/>
<circle cx="290.7" cy="59.3" r="1.2" fill="#ffc800"/>
<circle cx="292.8" cy="58.0" r="1.2" fill="#ffc800"/>
<circle cx="294.7" cy="57.5" r="1.2" fill="#ffc800"/>
<circle cx="295.5" cy="57.8" r="1.2" fill="#ffc800"/>
<circle cx="297.5" cy="57.5" r="1.2" fill="#ffc800"/>
<circle cx="300.0" cy="58.2" r="1.2" fill="#ffc800"/>
<circle cx="301.4" cy="57.4" r="1.2" fill="#ffc800"/>
<circle cx="303.1" cy="57.9" r="1.2" fill="#ffc800"/>
<circle cx="305.6" cy="58.0" r="1.2" fill="#ffc800"/>
<circle cx="307.4" cy="57.4" r="1.2" fill="#ffc800"/>
<circle cx="281.0" cy="60.7" r="1.2" fill="#ffc800"/>
<circle cx="283.1" cy="59.9" r="1.2" fill="#ffc800"/>
<circle cx="284.3" cy="59.2" r="1.2" fill="#ffc800"/>
<circle cx="285.7" cy="59.7" r="1.2" fill="#ffc800"/>
<circle cx="287.8" cy="59.6" r="1.2" fill="#ffc800"/>
<circle cx="290.3" cy="59.4" r="1.2" fill="#ffc800"/>
<circle cx="291.8" cy="58.9" r="1.2" fill="#ffc800"/>
<circle cx="294.2" cy="59.9" r="1.2" fill="#ffc800"/>
<circle cx="296.8" cy="60.5" r="1.2" fill="#ffc800"/>
<circle cx="298.7" cy="60.4" r="1.2" fill="#ffc800"/>
<circle cx="300.5" cy="59.9" r="1.2" fill="#ffc800"/>
<circle cx="301.7" cy="59.2" r="1.2" fill="#ffc800"/>
<circle cx="304.0" cy="59.1" r="1.2" fill="#ffc800"/>
<circle cx="279.4" cy="61.7" r="1.2" fill="#ffc800"/>
<circle cx="281.6" cy="61.1" r="1.2" fill="#ffc800"/>
<circle cx="282.4" cy="62.1" r="1.2" fill="#ffc800"/>
<circle cx="283.6" cy="61.1" r="1.2" fill="#ffc800"/>
<circle cx="286.3" cy="60.7" r="1.2" fill="#ffc800"/>
<circle cx="288.5" cy="61.0" r="1.2" fill="#ffc800"/>
<circle cx="289.6" cy="61.6" r="1.2" fill="#ffc800"/>
<circle cx="289.9" cy="62.1" r="1.2" fill="#ffc800"/>
<circle cx="293.3" cy="62.1" r="1.2" fill="#ffc800"/>
<circle cx="294.8" cy="61.8" r="1.2" fill="#ffc800"/>
<circle cx="297.0" cy="62.2" r="1.2" fill="#ffc800"/>
<circle cx="297.4" cy="62.2" r="1.2" fill="#ffc800"/>
<circle cx="298.8" cy="62.1" r="1.2" fill="#ffc800"/>
<circle cx="302.1" cy="61.0" r="1.2" fill="#ffc800"/>
<circle cx="271.5" cy="63.3" r="1.2" fill="#ffc800"/>
<circle cx="274.1" cy="62.9" r="1.2" fill="#ffc800"/>
<circle cx="274.9" cy="62.8" r="1.2" fill="#ffc800"/>
<circle cx="276.1" cy="62.5" r="1.2" fill="#ffc800"/>
<circle cx="278.1" cy="62.9" r="1.2" fill="#ffc800"/>
<circle cx="281.2" cy="63.1" r="1.2" fill="#ffc800"/>
<circle cx="283.2" cy="62.7" r="1.2" fill="#ffc800"/>
<circle cx="286.0" cy="62.0" r="1.2" fill="#ffc800"/>
<circle cx="286.7" cy="62.5" r="1.2" fill="#ffc800"/>
<circle cx="289.3" cy="62.5" r="1.2" fill="#ffc800"/>
<circle cx="289.9" cy="63.2" r="1.2" fill="#ffc800"/>
<circle cx="291.9" cy="62.0" r="1.2" fill="#ffc800"/>
<circle cx="293.8" cy="61.8" r="1.2" fill="#ffc800"/>
<circle cx="294.7" cy="63.3" r="1.2" fill="#ffc800"/>
<circle cx="296.0" cy="62.1" r="1.2" fill="#ffc800"/>
<circle cx="298.9" cy="63.2" r="1.2" fill="#ffc800"/>
<circle cx="266.0" cy="65.1" r="1.2" fill="#ffc800"/>
<circle cx="266.8" cy="65.0" r="1.2" fill="#ffc800"/>
<circle cx="270.3" cy="63.9" r="1.2" fill="#ffc800"/>
<circle cx="272.8" cy="64.4" r="1.2" fill="#ffc800"/>
<circle cx="273.5" cy="64.5" r="1.2" fill="#ffc800"/>
<circle cx="276.1" cy="65.2" r="1.2" fill="#ffc800"/>
<circle cx="277.3" cy="64.5" r="1.2" fill="#ffc800"/>
<circle cx="279.9" cy="63.7" r="1.2" fill="#ffc800"/>
<circle cx="281.1" cy="64.8" r="1.2" fill="#ffc800"/>
<circle cx="281.7" cy="64.7" r="1.2" fill="#ffc800"/>
<circle cx="284.8" cy="63.3" r="1.2" fill="#ffc800"/>
<circle cx="286.5" cy="64.3" r="1.2" fill="#ffc800"/>
<circle cx="288.1" cy="64.7" r="1.2" fill="#ffc800"/>
<circle cx="288.4" cy="63.5" r="1.2" fill="#ffc800"/>
<circle cx="292.4" cy="64.0" r="1.2" fill="#ffc800"/>
<circle cx="294.9" cy="65.3" r="1.2" fill="#ffc800"/>
<circle cx="297.0" cy="64.1" r="1.2" fill="#ffc800"/>
<circle cx="297.2" cy="64.4" r="1.2" fill="#ffc800"/>
<circle cx="263.8" cy="65.6" r="1.2" fill="#ffc800"/>
<circle cx="263.7" cy="66.2" r="1.2" fill="#ffc800"/>
<circle cx="265.8" cy="64.9" r="1.2" fill="#ffc800"/>
<circle cx="268.8" cy="66.4" r="1.2" fill="#ffc800"/>
<circle cx="268.9" cy="65.8" r="1.2" fill="#ffc800"/>
<circle cx="274.0" cy="66.0" r="1.2" fill="#ffc800"/>
<circle cx="275.2" cy="66.0" r="1.2" fill="#ffc800"/>
<circle cx="276.4" cy="64.8" r="1.2" fill="#ffc800"/>
<circle cx="278.6" cy="66.3" r="1.2" fill="#ffc800"/>
<circle cx="279.2" cy="65.3" r="1.2" fill="#ffc800"/>
<circle cx="282.3" cy="65.2" r="1.2" fill="#ffc800"/>
<circle cx="284.9" cy="64.9" r="1.2" fill="#ffc800"/>
<circle cx="286.3" cy="66.4" r="1.2" fill="#ffc800"/>
<circle cx="288.7" cy="66.1" r="1.2" fill="#ffc800"/>
<circle cx="289.2" cy="65.9" r="1.2" fill="#ffc800"/>
<circle cx="291.3" cy="66.7" r="1.2" fill="#ffc800"/>
<circle cx="294.4" cy="65.1" r="1.2" fill="#ffc800"/>
<circle cx="260.9" cy="67.4" r="1.2" fill="#ffc800"/>
<circle cx="261.2" cy="67.3" r="1.2" fill="#ffc800"/>
<circle cx="264.0" cy="67.9" r="1.2" fill="#ffc800"/>
<circle cx="265.3" cy="67.5" r="1.2" fill="#ffc800"/>
<circle cx="268.1" cy="68.0" r="1.2" fill="#ffc800"/>
<circle cx="268.5" cy="66.4" r="1.2" fill="#ffc800"/>
<circle cx="270.0" cy="67.7" r="1.2" fill="#ffc800"/>
<circle cx="273.0" cy="66.4" r="1.2" fill="#ffc800"/>
<circle cx="273.6" cy="66.9" r="1.2" fill="#ffc800"/>
<circle cx="276.3" cy="67.2" r="1.2" fill="#ffc800"/>
<circle cx="276.6" cy="67.4" r="1.2" fill="#ffc800"/>
<circle cx="278.3" cy="66.9" r="1.2" fill="#ffc800"/>
<circle cx="282.2" cy="68.1" r="1.2" fill="#ffc800"/>
<circle cx="284.7" cy="68.1" r="1.2" fill="#ffc800"/>
<circle cx="285.6" cy="67.5" r="1.2" fill="#ffc800"/>
<circle cx="287.0" cy="68.1" r="1.2" fill="#ffc800"/>
<circle cx="289.2" cy="67.2" r="1.2" fill="#ffc800"/>
<circle cx="291.4" cy="66.8" r="1.2" fill="#ffc800"/>
<circle cx="292.5" cy="66.4" r="1.2" fill="#ffc800"/>
<circle cx="257.0" cy="68.4" r="1.2" fill="#ffc800"/>
<circle cx="257.0" cy="69.5" r="1.2" fill="#ffc800"/>
<circle cx="259.1" cy="69.2" r="1.2" fill="#ffc800"/>
<circle cx="261.1" cy="69.5" r="1.2" fill="#ffc800"/>
<circle cx="262.5" cy="68.0" r="1.2" fill="#ffc800"/>
<circle cx="265.1" cy="68.2" r="1.2" fill="#ffc800"/>
<circle cx="266.3" cy="68.9" r="1.2" fill="#ffc800"/>
<circle cx="268.1" cy="68.9" r="1.2" fill="#ffc800"/>
<circle cx="269.4" cy="68.1" r="1.2" fill="#ffc800"/>
<circle cx="272.1" cy="68.2" r="1.2" fill="#ffc800"/>
<circle cx="272.9" cy="68.1" r="1.2" fill="#ffc800"/>
<circle cx="273.9" cy="69.2" r="1.2" fill="#ffc800"/>
<circle cx="276.1" cy="68.8" r="1.2" fill="#ffc800"/>
<circle cx="278.4" cy="68.7" r="1.2" fill="#ffc800"/>
<circle cx="281.3" cy="69.3" r="1.2" fill="#ffc800"/>
<circle cx="283.4" cy="67.8" r="1.2" fill="#ffc800"/>
<circle cx="284.9" cy="67.8" r="1.2" fill="#ffc800"/>
<circle cx="287.4" cy="68.0" r="1.2" fill="#ffc800"/>
<circle cx="287.9" cy="68.8" r="1.2" fill="#ffc800"/>
<circle cx="254.6" cy="69.6" r="1.2" fill="#ffc800"/>
<circle cx="256.0" cy="70.0" r="1.2" fill="#ffc800"/>
<circle cx="259.4" cy="70.3" r="1.2" fill="#ffc800"/>
<circle cx="260.3" cy="69.2" r="1.2" fill="#ffc800"/>
<circle cx="263.0" cy="69.2" r="1.2" fill="#ffc800"/>
<circle cx="266.3" cy="71.0" r="1.2" fill="#ffc800"/>
<circle cx="268.2" cy="71.2" r="1.2" fill="#ffc800"/>
<circle cx="269.6" cy="69.7" r="1.2" fill="#ffc800"/>
<circle cx="272.7" cy="70.1" r="1.2" fill="#ffc800"/>
<circle cx="273.4" cy="70.1" r="1.2" fill="#ffc800"/>
<circle cx="275.6" cy="70.4" r="1.2" fill="#ffc800"/>
<circle cx="277.5" cy="70.1" r="1.2" fill="#ffc800"/>
<circle cx="279.0" cy="70.9" r="1.2" fill="#ffc800"/>
<circle cx="280.9" cy="70.8" r="1.2" fill="#ffc800"/>
<circle cx="281.8" cy="69.8" r="1.2" fill="#ffc800"/>
<circle cx="286.1" cy="69.7" r="1.2" fill="#ffc800"/>
<circle cx="253.0" cy="71.5" r="1.2" fill="#ffc800"/>
<circle cx="254.0" cy="72.7" r="1.2" fill="#ffc800"/>
<circle cx="255.2" cy="71.7" r="1.2" fill="#ffc800"/>
<circle cx="258.5" cy="70.7" r="1.2" fill="#ffc800"/>
<circle cx="259.0" cy="71.6" r="1.2" fill="#ffc800"/>
<circle cx="261.5" cy="71.2" r="1.2" fill="#ffc800"/>
<circle cx="263.4" cy="71.8" r="1.2" fill="#ffc800"/>
<circle cx="264.3" cy="70.7" r="1.2" fill="#ffc800"/>
<circle cx="265.8" cy="71.3" r="1.2" fill="#ffc800"/>
<circle cx="268.7" cy="70.9" r="1.2" fill="#ffc800"/>
<circle cx="268.9" cy="71.6" r="1.2" fill="#ffc800"/>
<circle cx="272.3" cy="72.2" r="1.2" fill="#ffc800"/>
<circle cx="272.3" cy="71.8" r="1.2" fill="#ffc800"/>
<circle cx="274.2" cy="72.2" r="1.2" fill="#ffc800"/>
<circle cx="277.5" cy="72.3" r="1.2" fill="#ffc800"/>
<circle cx="283.3" cy="70.7" r="1.2" fill="#ffc800"/>
<circle cx="256.2" cy="73.4" r="1.2" fill="#ffc800"/>
<circle cx="256.3" cy="72.8" r="1.2" fill="#ffc800"/>
<circle cx="258.3" cy="72.7" r="1.2" fill="#ffc800"/>
<circle cx="261.7" cy="72.3" r="1.2" fill="#ffc800"/>
<circle cx="264.2" cy="73.8" r="1.2" fill="#ffc800"/>
<circle cx="266.1" cy="72.4" r="1.2" fill="#ffc800"/>
<circle cx="267.5" cy="73.3" r="1.2" fill="#ffc800"/>
<circle cx="268.8" cy="73.0" r="1.2" fill="#ffc800"/>
<circle cx="271.9" cy="73.3" r="1.2" fill="#ffc800"/>
<circle cx="276.4" cy="72.5" r="1.2" fill="#ffc800"/>
<circle cx="251.8" cy="75.5" r="1.2" fill="#ffc800"/>
<circle cx="252.4" cy="74.5" r="1.2" fill="#ffc800"/>
<circle cx="255.1" cy="75.3" r="1.2" fill="#ffc800"/>
<circle cx="256.4" cy="74.2" r="1.2" fill="#ffc800"/>
<circle cx="258.8" cy="74.1" r="1.2" fill="#ffc800"/>
<circle cx="262.9" cy="73.9" r="1.2" fill="#ffc800"/>
<circle cx="254.1" cy="76.6" r="1.2" fill="#ffc800"/>
<circle cx="254.7" cy="76.4" r="1.2" fill="#ffc800"/>
<circle cx="257.4" cy="76.6" r="1.2" fill="#ffc800"/>
<circle cx="258.6" cy="75.7" r="1.2" fill="#ffc800"/>
<circle cx="252.3" cy="76.8" r="1.2" fill="#ffc800"/>
<circle cx="254.8" cy="77.3" r="1.2" fill="#ffc800"/>
<circle cx="279.4" cy="58.3" r="1.2" fill="#40e6d4"/>
<circle cx="280.8" cy="57.6" r="1.2" fill="#40e6d4"/>
<circle cx="281.9" cy="57.2" r="1.2" fill="#40e6d4"/>
<circle cx="283.9" cy="57.6" r="1.2" fill="#40e6d4"/>
<circle cx="278.1" cy="60.6" r="1.2" fill="#40e6d4"/>
<circle cx="281.1" cy="59.4" r="1.2" fill="#40e6d4"/>
<circle cx="284.7" cy="60.3" r="1.2" fill="#40e6d4"/>
<circle cx="286.2" cy="60.0" r="1.2" fill="#40e6d4"/>
<circle cx="264.7" cy="62.4" r="1.2" fill="#40e6d4"/>
<circle cx="267.2" cy="62.7" r="1.2" fill="#40e6d4"/>
<circle cx="269.0" cy="61.4" r="1.2" fill="#40e6d4"/>
<circle cx="271.7" cy="61.0" r="1.2" fill="#40e6d4"/>
<circle cx="274.6" cy="61.7" r="1.2" fill="#40e6d4"/>
<circle cx="277.0" cy="60.6" r="1.2" fill="#40e6d4"/>
<circle cx="284.5" cy="61.1" r="1.2" fill="#40e6d4"/>
<circle cx="262.1" cy="64.1" r="1.2" fill="#40e6d4"/>
<circle cx="264.9" cy="63.0" r="1.2" fill="#40e6d4"/>
<circle cx="270.2" cy="62.8" r="1.2" fill="#40e6d4"/>
<circle cx="272.6" cy="63.1" r="1.2" fill="#40e6d4"/>
<circle cx="276.3" cy="63.1" r="1.2" fill="#40e6d4"/>
<circle cx="280.2" cy="62.3" r="1.2" fill="#40e6d4"/>
<circle cx="281.8" cy="62.5" r="1.2" fill="#40e6d4"/>
<circle cx="263.8" cy="64.0" r="1.2" fill="#40e6d4"/>
<circle cx="266.2" cy="65.4" r="1.2" fill="#40e6d4"/>
<circle cx="268.0" cy="65.1" r="1.2" fill="#40e6d4"/>
<circle cx="270.2" cy="64.3" r="1.2" fill="#40e6d4"/>
<circle cx="266.9" cy="65.9" r="1.2" fill="#40e6d4"/>
<circle cx="274.1" cy="56.7" r="1.2" fill="#ffc800"/>
<circle cx="282.6" cy="55.6" r="1.2" fill="#ffc800"/>
<circle cx="290.1" cy="66.4" r="1.2" fill="#40e6d4"/>
<circle cx="277.0" cy="69.2" r="1.2" fill="#40e6d4"/>
<circle cx="271.2" cy="70.0" r="1.2" fill="#40e6d4"/>
<circle cx="284.5" cy="76.9" r="1.2" fill="#2a0c2e"/>
<circle cx="292.2" cy="75.7" r="1.2" fill="#2a0c2e"/>
<circle cx="293.0" cy="76.4" r="1.2" fill="#2a0c2e"/>
<circle cx="295.2" cy="76.8" r="1.2" fill="#2a0c2e"/>
<circle cx="296.6" cy="75.0" r="1.2" fill="#2a0c2e"/>
<circle cx="299.1" cy="76.5" r="1.2" fill="#2a0c2e"/>
<circle cx="281.6" cy="77.9" r="1.2" fill="#2a0c2e"/>
<circle cx="282.0" cy="78.1" r="1.2" fill="#2a0c2e"/>
<circle cx="283.7" cy="76.9" r="1.2" fill="#2a0c2e"/>
<circle cx="286.4" cy="77.4" r="1.2" fill="#2a0c2e"/>
<circle cx="287.9" cy="78.1" r="1.2" fill="#2a0c2e"/>
<circle cx="288.2" cy="77.8" r="1.2" fill="#2a0c2e"/>
<circle cx="291.6" cy="77.6" r="1.2" fill="#2a0c2e"/>
<circle cx="293.0" cy="78.2" r="1.2" fill="#2a0c2e"/>
<circle cx="295.2" cy="78.1" r="1.2" fill="#2a0c2e"/>
<circle cx="296.5" cy="77.2" r="1.2" fill="#2a0c2e"/>
<circle cx="297.8" cy="77.6" r="1.2" fill="#2a0c2e"/>
<circle cx="298.8" cy="76.7" r="1.2" fill="#2a0c2e"/>
<circle cx="270.4" cy="79.1" r="1.2" fill="#2a0c2e"/>
<circle cx="271.5" cy="78.8" r="1.2" fill="#2a0c2e"/>
<circle cx="272.2" cy="79.9" r="1.2" fill="#2a0c2e"/>
<circle cx="275.2" cy="79.8" r="1.2" fill="#2a0c2e"/>
<circle cx="275.6" cy="78.4" r="1.2" fill="#2a0c2e"/>
<circle cx="277.5" cy="78.7" r="1.2" fill="#2a0c2e"/>
<circle cx="280.0" cy="79.4" r="1.2" fill="#2a0c2e"/>
<circle cx="282.4" cy="79.7" r="1.2" fill="#2a0c2e"/>
<circle cx="283.6" cy="79.9" r="1.2" fill="#2a0c2e"/>
<circle cx="285.1" cy="78.7" r="1.2" fill="#2a0c2e"/>
<circle cx="286.2" cy="78.1" r="1.2" fill="#2a0c2e"/>
<circle cx="288.9" cy="78.9" r="1.2" fill="#2a0c2e"/>
<circle cx="290.5" cy="78.6" r="1.2" fill="#2a0c2e"/>
<circle cx="291.2" cy="78.3" r="1.2" fill="#2a0c2e"/>
<circle cx="294.4" cy="79.7" r="1.2" fill="#2a0c2e"/>
<circle cx="296.0" cy="78.0" r="1.2" fill="#2a0c2e"/>
<circle cx="296.8" cy="78.4" r="1.2" fill="#2a0c2e"/>
<circle cx="298.0" cy="79.0" r="1.2" fill="#2a0c2e"/>
<circle cx="300.1" cy="79.8" r="1.2" fill="#2a0c2e"/>
<circle cx="251.3" cy="81.3" r="1.2" fill="#2a0c2e"/>
<circle cx="259.7" cy="79.8" r="1.2" fill="#2a0c2e"/>
<circle cx="262.9" cy="79.9" r="1.2" fill="#2a0c2e"/>
<circle cx="263.2" cy="81.3" r="1.2" fill="#2a0c2e"/>
<circle cx="265.4" cy="81.3" r="1.2" fill="#2a0c2e"/>
<circle cx="267.9" cy="80.5" r="1.2" fill="#2a0c2e"/>
<circle cx="267.9" cy="81.1" r="1.2" fill="#2a0c2e"/>
<circle cx="270.3" cy="81.2" r="1.2" fill="#2a0c2e"/>
<circle cx="271.8" cy="80.9" r="1.2" fill="#2a0c2e"/>
<circle cx="274.2" cy="79.9" r="1.2" fill="#2a0c2e"/>
<circle cx="275.3" cy="79.9" r="1.2" fill="#2a0c2e"/>
<circle cx="277.0" cy="80.2" r="1.2" fill="#2a0c2e"/>
<circle cx="278.3" cy="80.0" r="1.2" fill="#2a0c2e"/>
<circle cx="280.3" cy="81.2" r="1.2" fill="#2a0c2e"/>
<circle cx="282.3" cy="80.0" r="1.2" fill="#2a0c2e"/>
<circle cx="284.9" cy="81.1" r="1.2" fill="#2a0c2e"/>
<circle cx="285.2" cy="79.5" r="1.2" fill="#2a0c2e"/>
<circle cx="287.0" cy="80.2" r="1.2" fill="#2a0c2e"/>
<circle cx="288.8" cy="80.9" r="1.2" fill="#2a0c2e"/>
<circle cx="290.7" cy="79.5" r="1.2" fill="#2a0c2e"/>
<circle cx="292.2" cy="81.1" r="1.2" fill="#2a0c2e"/>
<circle cx="293.5" cy="80.0" r="1.2" fill="#2a0c2e"/>
<circle cx="296.4" cy="80.3" r="1.2" fill="#2a0c2e"/>
<circle cx="297.0" cy="80.1" r="1.2" fill="#2a0c2e"/>
<circle cx="251.7" cy="81.3" r="1.2" fill="#2a0c2e"/>
<circle cx="252.1" cy="82.2" r="1.2" fill="#2a0c2e"/>
<circle cx="253.5" cy="81.7" r="1.2" fill="#2a0c2e"/>
<circle cx="256.5" cy="82.4" r="1.2" fill="#2a0c2e"/>
<circle cx="258.2" cy="81.8" r="1.2" fill="#2a0c2e"/>
<circle cx="258.8" cy="82.6" r="1.2" fill="#2a0c2e"/>
<circle cx="261.4" cy="81.2" r="1.2" fill="#2a0c2e"/>
<circle cx="262.6" cy="82.7" r="1.2" fill="#2a0c2e"/>
<circle cx="264.4" cy="81.6" r="1.2" fill="#2a0c2e"/>
<circle cx="266.7" cy="80.9" r="1.2" fill="#2a0c2e"/>
<circle cx="267.1" cy="81.9" r="1.2" fill="#2a0c2e"/>
<circle cx="270.2" cy="82.4" r="1.2" fill="#2a0c2e"/>
<circle cx="272.4" cy="80.9" r="1.2" fill="#2a0c2e"/>
<circle cx="273.3" cy="82.2" r="1.2" fill="#2a0c2e"/>
<circle cx="275.1" cy="81.8" r="1.2" fill="#2a0c2e"/>
<circle cx="276.1" cy="81.8" r="1.2" fill="#2a0c2e"/>
<circle cx="278.6" cy="81.2" r="1.2" fill="#2a0c2e"/>
<circle cx="280.7" cy="82.5" r="1.2" fill="#2a0c2e"/>
<circle cx="280.9" cy="82.5" r="1.2" fill="#2a0c2e"/>
<circle cx="282.7" cy="81.4" r="1.2" fill="#2a0c2e"/>
<circle cx="285.9" cy="81.3" r="1.2" fill="#2a0c2e"/>
<circle cx="286.2" cy="82.4" r="1.2" fill="#2a0c2e"/>
<circle cx="289.2" cy="81.5" r="1.2" fill="#2a0c2e"/>
<circle cx="290.7" cy="82.4" r="1.2" fill="#2a0c2e"/>
<circle cx="292.5" cy="81.8" r="1.2" fill="#2a0c2e"/>
<circle cx="294.0" cy="81.9" r="1.2" fill="#2a0c2e"/>
<circle cx="295.4" cy="81.8" r="1.2" fill="#2a0c2e"/>
<circle cx="297.6" cy="82.5" r="1.2" fill="#2a0c2e"/>
<circle cx="249.1" cy="82.9" r="1.2" fill="#2a0c2e"/>
<circle cx="250.4" cy="83.6" r="1.2" fill="#2a0c2e"/>
<circle cx="251.2" cy="84.0" r="1.2" fill="#2a0c2e"/>
<circle cx="253.1" cy="83.4" r="1.2" fill="#2a0c2e"/>
<circle cx="255.6" cy="83.9" r="1.2" fill="#2a0c2e"/>
<circle cx="256.5" cy="83.8" r="1.2" fill="#2a0c2e"/>
<circle cx="259.3" cy="83.3" r="1.2" fill="#2a0c2e"/>
<circle cx="260.4" cy="83.5" r="1.2" fill="#2a0c2e"/>
<circle cx="261.4" cy="83.2" r="1.2" fill="#2a0c2e"/>
<circle cx="264.3" cy="83.5" r="1.2" fill="#2a0c2e"/>
<circle cx="266.4" cy="82.5" r="1.2" fill="#2a0c2e"/>
<circle cx="266.8" cy="84.4" r="1.2" fill="#2a0c2e"/>
<circle cx="268.6" cy="84.0" r="1.2" fill="#2a0c2e"/>
<circle cx="271.1" cy="82.5" r="1.2" fill="#2a0c2e"/>
<circle cx="273.1" cy="83.6" r="1.2" fill="#2a0c2e"/>
<circle cx="273.3" cy="84.0" r="1.2" fill="#2a0c2e"/>
<circle cx="276.5" cy="83.2" r="1.2" fill="#2a0c2e"/>
<circle cx="277.8" cy="83.9" r="1.2" fill="#2a0c2e"/>
<circle cx="278.0" cy="83.1" r="1.2" fill="#2a0c2e"/>
<circle cx="281.5" cy="82.5" r="1.2" fill="#2a0c2e"/>
<circle cx="282.1" cy="83.6" r="1.2" fill="#2a0c2e"/>
<circle cx="283.7" cy="83.3" r="1.2" fill="#2a0c2e"/>
<circle cx="284.9" cy="83.0" r="1.2" fill="#2a0c2e"/>
<circle cx="287.0" cy="83.1" r="1.2" fill="#2a0c2e"/>
<circle cx="288.9" cy="83.7" r="1.2" fill="#2a0c2e"/>
<circle cx="291.8" cy="82.5" r="1.2" fill="#2a0c2e"/>
<circle cx="293.1" cy="83.7" r="1.2" fill="#2a0c2e"/>
<circle cx="249.3" cy="84.6" r="1.2" fill="#2a0c2e"/>
<circle cx="250.4" cy="84.3" r="1.2" fill="#2a0c2e"/>
<circle cx="251.9" cy="84.3" r="1.2" fill="#2a0c2e"/>
<circle cx="254.7" cy="84.2" r="1.2" fill="#2a0c2e"/>
<circle cx="256.8" cy="84.9" r="1.2" fill="#2a0c2e"/>
<circle cx="257.4" cy="84.9" r="1.2" fill="#2a0c2e"/>
<circle cx="259.2" cy="84.1" r="1.2" fill="#2a0c2e"/>
<circle cx="261.6" cy="84.8" r="1.2" fill="#2a0c2e"/>
<circle cx="262.3" cy="85.3" r="1.2" fill="#2a0c2e"/>
<circle cx="264.1" cy="85.3" r="1.2" fill="#2a0c2e"/>
<circle cx="265.7" cy="84.7" r="1.2" fill="#2a0c2e"/>
<circle cx="267.1" cy="85.8" r="1.2" fill="#2a0c2e"/>
<circle cx="269.4" cy="84.1" r="1.2" fill="#2a0c2e"/>
<circle cx="270.7" cy="84.0" r="1.2" fill="#2a0c2e"/>
<circle cx="273.3" cy="85.6" r="1.2" fill="#2a0c2e"/>
<circle cx="275.4" cy="85.4" r="1.2" fill="#2a0c2e"/>
<circle cx="275.8" cy="84.2" r="1.2" fill="#2a0c2e"/>
<circle cx="278.7" cy="84.0" r="1.2" fill="#2a0c2e"/>
<circle cx="279.2" cy="85.1" r="1.2" fill="#2a0c2e"/>
<circle cx="282.5" cy="85.5" r="1.2" fill="#2a0c2e"/>
<circle cx="282.8" cy="84.9" r="1.2" fill="#2a0c2e"/>
<circle cx="285.6" cy="84.2" r="1.2" fill="#2a0c2e"/>
<circle cx="286.8" cy="84.6" r="1.2" fill="#2a0c2e"/>
<circle cx="288.0" cy="85.4" r="1.2" fill="#2a0c2e"/>
<circle cx="246.9" cy="86.6" r="1.2" fill="#2a0c2e"/>
<circle cx="247.7" cy="85.5" r="1.2" fill="#2a0c2e"/>
<circle cx="250.2" cy="85.4" r="1.2" fill="#2a0c2e"/>
<circle cx="251.8" cy="86.1" r="1.2" fill="#2a0c2e"/>
<circle cx="252.8" cy="86.4" r="1.2" fill="#2a0c2e"/>
<circle cx="254.6" cy="87.2" r="1.2" fill="#2a0c2e"/>
<circle cx="257.8" cy="85.8" r="1.2" fill="#2a0c2e"/>
<circle cx="259.0" cy="87.2" r="1.2" fill="#2a0c2e"/>
<circle cx="259.9" cy="87.0" r="1.2" fill="#2a0c2e"/>
<circle cx="262.2" cy="86.8" r="1.2" fill="#2a0c2e"/>
<circle cx="264.4" cy="86.4" r="1.2" fill="#2a0c2e"/>
<circle cx="264.4" cy="86.3" r="1.2" fill="#2a0c2e"/>
<circle cx="267.1" cy="86.7" r="1.2" fill="#2a0c2e"/>
<circle cx="269.7" cy="85.5" r="1.2" fill="#2a0c2e"/>
<circle cx="271.6" cy="85.9" r="1.2" fill="#2a0c2e"/>
<circle cx="274.1" cy="86.8" r="1.2" fill="#2a0c2e"/>
<circle cx="276.3" cy="86.2" r="1.2" fill="#2a0c2e"/>
<circle cx="277.0" cy="86.2" r="1.2" fill="#2a0c2e"/>
<circle cx="278.1" cy="87.3" r="1.2" fill="#2a0c2e"/>
<circle cx="280.4" cy="87.3" r="1.2" fill="#2a0c2e"/>
<circle cx="281.6" cy="87.1" r="1.2" fill="#2a0c2e"/>
<circle cx="284.4" cy="85.9" r="1.2" fill="#2a0c2e"/>
<circle cx="248.2" cy="88.2" r="1.2" fill="#2a0c2e"/>
<circle cx="249.0" cy="88.7" r="1.2" fill="#2a0c2e"/>
<circle cx="250.9" cy="87.0" r="1.2" fill="#2a0c2e"/>
<circle cx="253.0" cy="87.8" r="1.2" fill="#2a0c2e"/>
<circle cx="253.4" cy="88.1" r="1.2" fill="#2a0c2e"/>
<circle cx="256.6" cy="88.1" r="1.2" fill="#2a0c2e"/>
<circle cx="258.1" cy="88.3" r="1.2" fill="#2a0c2e"/>
<circle cx="260.3" cy="88.0" r="1.2" fill="#2a0c2e"/>
<circle cx="260.9" cy="88.5" r="1.2" fill="#2a0c2e"/>
<circle cx="263.0" cy="88.0" r="1.2" fill="#2a0c2e"/>
<circle cx="265.5" cy="87.2" r="1.2" fill="#2a0c2e"/>
<circle cx="265.8" cy="87.7" r="1.2" fill="#2a0c2e"/>
<circle cx="268.6" cy="87.5" r="1.2" fill="#2a0c2e"/>
<circle cx="269.7" cy="87.8" r="1.2" fill="#2a0c2e"/>
<circle cx="270.9" cy="86.8" r="1.2" fill="#2a0c2e"/>
<circle cx="272.7" cy="88.7" r="1.2" fill="#2a0c2e"/>
<circle cx="274.0" cy="87.2" r="1.2" fill="#2a0c2e"/>
<circle cx="275.8" cy="87.0" r="1.2" fill="#2a0c2e"/>
<circle cx="278.1" cy="87.1" r="1.2" fill="#2a0c2e"/>
<circle cx="247.5" cy="88.9" r="1.2" fill="#2a0c2e"/>
<circle cx="248.0" cy="90.3" r="1.2" fill="#2a0c2e"/>
<circle cx="249.4" cy="89.7" r="1.2" fill="#2a0c2e"/>
<circle cx="251.7" cy="90.0" r="1.2" fill="#2a0c2e"/>
<circle cx="252.9" cy="89.5" r="1.2" fill="#2a0c2e"/>
<circle cx="255.1" cy="88.7" r="1.2" fill="#2a0c2e"/>
<circle cx="257.2" cy="88.4" r="1.2" fill="#2a0c2e"/>
<circle cx="259.5" cy="88.9" r="1.2" fill="#2a0c2e"/>
<circle cx="259.9" cy="90.1" r="1.2" fill="#2a0c2e"/>
<circle cx="262.4" cy="89.1" r="1.2" fill="#2a0c2e"/>
<circle cx="263.1" cy="90.1" r="1.2" fill="#2a0c2e"/>
<circle cx="265.8" cy="90.1" r="1.2" fill="#2a0c2e"/>
<circle cx="270.8" cy="89.1" r="1.2" fill="#2a0c2e"/>
<circle cx="271.7" cy="89.1" r="1.2" fill="#2a0c2e"/>
<circle cx="246.5" cy="90.9" r="1.2" fill="#2a0c2e"/>
<circle cx="248.5" cy="90.7" r="1.2" fill="#2a0c2e"/>
<circle cx="250.2" cy="91.7" r="1.2" fill="#2a0c2e"/>
<circle cx="252.0" cy="91.6" r="1.2" fill="#2a0c2e"/>
<circle cx="254.8" cy="91.7" r="1.2" fill="#2a0c2e"/>
<circle cx="256.9" cy="91.2" r="1.2" fill="#2a0c2e"/>
<circle cx="258.6" cy="91.6" r="1.2" fill="#2a0c2e"/>
<circle cx="258.8" cy="90.5" r="1.2" fill="#2a0c2e"/>
<circle cx="262.1" cy="90.7" r="1.2" fill="#2a0c2e"/>
<circle cx="265.8" cy="89.8" r="1.2" fill="#2a0c2e"/>
<circle cx="245.7" cy="91.3" r="1.2" fill="#2a0c2e"/>
<circle cx="249.1" cy="92.8" r="1.2" fill="#2a0c2e"/>
<circle cx="250.3" cy="91.5" r="1.2" fill="#2a0c2e"/>
<circle cx="251.9" cy="92.6" r="1.2" fill="#2a0c2e"/>
<circle cx="254.4" cy="92.7" r="1.2" fill="#2a0c2e"/>
<circle cx="257.9" cy="91.7" r="1.2" fill="#2a0c2e"/>
<circle cx="259.5" cy="92.5" r="1.2" fill="#2a0c2e"/>
<circle cx="262.6" cy="91.4" r="1.2" fill="#2a0c2e"/>
<circle cx="248.2" cy="93.0" r="1.2" fill="#2a0c2e"/>
<circle cx="250.1" cy="93.5" r="1.2" fill="#2a0c2e"/>
<circle cx="251.5" cy="93.5" r="1.2" fill="#2a0c2e"/>
<circle cx="253.0" cy="92.8" r="1.2" fill="#2a0c2e"/>
<circle cx="255.8" cy="66.7" r="1.2" fill="#6a2a5c"/>
<circle cx="256.9" cy="66.4" r="1.2" fill="#6a2a5c"/>
<circle cx="258.5" cy="66.5" r="1.2" fill="#6a2a5c"/>
<circle cx="252.9" cy="68.4" r="1.2" fill="#6a2a5c"/>
<circle cx="254.8" cy="68.3" r="1.2" fill="#6a2a5c"/>
<circle cx="256.3" cy="67.7" r="1.2" fill="#6a2a5c"/>
<circle cx="250.9" cy="69.8" r="1.2" fill="#6a2a5c"/>
<circle cx="252.0" cy="69.6" r="1.2" fill="#6a2a5c"/>
<circle cx="254.0" cy="69.5" r="1.2" fill="#6a2a5c"/>
<circle cx="255.1" cy="69.2" r="1.2" fill="#6a2a5c"/>
<circle cx="257.3" cy="69.2" r="1.2" fill="#6a2a5c"/>
<circle cx="247.6" cy="71.4" r="1.2" fill="#6a2a5c"/>
<circle cx="249.4" cy="70.9" r="1.2" fill="#6a2a5c"/>
<circle cx="251.6" cy="70.7" r="1.2" fill="#6a2a5c"/>
<circle cx="252.7" cy="70.9" r="1.2" fill="#6a2a5c"/>
<circle cx="254.8" cy="71.3" r="1.2" fill="#6a2a5c"/>
<circle cx="245.8" cy="72.5" r="1.2" fill="#6a2a5c"/>
<circle cx="247.4" cy="72.9" r="1.2" fill="#6a2a5c"/>
<circle cx="248.7" cy="72.5" r="1.2" fill="#6a2a5c"/>
<circle cx="250.0" cy="72.5" r="1.2" fill="#6a2a5c"/>
<circle cx="252.2" cy="72.1" r="1.2" fill="#6a2a5c"/>
<circle cx="254.3" cy="72.3" r="1.2" fill="#6a2a5c"/>
<circle cx="242.9" cy="73.9" r="1.2" fill="#6a2a5c"/>
<circle cx="244.7" cy="73.4" r="1.2" fill="#6a2a5c"/>
<circle cx="246.6" cy="73.6" r="1.2" fill="#6a2a5c"/>
<circle cx="248.2" cy="73.5" r="1.2" fill="#6a2a5c"/>
<circle cx="249.4" cy="74.3" r="1.2" fill="#6a2a5c"/>
<circle cx="251.3" cy="73.5" r="1.2" fill="#6a2a5c"/>
<circle cx="242.1" cy="75.6" r="1.2" fill="#6a2a5c"/>
<circle cx="243.9" cy="75.8" r="1.2" fill="#6a2a5c"/>
<circle cx="245.2" cy="75.3" r="1.2" fill="#6a2a5c"/>
<circle cx="247.1" cy="75.1" r="1.2" fill="#6a2a5c"/>
<circle cx="248.9" cy="74.9" r="1.2" fill="#6a2a5c"/>
<circle cx="250.0" cy="75.3" r="1.2" fill="#6a2a5c"/>
<circle cx="239.3" cy="77.2" r="1.2" fill="#6a2a5c"/>
<circle cx="241.2" cy="76.9" r="1.2" fill="#6a2a5c"/>
<circle cx="242.7" cy="77.2" r="1.2" fill="#6a2a5c"/>
<circle cx="245.0" cy="76.3" r="1.2" fill="#6a2a5c"/>
<circle cx="246.2" cy="77.2" r="1.2" fill="#6a2a5c"/>
<circle cx="247.5" cy="77.1" r="1.2" fill="#6a2a5c"/>
<circle cx="249.4" cy="77.2" r="1.2" fill="#6a2a5c"/>
<circle cx="238.5" cy="78.1" r="1.2" fill="#6a2a5c"/>
<circle cx="240.7" cy="77.9" r="1.2" fill="#6a2a5c"/>
<circle cx="242.4" cy="78.5" r="1.2" fill="#6a2a5c"/>
<circle cx="243.4" cy="78.7" r="1.2" fill="#6a2a5c"/>
<circle cx="245.5" cy="78.3" r="1.2" fill="#6a2a5c"/>
<circle cx="247.5" cy="78.0" r="1.2" fill="#6a2a5c"/>
<circle cx="248.9" cy="77.9" r="1.2" fill="#6a2a5c"/>
<circle cx="237.3" cy="79.6" r="1.2" fill="#6a2a5c"/>
<circle cx="239.0" cy="79.9" r="1.2" fill="#6a2a5c"/>
<circle cx="240.9" cy="79.4" r="1.2" fill="#6a2a5c"/>
<circle cx="243.2" cy="80.0" r="1.2" fill="#6a2a5c"/>
<circle cx="244.3" cy="79.5" r="1.2" fill="#6a2a5c"/>
<circle cx="245.8" cy="79.8" r="1.2" fill="#6a2a5c"/>
<circle cx="247.6" cy="79.3" r="1.2" fill="#6a2a5c"/>
<circle cx="235.4" cy="81.7" r="1.2" fill="#6a2a5c"/>
<circle cx="236.9" cy="81.4" r="1.2" fill="#6a2a5c"/>
<circle cx="238.4" cy="81.6" r="1.2" fill="#6a2a5c"/>
<circle cx="240.5" cy="81.6" r="1.2" fill="#6a2a5c"/>
<circle cx="242.0" cy="81.2" r="1.2" fill="#6a2a5c"/>
<circle cx="243.5" cy="81.7" r="1.2" fill="#6a2a5c"/>
<circle cx="245.0" cy="81.5" r="1.2" fill="#6a2a5c"/>
<circle cx="247.2" cy="80.9" r="1.2" fill="#6a2a5c"/>
<circle cx="248.7" cy="81.3" r="1.2" fill="#6a2a5c"/>
<circle cx="233.9" cy="82.6" r="1.2" fill="#6a2a5c"/>
<circle cx="235.7" cy="82.6" r="1.2" fill="#6a2a5c"/>
<circle cx="237.9" cy="83.0" r="1.2" fill="#6a2a5c"/>
<circle cx="239.2" cy="82.4" r="1.2" fill="#6a2a5c"/>
<circle cx="241.3" cy="83.1" r="1.2" fill="#6a2a5c"/>
<circle cx="242.9" cy="82.7" r="1.2" fill="#6a2a5c"/>
<circle cx="244.4" cy="82.4" r="1.2" fill="#6a2a5c"/>
<circle cx="246.5" cy="82.8" r="1.2" fill="#6a2a5c"/>
<circle cx="248.3" cy="83.0" r="1.2" fill="#6a2a5c"/>
<circle cx="233.8" cy="84.5" r="1.2" fill="#6a2a5c"/>
<circle cx="235.1" cy="84.1" r="1.2" fill="#6a2a5c"/>
<circle cx="236.7" cy="84.2" r="1.2" fill="#6a2a5c"/>
<circle cx="238.2" cy="83.9" r="1.2" fill="#6a2a5c"/>
<circle cx="240.3" cy="84.2" r="1.2" fill="#6a2a5c"/>
<circle cx="241.8" cy="84.7" r="1.2" fill="#6a2a5c"/>
<circle cx="243.7" cy="84.0" r="1.2" fill="#6a2a5c"/>
<circle cx="245.2" cy="84.1" r="1.2" fill="#6a2a5c"/>
<circle cx="246.9" cy="84.2" r="1.2" fill="#6a2a5c"/>
<circle cx="234.3" cy="85.6" r="1.2" fill="#6a2a5c"/>
<circle cx="236.0" cy="86.0" r="1.2" fill="#6a2a5c"/>
<circle cx="237.7" cy="85.7" r="1.2" fill="#6a2a5c"/>
<circle cx="239.3" cy="85.2" r="1.2" fill="#6a2a5c"/>
<circle cx="240.9" cy="85.9" r="1.2" fill="#6a2a5c"/>
<circle cx="243.0" cy="85.3" r="1.2" fill="#6a2a5c"/>
<circle cx="244.9" cy="85.3" r="1.2" fill="#6a2a5c"/>
<circle cx="246.3" cy="85.7" r="1.2" fill="#6a2a5c"/>
<circle cx="248.3" cy="85.8" r="1.2" fill="#6a2a5c"/>
<circle cx="235.4" cy="87.4" r="1.2" fill="#6a2a5c"/>
<circle cx="236.9" cy="86.7" r="1.2" fill="#6a2a5c"/>
<circle cx="238.7" cy="87.5" r="1.2" fill="#6a2a5c"/>
<circle cx="240.5" cy="87.1" r="1.2" fill="#6a2a5c"/>
<circle cx="242.1" cy="87.4" r="1.2" fill="#6a2a5c"/>
<circle cx="243.3" cy="87.4" r="1.2" fill="#6a2a5c"/>
<circle cx="245.6" cy="87.3" r="1.2" fill="#6a2a5c"/>
<circle cx="246.8" cy="87.7" r="1.2" fill="#6a2a5c"/>
<circle cx="238.1" cy="88.8" r="1.2" fill="#6a2a5c"/>
<circle cx="239.8" cy="88.8" r="1.2" fill="#6a2a5c"/>
<circle cx="241.0" cy="88.8" r="1.2" fill="#6a2a5c"/>
<circle cx="242.7" cy="89.0" r="1.2" fill="#6a2a5c"/>
<circle cx="245.0" cy="88.8" r="1.2" fill="#6a2a5c"/>
<circle cx="245.8" cy="88.9" r="1.2" fill="#6a2a5c"/>
<circle cx="240.3" cy="90.3" r="1.2" fill="#6a2a5c"/>
<circle cx="241.9" cy="90.6" r="1.2" fill="#6a2a5c"/>
<circle cx="243.9" cy="89.7" r="1.2" fill="#6a2a5c"/>
<circle cx="245.0" cy="89.7" r="1.2" fill="#6a2a5c"/>
<circle cx="247.0" cy="90.6" r="1.2" fill="#6a2a5c"/>
<circle cx="256.6" cy="67.1" r="1.05" fill="#d8122a"/>
<circle cx="256.5" cy="66.1" r="1.05" fill="#d8122a"/>
<circle cx="253.2" cy="68.5" r="1.05" fill="#d8122a"/>
<circle cx="254.4" cy="68.0" r="1.05" fill="#d8122a"/>
<circle cx="257.6" cy="68.2" r="1.05" fill="#d8122a"/>
<circle cx="255.3" cy="69.4" r="1.05" fill="#d8122a"/>
<circle cx="256.4" cy="70.1" r="1.05" fill="#d8122a"/>
<circle cx="249.2" cy="71.2" r="1.05" fill="#d8122a"/>
<circle cx="252.7" cy="70.9" r="1.05" fill="#d8122a"/>
<circle cx="255.6" cy="70.1" r="1.05" fill="#d8122a"/>
<circle cx="255.8" cy="71.1" r="1.05" fill="#d8122a"/>
<circle cx="251.2" cy="72.0" r="1.05" fill="#d8122a"/>
<circle cx="253.4" cy="72.2" r="1.05" fill="#d8122a"/>
<circle cx="253.8" cy="71.6" r="1.05" fill="#d8122a"/>
<circle cx="243.5" cy="73.3" r="1.05" fill="#d8122a"/>
<circle cx="245.9" cy="73.4" r="1.05" fill="#d8122a"/>
<circle cx="250.9" cy="72.5" r="1.05" fill="#d8122a"/>
<circle cx="252.2" cy="73.8" r="1.05" fill="#d8122a"/>
<circle cx="243.5" cy="74.2" r="1.05" fill="#d8122a"/>
<circle cx="243.7" cy="74.1" r="1.05" fill="#d8122a"/>
<circle cx="245.4" cy="75.3" r="1.05" fill="#d8122a"/>
<circle cx="248.4" cy="74.7" r="1.05" fill="#d8122a"/>
<circle cx="248.5" cy="75.6" r="1.05" fill="#d8122a"/>
<circle cx="251.3" cy="75.4" r="1.05" fill="#d8122a"/>
<circle cx="239.7" cy="76.5" r="1.05" fill="#d8122a"/>
<circle cx="241.9" cy="76.1" r="1.05" fill="#d8122a"/>
<circle cx="243.7" cy="76.6" r="1.05" fill="#d8122a"/>
<circle cx="245.1" cy="76.5" r="1.05" fill="#d8122a"/>
<circle cx="247.1" cy="75.7" r="1.05" fill="#d8122a"/>
<circle cx="249.4" cy="76.1" r="1.05" fill="#d8122a"/>
<circle cx="250.1" cy="75.4" r="1.05" fill="#d8122a"/>
<circle cx="241.9" cy="77.1" r="1.05" fill="#d8122a"/>
<circle cx="243.0" cy="78.1" r="1.05" fill="#d8122a"/>
<circle cx="245.5" cy="78.0" r="1.05" fill="#d8122a"/>
<circle cx="246.3" cy="77.8" r="1.05" fill="#d8122a"/>
<circle cx="248.5" cy="77.5" r="1.05" fill="#d8122a"/>
<circle cx="240.1" cy="79.7" r="1.05" fill="#d8122a"/>
<circle cx="241.9" cy="78.2" r="1.05" fill="#d8122a"/>
<circle cx="242.9" cy="78.4" r="1.05" fill="#d8122a"/>
<circle cx="248.2" cy="78.0" r="1.05" fill="#d8122a"/>
<circle cx="235.2" cy="80.5" r="1.05" fill="#d8122a"/>
<circle cx="236.7" cy="79.9" r="1.05" fill="#d8122a"/>
<circle cx="239.0" cy="79.8" r="1.05" fill="#d8122a"/>
<circle cx="240.8" cy="81.1" r="1.05" fill="#d8122a"/>
<circle cx="243.7" cy="80.5" r="1.05" fill="#d8122a"/>
<circle cx="244.3" cy="79.6" r="1.05" fill="#d8122a"/>
<circle cx="245.4" cy="81.1" r="1.05" fill="#d8122a"/>
<circle cx="247.5" cy="80.1" r="1.05" fill="#d8122a"/>
<circle cx="234.9" cy="81.5" r="1.05" fill="#d8122a"/>
<circle cx="237.9" cy="82.0" r="1.05" fill="#d8122a"/>
<circle cx="238.3" cy="82.2" r="1.05" fill="#d8122a"/>
<circle cx="240.3" cy="82.5" r="1.05" fill="#d8122a"/>
<circle cx="244.7" cy="81.1" r="1.05" fill="#d8122a"/>
<circle cx="245.3" cy="81.4" r="1.05" fill="#d8122a"/>
<circle cx="246.2" cy="80.8" r="1.05" fill="#d8122a"/>
<circle cx="233.3" cy="82.7" r="1.05" fill="#d8122a"/>
<circle cx="235.8" cy="82.8" r="1.05" fill="#d8122a"/>
<circle cx="237.5" cy="82.3" r="1.05" fill="#d8122a"/>
<circle cx="240.5" cy="83.8" r="1.05" fill="#d8122a"/>
<circle cx="244.2" cy="84.0" r="1.05" fill="#d8122a"/>
<circle cx="248.5" cy="83.3" r="1.05" fill="#d8122a"/>
<circle cx="236.2" cy="84.1" r="1.05" fill="#d8122a"/>
<circle cx="237.8" cy="85.0" r="1.05" fill="#d8122a"/>
<circle cx="238.1" cy="84.2" r="1.05" fill="#d8122a"/>
<circle cx="240.2" cy="85.0" r="1.05" fill="#d8122a"/>
<circle cx="241.7" cy="84.6" r="1.05" fill="#d8122a"/>
<circle cx="244.2" cy="85.4" r="1.05" fill="#d8122a"/>
<circle cx="244.8" cy="84.6" r="1.05" fill="#d8122a"/>
<circle cx="246.3" cy="84.5" r="1.05" fill="#d8122a"/>
<circle cx="235.8" cy="86.1" r="1.05" fill="#d8122a"/>
<circle cx="236.5" cy="85.5" r="1.05" fill="#d8122a"/>
<circle cx="237.2" cy="85.4" r="1.05" fill="#d8122a"/>
<circle cx="239.5" cy="86.1" r="1.05" fill="#d8122a"/>
<circle cx="241.2" cy="86.7" r="1.05" fill="#d8122a"/>
<circle cx="247.2" cy="86.5" r="1.05" fill="#d8122a"/>
<circle cx="237.0" cy="88.2" r="1.05" fill="#d8122a"/>
<circle cx="239.6" cy="87.4" r="1.05" fill="#d8122a"/>
<circle cx="246.0" cy="86.9" r="1.05" fill="#d8122a"/>
<circle cx="246.6" cy="87.5" r="1.05" fill="#d8122a"/>
<circle cx="248.3" cy="87.2" r="1.05" fill="#d8122a"/>
<circle cx="240.1" cy="88.5" r="1.05" fill="#d8122a"/>
<circle cx="242.3" cy="87.8" r="1.05" fill="#d8122a"/>
<circle cx="242.7" cy="89.1" r="1.05" fill="#d8122a"/>
<circle cx="243.7" cy="88.5" r="1.05" fill="#d8122a"/>
<circle cx="239.8" cy="90.3" r="1.05" fill="#d8122a"/>
<circle cx="242.4" cy="89.6" r="1.05" fill="#d8122a"/>
<circle cx="245.4" cy="89.4" r="1.05" fill="#d8122a"/>
<circle cx="264.5" cy="96.0" r="1.2" fill="#40e6d4"/>
<circle cx="252.0" cy="94.5" r="1.2" fill="#2a0c2e"/>
<circle cx="300.0" cy="80.0" r="1.2" fill="#2a0c2e"/>
<circle cx="257.0" cy="64.0" r="1.2" fill="#ffc800"/>
<circle cx="248.0" cy="69.0" r="1.2" fill="#ffc800"/>
<rect x="215.4" y="27" width="51.8" height="24.7" fill="#fff" stroke="#8a8a8a" stroke-width="0.5"/>
<circle cx="222.6" cy="30.4" r="1.2" fill="#d8122a"/>
<text x="229.10" y="32.10" font-size="4.85" text-anchor="start" fill="#111" stroke="#111" stroke-width="0.1">Control-48h</text>
<circle cx="222.6" cy="36.1" r="1.2" fill="#ffc800"/>
<text x="229.10" y="37.80" font-size="4.85" text-anchor="start" fill="#111" stroke="#111" stroke-width="0.1">BLM-50uM-48h</text>
<circle cx="222.6" cy="41.8" r="1.2" fill="#40e6d4"/>
<text x="229.10" y="43.50" font-size="4.85" text-anchor="start" fill="#111" stroke="#111" stroke-width="0.1">BLM-150uM-48h</text>
<circle cx="222.6" cy="47.5" r="1.2" fill="#2a0c2e"/>
<text x="229.10" y="49.20" font-size="4.85" text-anchor="start" fill="#111" stroke="#111" stroke-width="0.1">BLM-500uM-48h</text>
<g stroke="#3a3a3a" stroke-width="0.6" fill="none">
<line x1="32.30" y1="251.40" x2="32.30" y2="253.00"/>
<line x1="32.30" y1="157.00" x2="32.30" y2="155.40"/>
<line x1="39.86" y1="251.40" x2="39.86" y2="253.00"/>
<line x1="39.86" y1="157.00" x2="39.86" y2="155.40"/>
<line x1="47.43" y1="251.40" x2="47.43" y2="253.00"/>
<line x1="47.43" y1="157.00" x2="47.43" y2="155.40"/>
<line x1="54.99" y1="251.40" x2="54.99" y2="253.00"/>
<line x1="54.99" y1="157.00" x2="54.99" y2="155.40"/>
<line x1="62.56" y1="251.40" x2="62.56" y2="253.00"/>
<line x1="62.56" y1="157.00" x2="62.56" y2="155.40"/>
<line x1="70.12" y1="251.40" x2="70.12" y2="253.00"/>
<line x1="70.12" y1="157.00" x2="70.12" y2="155.40"/>
<line x1="77.69" y1="251.40" x2="77.69" y2="253.00"/>
<line x1="77.69" y1="157.00" x2="77.69" y2="155.40"/>
<line x1="85.25" y1="251.40" x2="85.25" y2="253.00"/>
<line x1="85.25" y1="157.00" x2="85.25" y2="155.40"/>
<line x1="92.82" y1="251.40" x2="92.82" y2="253.00"/>
<line x1="92.82" y1="157.00" x2="92.82" y2="155.40"/>
<line x1="100.38" y1="251.40" x2="100.38" y2="253.00"/>
<line x1="100.38" y1="157.00" x2="100.38" y2="155.40"/>
<line x1="107.95" y1="251.40" x2="107.95" y2="253.00"/>
<line x1="107.95" y1="157.00" x2="107.95" y2="155.40"/>
<line x1="115.51" y1="251.40" x2="115.51" y2="253.00"/>
<line x1="115.51" y1="157.00" x2="115.51" y2="155.40"/>
<line x1="123.08" y1="251.40" x2="123.08" y2="253.00"/>
<line x1="123.08" y1="157.00" x2="123.08" y2="155.40"/>
<line x1="130.64" y1="251.40" x2="130.64" y2="253.00"/>
<line x1="130.64" y1="157.00" x2="130.64" y2="155.40"/>
<line x1="138.21" y1="251.40" x2="138.21" y2="253.00"/>
<line x1="138.21" y1="157.00" x2="138.21" y2="155.40"/>
<line x1="145.77" y1="251.40" x2="145.77" y2="253.00"/>
<line x1="145.77" y1="157.00" x2="145.77" y2="155.40"/>
<line x1="153.34" y1="251.40" x2="153.34" y2="253.00"/>
<line x1="153.34" y1="157.00" x2="153.34" y2="155.40"/>
<line x1="160.90" y1="251.40" x2="160.90" y2="253.00"/>
<line x1="160.90" y1="157.00" x2="160.90" y2="155.40"/>
<line x1="32.30" y1="241.35" x2="30.70" y2="241.35"/>
<line x1="160.90" y1="241.35" x2="162.50" y2="241.35"/>
<line x1="32.30" y1="228.97" x2="30.70" y2="228.97"/>
<line x1="160.90" y1="228.97" x2="162.50" y2="228.97"/>
<line x1="32.30" y1="216.60" x2="30.70" y2="216.60"/>
<line x1="160.90" y1="216.60" x2="162.50" y2="216.60"/>
<line x1="32.30" y1="204.22" x2="30.70" y2="204.22"/>
<line x1="160.90" y1="204.22" x2="162.50" y2="204.22"/>
<line x1="32.30" y1="191.85" x2="30.70" y2="191.85"/>
<line x1="160.90" y1="191.85" x2="162.50" y2="191.85"/>
<line x1="32.30" y1="179.47" x2="30.70" y2="179.47"/>
<line x1="160.90" y1="179.47" x2="162.50" y2="179.47"/>
<line x1="32.30" y1="167.10" x2="30.70" y2="167.10"/>
<line x1="160.90" y1="167.10" x2="162.50" y2="167.10"/>
</g>
<path d="M32.0,217.1 L38.0,219.1 L41.0,221.1 L43.0,224.2 L46.3,231.9 L47.6,231.0 L50.0,219.1 L51.0,218.7 L53.0,225.1 L55.0,236.8 L57.3,242.4 L59.0,237.8 L61.0,230.2 L63.0,228.1 L65.0,226.1 L67.0,224.1 L70.0,222.1 L73.0,222.7 L77.0,219.1 L79.5,209.1 L81.5,189.1 L83.5,167.5 L84.4,165.2 L85.8,169.0 L87.2,187.1 L88.6,203.1 L90.2,205.1 L92.2,206.1 L94.6,210.1 L97.0,206.1 L99.0,200.1 L100.6,195.1 L103.0,194.1 L105.0,189.1 L106.6,188.1 L108.0,192.1 L110.0,198.1 L112.0,198.1 L115.0,196.1 L116.7,198.1 L118.7,207.1 L120.0,210.1 L121.5,209.5 L123.0,217.1 L125.0,215.1 L128.0,216.7 L130.7,218.7 L132.7,209.1 L134.1,215.1 L136.1,216.1 L140.1,209.1 L143.1,212.1 L145.1,215.1 L147.5,213.1 L149.2,215.1 L150.8,215.1 L151.8,195.1 L152.8,205.1 L153.6,218.1 L155.2,219.1 L157.2,218.1 L159.2,216.7 L160.8,219.1" fill="none" stroke="#1a1aff" stroke-width="1.3" stroke-linejoin="round" stroke-linecap="round"/>
<rect x="32.30" y="157.00" width="128.60" height="94.40" fill="none" stroke="#3a3a3a" stroke-width="1.1"/>
<text x="32.30" y="259.60" font-size="5.8" text-anchor="middle" fill="#1a1a1a" stroke="#1a1a1a" stroke-width="0.2">1800</text>
<text x="62.56" y="259.60" font-size="5.8" text-anchor="middle" fill="#1a1a1a" stroke="#1a1a1a" stroke-width="0.2">1600</text>
<text x="92.82" y="259.60" font-size="5.8" text-anchor="middle" fill="#1a1a1a" stroke="#1a1a1a" stroke-width="0.2">1400</text>
<text x="123.08" y="259.60" font-size="5.8" text-anchor="middle" fill="#1a1a1a" stroke="#1a1a1a" stroke-width="0.2">1200</text>
<text x="153.34" y="259.60" font-size="5.8" text-anchor="middle" fill="#1a1a1a" stroke="#1a1a1a" stroke-width="0.2">1000</text>
<text x="29.30" y="168.70" font-size="5.8" text-anchor="end" fill="#1a1a1a" stroke="#1a1a1a" stroke-width="0.2">0.2</text>
<text x="29.30" y="193.45" font-size="5.8" text-anchor="end" fill="#1a1a1a" stroke="#1a1a1a" stroke-width="0.2">0.1</text>
<text x="29.30" y="218.20" font-size="5.8" text-anchor="end" fill="#1a1a1a" stroke="#1a1a1a" stroke-width="0.2">0.0</text>
<text x="29.30" y="242.95" font-size="5.8" text-anchor="end" fill="#1a1a1a" stroke="#1a1a1a" stroke-width="0.2">&#8722;0.1</text>
<text x="93.90" y="151.80" font-size="8.4" font-weight="bold" text-anchor="middle" fill="#000">1st Principal Component (58.5%)</text>
<text x="59.60" y="268.50" font-size="8.25" font-weight="bold" text-anchor="start" fill="#000">Raman shift&#160;&#160;[cm<tspan font-size="5.3" dy="-3.1">&#8722;1</tspan><tspan dy="3.1">]</tspan></text>
<text x="13.60" y="204.20" font-size="8.4" font-weight="bold" text-anchor="middle" fill="#000" transform="rotate(-90 13.60 204.20)">Loadings [a.u.]</text>
<text x="51.30" y="213.20" font-size="5.9" font-weight="bold" text-anchor="middle" fill="#111" transform="rotate(-10 51.30 213.20)" stroke="#111" stroke-width="0.15">1678</text>
<text x="84.00" y="164.20" font-size="5.9" font-weight="bold" text-anchor="middle" fill="#111" transform="rotate(-10 84.00 164.20)" stroke="#111" stroke-width="0.15">1450</text>
<text x="107.40" y="186.10" font-size="5.9" font-weight="bold" text-anchor="middle" fill="#111" transform="rotate(-10 107.40 186.10)" stroke="#111" stroke-width="0.15">1315</text>
<text x="151.90" y="191.10" font-size="5.9" font-weight="bold" text-anchor="middle" fill="#111" transform="rotate(-10 151.90 191.10)" stroke="#111" stroke-width="0.15">1008</text>
<g stroke="#3a3a3a" stroke-width="0.6" fill="none">
<line x1="212.20" y1="249.70" x2="212.20" y2="251.30"/>
<line x1="212.20" y1="155.10" x2="212.20" y2="153.50"/>
<line x1="219.78" y1="249.70" x2="219.78" y2="251.30"/>
<line x1="219.78" y1="155.10" x2="219.78" y2="153.50"/>
<line x1="227.36" y1="249.70" x2="227.36" y2="251.30"/>
<line x1="227.36" y1="155.10" x2="227.36" y2="153.50"/>
<line x1="234.95" y1="249.70" x2="234.95" y2="251.30"/>
<line x1="234.95" y1="155.10" x2="234.95" y2="153.50"/>
<line x1="242.53" y1="249.70" x2="242.53" y2="251.30"/>
<line x1="242.53" y1="155.10" x2="242.53" y2="153.50"/>
<line x1="250.11" y1="249.70" x2="250.11" y2="251.30"/>
<line x1="250.11" y1="155.10" x2="250.11" y2="153.50"/>
<line x1="257.69" y1="249.70" x2="257.69" y2="251.30"/>
<line x1="257.69" y1="155.10" x2="257.69" y2="153.50"/>
<line x1="265.28" y1="249.70" x2="265.28" y2="251.30"/>
<line x1="265.28" y1="155.10" x2="265.28" y2="153.50"/>
<line x1="272.86" y1="249.70" x2="272.86" y2="251.30"/>
<line x1="272.86" y1="155.10" x2="272.86" y2="153.50"/>
<line x1="280.44" y1="249.70" x2="280.44" y2="251.30"/>
<line x1="280.44" y1="155.10" x2="280.44" y2="153.50"/>
<line x1="288.02" y1="249.70" x2="288.02" y2="251.30"/>
<line x1="288.02" y1="155.10" x2="288.02" y2="153.50"/>
<line x1="295.61" y1="249.70" x2="295.61" y2="251.30"/>
<line x1="295.61" y1="155.10" x2="295.61" y2="153.50"/>
<line x1="303.19" y1="249.70" x2="303.19" y2="251.30"/>
<line x1="303.19" y1="155.10" x2="303.19" y2="153.50"/>
<line x1="310.77" y1="249.70" x2="310.77" y2="251.30"/>
<line x1="310.77" y1="155.10" x2="310.77" y2="153.50"/>
<line x1="318.35" y1="249.70" x2="318.35" y2="251.30"/>
<line x1="318.35" y1="155.10" x2="318.35" y2="153.50"/>
<line x1="325.94" y1="249.70" x2="325.94" y2="251.30"/>
<line x1="325.94" y1="155.10" x2="325.94" y2="153.50"/>
<line x1="333.52" y1="249.70" x2="333.52" y2="251.30"/>
<line x1="333.52" y1="155.10" x2="333.52" y2="153.50"/>
<line x1="341.10" y1="249.70" x2="341.10" y2="251.30"/>
<line x1="341.10" y1="155.10" x2="341.10" y2="153.50"/>
<line x1="212.20" y1="240.40" x2="210.60" y2="240.40"/>
<line x1="341.10" y1="240.40" x2="342.70" y2="240.40"/>
<line x1="212.20" y1="228.75" x2="210.60" y2="228.75"/>
<line x1="341.10" y1="228.75" x2="342.70" y2="228.75"/>
<line x1="212.20" y1="217.10" x2="210.60" y2="217.10"/>
<line x1="341.10" y1="217.10" x2="342.70" y2="217.10"/>
<line x1="212.20" y1="205.45" x2="210.60" y2="205.45"/>
<line x1="341.10" y1="205.45" x2="342.70" y2="205.45"/>
<line x1="212.20" y1="193.80" x2="210.60" y2="193.80"/>
<line x1="341.10" y1="193.80" x2="342.70" y2="193.80"/>
<line x1="212.20" y1="182.15" x2="210.60" y2="182.15"/>
<line x1="341.10" y1="182.15" x2="342.70" y2="182.15"/>
<line x1="212.20" y1="170.50" x2="210.60" y2="170.50"/>
<line x1="341.10" y1="170.50" x2="342.70" y2="170.50"/>
<line x1="212.20" y1="158.85" x2="210.60" y2="158.85"/>
<line x1="341.10" y1="158.85" x2="342.70" y2="158.85"/>
</g>
<path d="M212.4,217.1 L216.0,218.1 L219.0,215.5 L221.0,217.1 L223.6,223.1 L226.0,229.5 L228.0,230.8 L230.0,226.1 L232.5,217.1 L234.0,221.1 L235.7,235.2 L237.1,241.2 L239.1,239.2 L241.1,234.2 L243.1,232.2 L244.5,229.5 L245.7,232.2 L247.1,228.1 L249.1,224.7 L252.1,223.1 L255.7,222.1 L258.1,220.1 L260.1,209.1 L262.1,185.1 L263.7,167.0 L265.2,163.0 L266.2,167.0 L267.8,189.1 L269.2,207.1 L271.2,209.1 L274.6,216.1 L277.4,211.1 L280.0,206.7 L282.0,206.1 L284.0,198.1 L285.4,191.1 L286.6,188.1 L288.0,192.1 L289.4,200.1 L291.4,198.7 L294.0,203.1 L296.0,208.1 L298.1,214.1 L300.1,213.5 L302.1,217.1 L304.1,218.7 L306.1,216.7 L309.1,217.5 L311.1,218.7 L312.7,209.5 L314.1,215.1 L316.1,216.1 L318.1,211.1 L320.1,206.7 L322.1,207.5 L324.1,214.1 L326.7,213.1 L328.8,216.1 L330.2,215.1 L331.6,205.5 L332.6,209.1 L333.6,219.5 L335.2,219.5 L337.6,218.7 L339.6,219.5 L340.8,221.1" fill="none" stroke="#1a1aff" stroke-width="1.3" stroke-linejoin="round" stroke-linecap="round"/>
<rect x="212.20" y="155.10" width="128.90" height="94.60" fill="none" stroke="#3a3a3a" stroke-width="1.1"/>
<text x="212.20" y="258.30" font-size="5.8" text-anchor="middle" fill="#1a1a1a" stroke="#1a1a1a" stroke-width="0.2">1800</text>
<text x="242.53" y="258.30" font-size="5.8" text-anchor="middle" fill="#1a1a1a" stroke="#1a1a1a" stroke-width="0.2">1600</text>
<text x="272.86" y="258.30" font-size="5.8" text-anchor="middle" fill="#1a1a1a" stroke="#1a1a1a" stroke-width="0.2">1400</text>
<text x="303.19" y="258.30" font-size="5.8" text-anchor="middle" fill="#1a1a1a" stroke="#1a1a1a" stroke-width="0.2">1200</text>
<text x="333.52" y="258.30" font-size="5.8" text-anchor="middle" fill="#1a1a1a" stroke="#1a1a1a" stroke-width="0.2">1000</text>
<text x="209.20" y="172.10" font-size="5.8" text-anchor="end" fill="#1a1a1a" stroke="#1a1a1a" stroke-width="0.2">0.2</text>
<text x="209.20" y="195.40" font-size="5.8" text-anchor="end" fill="#1a1a1a" stroke="#1a1a1a" stroke-width="0.2">0.1</text>
<text x="209.20" y="218.70" font-size="5.8" text-anchor="end" fill="#1a1a1a" stroke="#1a1a1a" stroke-width="0.2">0.0</text>
<text x="209.20" y="242.00" font-size="5.8" text-anchor="end" fill="#1a1a1a" stroke="#1a1a1a" stroke-width="0.2">&#8722;0.1</text>
<text x="275.70" y="151.50" font-size="8.4" font-weight="bold" text-anchor="middle" fill="#000">1st Principal Component (52.4%)</text>
<text x="239.60" y="270.00" font-size="8.25" font-weight="bold" text-anchor="start" fill="#000">Raman shift&#160;&#160;[cm<tspan font-size="5.3" dy="-3.1">&#8722;1</tspan><tspan dy="3.1">]</tspan></text>
<text x="194.70" y="202.40" font-size="8.4" font-weight="bold" text-anchor="middle" fill="#000" transform="rotate(-90 194.70 202.40)">Loadings [a.u.]</text>
<text x="233.40" y="213.40" font-size="5.9" font-weight="bold" text-anchor="middle" fill="#111" transform="rotate(-10 233.40 213.40)" stroke="#111" stroke-width="0.15">1678</text>
<text x="267.30" y="162.60" font-size="5.9" font-weight="bold" text-anchor="middle" fill="#111" transform="rotate(-10 267.30 162.60)" stroke="#111" stroke-width="0.15">1450</text>
<text x="287.40" y="187.30" font-size="5.9" font-weight="bold" text-anchor="middle" fill="#111" transform="rotate(-10 287.40 187.30)" stroke="#111" stroke-width="0.15">1315</text>
<text x="332.20" y="201.60" font-size="5.9" font-weight="bold" text-anchor="middle" fill="#111" transform="rotate(-10 332.20 201.60)" stroke="#111" stroke-width="0.15">1008</text>
<g stroke="#3a3a3a" stroke-width="0.6" fill="none">
<line x1="32.30" y1="388.00" x2="32.30" y2="389.60"/>
<line x1="32.30" y1="293.30" x2="32.30" y2="291.70"/>
<line x1="39.86" y1="388.00" x2="39.86" y2="389.60"/>
<line x1="39.86" y1="293.30" x2="39.86" y2="291.70"/>
<line x1="47.43" y1="388.00" x2="47.43" y2="389.60"/>
<line x1="47.43" y1="293.30" x2="47.43" y2="291.70"/>
<line x1="54.99" y1="388.00" x2="54.99" y2="389.60"/>
<line x1="54.99" y1="293.30" x2="54.99" y2="291.70"/>
<line x1="62.56" y1="388.00" x2="62.56" y2="389.60"/>
<line x1="62.56" y1="293.30" x2="62.56" y2="291.70"/>
<line x1="70.12" y1="388.00" x2="70.12" y2="389.60"/>
<line x1="70.12" y1="293.30" x2="70.12" y2="291.70"/>
<line x1="77.69" y1="388.00" x2="77.69" y2="389.60"/>
<line x1="77.69" y1="293.30" x2="77.69" y2="291.70"/>
<line x1="85.25" y1="388.00" x2="85.25" y2="389.60"/>
<line x1="85.25" y1="293.30" x2="85.25" y2="291.70"/>
<line x1="92.82" y1="388.00" x2="92.82" y2="389.60"/>
<line x1="92.82" y1="293.30" x2="92.82" y2="291.70"/>
<line x1="100.38" y1="388.00" x2="100.38" y2="389.60"/>
<line x1="100.38" y1="293.30" x2="100.38" y2="291.70"/>
<line x1="107.95" y1="388.00" x2="107.95" y2="389.60"/>
<line x1="107.95" y1="293.30" x2="107.95" y2="291.70"/>
<line x1="115.51" y1="388.00" x2="115.51" y2="389.60"/>
<line x1="115.51" y1="293.30" x2="115.51" y2="291.70"/>
<line x1="123.08" y1="388.00" x2="123.08" y2="389.60"/>
<line x1="123.08" y1="293.30" x2="123.08" y2="291.70"/>
<line x1="130.64" y1="388.00" x2="130.64" y2="389.60"/>
<line x1="130.64" y1="293.30" x2="130.64" y2="291.70"/>
<line x1="138.21" y1="388.00" x2="138.21" y2="389.60"/>
<line x1="138.21" y1="293.30" x2="138.21" y2="291.70"/>
<line x1="145.77" y1="388.00" x2="145.77" y2="389.60"/>
<line x1="145.77" y1="293.30" x2="145.77" y2="291.70"/>
<line x1="153.34" y1="388.00" x2="153.34" y2="389.60"/>
<line x1="153.34" y1="293.30" x2="153.34" y2="291.70"/>
<line x1="160.90" y1="388.00" x2="160.90" y2="389.60"/>
<line x1="160.90" y1="293.30" x2="160.90" y2="291.70"/>
<line x1="32.30" y1="380.97" x2="30.70" y2="380.97"/>
<line x1="160.90" y1="380.97" x2="162.50" y2="380.97"/>
<line x1="32.30" y1="371.45" x2="30.70" y2="371.45"/>
<line x1="160.90" y1="371.45" x2="162.50" y2="371.45"/>
<line x1="32.30" y1="361.92" x2="30.70" y2="361.92"/>
<line x1="160.90" y1="361.92" x2="162.50" y2="361.92"/>
<line x1="32.30" y1="352.40" x2="30.70" y2="352.40"/>
<line x1="160.90" y1="352.40" x2="162.50" y2="352.40"/>
<line x1="32.30" y1="342.88" x2="30.70" y2="342.88"/>
<line x1="160.90" y1="342.88" x2="162.50" y2="342.88"/>
<line x1="32.30" y1="333.35" x2="30.70" y2="333.35"/>
<line x1="160.90" y1="333.35" x2="162.50" y2="333.35"/>
<line x1="32.30" y1="323.82" x2="30.70" y2="323.82"/>
<line x1="160.90" y1="323.82" x2="162.50" y2="323.82"/>
<line x1="32.30" y1="314.30" x2="30.70" y2="314.30"/>
<line x1="160.90" y1="314.30" x2="162.50" y2="314.30"/>
<line x1="32.30" y1="304.77" x2="30.70" y2="304.77"/>
<line x1="160.90" y1="304.77" x2="162.50" y2="304.77"/>
<line x1="32.30" y1="295.25" x2="30.70" y2="295.25"/>
<line x1="160.90" y1="295.25" x2="162.50" y2="295.25"/>
</g>
<path d="M32.0,351.1 L36.0,349.7 L39.0,345.1 L41.0,344.5 L43.0,348.1 L45.0,355.1 L47.6,366.2 L49.0,371.2 L50.5,366.2 L52.0,354.1 L53.7,349.1 L55.0,348.1 L56.0,343.1 L57.7,344.1 L59.1,345.1 L60.5,341.7 L62.1,340.1 L63.1,344.1 L64.5,360.1 L65.5,363.7 L66.5,354.1 L67.7,342.1 L69.1,339.7 L71.1,343.1 L73.1,346.5 L75.1,349.1 L77.1,355.1 L78.5,377.2 L79.7,374.2 L81.1,350.1 L83.1,338.1 L84.6,320.1 L85.8,303.0 L87.0,310.0 L88.2,334.1 L89.2,350.1 L90.6,348.1 L91.8,351.1 L93.2,355.1 L94.6,366.2 L95.4,371.2 L96.6,361.1 L98.0,362.1 L99.0,368.2 L100.6,378.2 L102.0,381.2 L103.4,374.2 L105.0,362.1 L106.6,350.1 L107.4,349.7 L108.6,354.1 L110.0,355.1 L112.0,366.2 L114.0,371.2 L116.1,368.2 L118.1,364.1 L120.1,361.1 L122.1,354.1 L124.1,352.1 L126.1,349.1 L128.1,348.1 L129.5,350.1 L131.1,347.1 L132.7,342.5 L134.1,344.1 L135.5,354.1 L137.1,367.2 L138.1,366.2 L139.5,352.1 L141.1,346.1 L142.7,342.1 L144.1,348.1 L146.1,349.1 L148.1,347.1 L149.6,350.1 L150.8,356.1 L152.2,348.1 L153.2,355.1 L154.8,352.1 L156.2,353.7 L158.2,350.5 L159.6,353.1 L160.8,352.1" fill="none" stroke="#1a1aff" stroke-width="1.3" stroke-linejoin="round" stroke-linecap="round"/>
<rect x="32.30" y="293.30" width="128.60" height="94.70" fill="none" stroke="#3a3a3a" stroke-width="1.1"/>
<text x="32.30" y="396.20" font-size="5.8" text-anchor="middle" fill="#1a1a1a" stroke="#1a1a1a" stroke-width="0.2">1800</text>
<text x="62.56" y="396.20" font-size="5.8" text-anchor="middle" fill="#1a1a1a" stroke="#1a1a1a" stroke-width="0.2">1600</text>
<text x="92.82" y="396.20" font-size="5.8" text-anchor="middle" fill="#1a1a1a" stroke="#1a1a1a" stroke-width="0.2">1400</text>
<text x="123.08" y="396.20" font-size="5.8" text-anchor="middle" fill="#1a1a1a" stroke="#1a1a1a" stroke-width="0.2">1200</text>
<text x="153.34" y="396.20" font-size="5.8" text-anchor="middle" fill="#1a1a1a" stroke="#1a1a1a" stroke-width="0.2">1000</text>
<text x="29.30" y="296.85" font-size="5.8" text-anchor="end" fill="#1a1a1a" stroke="#1a1a1a" stroke-width="0.2">0.3</text>
<text x="29.30" y="315.90" font-size="5.8" text-anchor="end" fill="#1a1a1a" stroke="#1a1a1a" stroke-width="0.2">0.2</text>
<text x="29.30" y="334.95" font-size="5.8" text-anchor="end" fill="#1a1a1a" stroke="#1a1a1a" stroke-width="0.2">0.1</text>
<text x="29.30" y="354.00" font-size="5.8" text-anchor="end" fill="#1a1a1a" stroke="#1a1a1a" stroke-width="0.2">0.0</text>
<text x="29.30" y="373.05" font-size="5.8" text-anchor="end" fill="#1a1a1a" stroke="#1a1a1a" stroke-width="0.2">&#8722;0.1</text>
<text x="93.75" y="288.50" font-size="8.4" font-weight="bold" text-anchor="middle" fill="#000">2nd Principal Component (14.1%)</text>
<text x="59.60" y="405.10" font-size="8.25" font-weight="bold" text-anchor="start" fill="#000">Raman shift&#160;&#160;[cm<tspan font-size="5.3" dy="-3.1">&#8722;1</tspan><tspan dy="3.1">]</tspan></text>
<text x="14.25" y="340.65" font-size="8.4" font-weight="bold" text-anchor="middle" fill="#000" transform="rotate(-90 14.25 340.65)">Loadings [a.u.]</text>
<text x="86.10" y="300.60" font-size="5.9" font-weight="bold" text-anchor="middle" fill="#111" transform="rotate(-10 86.10 300.60)" stroke="#111" stroke-width="0.15">1445</text>
<text x="79.50" y="383.80" font-size="5.9" font-weight="bold" text-anchor="middle" fill="#111" transform="rotate(-10 79.50 383.80)" stroke="#111" stroke-width="0.15">1494</text>
<text x="103.50" y="384.90" font-size="5.9" font-weight="bold" text-anchor="middle" fill="#111" transform="rotate(-10 103.50 384.90)" stroke="#111" stroke-width="0.15">1344</text>
<text x="139.50" y="339.70" font-size="5.9" font-weight="bold" text-anchor="middle" fill="#111" transform="rotate(-10 139.50 339.70)" stroke="#111" stroke-width="0.15">1085</text>
<text x="139.50" y="375.30" font-size="5.9" font-weight="bold" text-anchor="middle" fill="#111" transform="rotate(-10 139.50 375.30)" stroke="#111" stroke-width="0.15">1105</text>
<g stroke="#3a3a3a" stroke-width="0.6" fill="none">
<line x1="212.20" y1="388.00" x2="212.20" y2="389.60"/>
<line x1="212.20" y1="293.70" x2="212.20" y2="292.10"/>
<line x1="219.78" y1="388.00" x2="219.78" y2="389.60"/>
<line x1="219.78" y1="293.70" x2="219.78" y2="292.10"/>
<line x1="227.36" y1="388.00" x2="227.36" y2="389.60"/>
<line x1="227.36" y1="293.70" x2="227.36" y2="292.10"/>
<line x1="234.95" y1="388.00" x2="234.95" y2="389.60"/>
<line x1="234.95" y1="293.70" x2="234.95" y2="292.10"/>
<line x1="242.53" y1="388.00" x2="242.53" y2="389.60"/>
<line x1="242.53" y1="293.70" x2="242.53" y2="292.10"/>
<line x1="250.11" y1="388.00" x2="250.11" y2="389.60"/>
<line x1="250.11" y1="293.70" x2="250.11" y2="292.10"/>
<line x1="257.69" y1="388.00" x2="257.69" y2="389.60"/>
<line x1="257.69" y1="293.70" x2="257.69" y2="292.10"/>
<line x1="265.28" y1="388.00" x2="265.28" y2="389.60"/>
<line x1="265.28" y1="293.70" x2="265.28" y2="292.10"/>
<line x1="272.86" y1="388.00" x2="272.86" y2="389.60"/>
<line x1="272.86" y1="293.70" x2="272.86" y2="292.10"/>
<line x1="280.44" y1="388.00" x2="280.44" y2="389.60"/>
<line x1="280.44" y1="293.70" x2="280.44" y2="292.10"/>
<line x1="288.02" y1="388.00" x2="288.02" y2="389.60"/>
<line x1="288.02" y1="293.70" x2="288.02" y2="292.10"/>
<line x1="295.61" y1="388.00" x2="295.61" y2="389.60"/>
<line x1="295.61" y1="293.70" x2="295.61" y2="292.10"/>
<line x1="303.19" y1="388.00" x2="303.19" y2="389.60"/>
<line x1="303.19" y1="293.70" x2="303.19" y2="292.10"/>
<line x1="310.77" y1="388.00" x2="310.77" y2="389.60"/>
<line x1="310.77" y1="293.70" x2="310.77" y2="292.10"/>
<line x1="318.35" y1="388.00" x2="318.35" y2="389.60"/>
<line x1="318.35" y1="293.70" x2="318.35" y2="292.10"/>
<line x1="325.94" y1="388.00" x2="325.94" y2="389.60"/>
<line x1="325.94" y1="293.70" x2="325.94" y2="292.10"/>
<line x1="333.52" y1="388.00" x2="333.52" y2="389.60"/>
<line x1="333.52" y1="293.70" x2="333.52" y2="292.10"/>
<line x1="341.10" y1="388.00" x2="341.10" y2="389.60"/>
<line x1="341.10" y1="293.70" x2="341.10" y2="292.10"/>
<line x1="212.20" y1="384.30" x2="210.60" y2="384.30"/>
<line x1="341.10" y1="384.30" x2="342.70" y2="384.30"/>
<line x1="212.20" y1="375.07" x2="210.60" y2="375.07"/>
<line x1="341.10" y1="375.07" x2="342.70" y2="375.07"/>
<line x1="212.20" y1="365.85" x2="210.60" y2="365.85"/>
<line x1="341.10" y1="365.85" x2="342.70" y2="365.85"/>
<line x1="212.20" y1="356.62" x2="210.60" y2="356.62"/>
<line x1="341.10" y1="356.62" x2="342.70" y2="356.62"/>
<line x1="212.20" y1="347.40" x2="210.60" y2="347.40"/>
<line x1="341.10" y1="347.40" x2="342.70" y2="347.40"/>
<line x1="212.20" y1="338.17" x2="210.60" y2="338.17"/>
<line x1="341.10" y1="338.17" x2="342.70" y2="338.17"/>
<line x1="212.20" y1="328.95" x2="210.60" y2="328.95"/>
<line x1="341.10" y1="328.95" x2="342.70" y2="328.95"/>
<line x1="212.20" y1="319.72" x2="210.60" y2="319.72"/>
<line x1="341.10" y1="319.72" x2="342.70" y2="319.72"/>
<line x1="212.20" y1="310.50" x2="210.60" y2="310.50"/>
<line x1="341.10" y1="310.50" x2="342.70" y2="310.50"/>
<line x1="212.20" y1="301.27" x2="210.60" y2="301.27"/>
<line x1="341.10" y1="301.27" x2="342.70" y2="301.27"/>
</g>
<path d="M212.0,347.1 L215.0,346.5 L217.0,343.1 L219.0,338.1 L221.0,339.1 L223.0,344.1 L225.0,351.1 L227.0,360.1 L228.5,368.2 L229.7,372.2 L230.9,366.2 L231.7,350.1 L232.5,334.1 L233.3,323.7 L234.1,330.1 L235.1,341.1 L236.5,342.5 L238.1,341.1 L239.7,343.1 L241.1,340.1 L242.5,339.1 L243.7,343.1 L245.1,352.1 L246.5,348.1 L248.1,343.1 L250.1,341.1 L252.5,342.5 L255.1,346.1 L256.5,351.1 L257.7,358.1 L258.7,361.1 L260.1,356.1 L262.1,344.1 L263.8,330.1 L265.2,310.0 L266.2,306.0 L267.2,316.1 L268.2,339.1 L269.2,350.1 L271.2,352.1 L273.2,354.1 L275.2,360.1 L277.2,359.1 L278.2,364.1 L279.4,374.2 L281.0,381.2 L282.6,376.2 L284.0,366.2 L285.4,352.1 L287.0,342.1 L288.6,349.1 L290.6,350.1 L292.6,358.1 L294.7,366.2 L296.3,367.2 L298.1,362.1 L299.5,359.1 L301.1,360.1 L302.7,352.1 L304.1,349.1 L305.5,350.1 L307.1,347.1 L309.1,346.1 L311.1,347.1 L312.7,349.1 L314.1,343.1 L315.1,346.1 L316.7,355.1 L317.7,356.1 L319.1,346.1 L320.7,339.1 L322.1,338.1 L323.5,341.1 L325.1,345.1 L326.7,347.1 L328.1,348.1 L329.6,352.1 L330.8,364.1 L331.6,372.2 L332.8,354.1 L334.2,349.1 L336.2,343.7 L337.6,345.1 L339.2,348.1 L340.8,350.1" fill="none" stroke="#1a1aff" stroke-width="1.3" stroke-linejoin="round" stroke-linecap="round"/>
<rect x="212.20" y="293.70" width="128.90" height="94.30" fill="none" stroke="#3a3a3a" stroke-width="1.1"/>
<text x="212.20" y="396.20" font-size="5.8" text-anchor="middle" fill="#1a1a1a" stroke="#1a1a1a" stroke-width="0.2">1800</text>
<text x="242.53" y="396.20" font-size="5.8" text-anchor="middle" fill="#1a1a1a" stroke="#1a1a1a" stroke-width="0.2">1600</text>
<text x="272.86" y="396.20" font-size="5.8" text-anchor="middle" fill="#1a1a1a" stroke="#1a1a1a" stroke-width="0.2">1400</text>
<text x="303.19" y="396.20" font-size="5.8" text-anchor="middle" fill="#1a1a1a" stroke="#1a1a1a" stroke-width="0.2">1200</text>
<text x="333.52" y="396.20" font-size="5.8" text-anchor="middle" fill="#1a1a1a" stroke="#1a1a1a" stroke-width="0.2">1000</text>
<text x="209.20" y="312.10" font-size="5.8" text-anchor="end" fill="#1a1a1a" stroke="#1a1a1a" stroke-width="0.2">0.2</text>
<text x="209.20" y="330.55" font-size="5.8" text-anchor="end" fill="#1a1a1a" stroke="#1a1a1a" stroke-width="0.2">0.1</text>
<text x="209.20" y="349.00" font-size="5.8" text-anchor="end" fill="#1a1a1a" stroke="#1a1a1a" stroke-width="0.2">0.0</text>
<text x="209.20" y="367.45" font-size="5.8" text-anchor="end" fill="#1a1a1a" stroke="#1a1a1a" stroke-width="0.2">&#8722;0.1</text>
<text x="209.20" y="385.90" font-size="5.8" text-anchor="end" fill="#1a1a1a" stroke="#1a1a1a" stroke-width="0.2">&#8722;0.2</text>
<text x="275.80" y="288.50" font-size="8.4" font-weight="bold" text-anchor="middle" fill="#000">2nd Principal Component (16.3%)</text>
<text x="239.60" y="407.70" font-size="8.25" font-weight="bold" text-anchor="start" fill="#000">Raman shift&#160;&#160;[cm<tspan font-size="5.3" dy="-3.1">&#8722;1</tspan><tspan dy="3.1">]</tspan></text>
<text x="194.70" y="340.85" font-size="8.4" font-weight="bold" text-anchor="middle" fill="#000" transform="rotate(-90 194.70 340.85)">Loadings [a.u.]</text>
<text x="264.20" y="302.90" font-size="5.9" font-weight="bold" text-anchor="middle" fill="#111" transform="rotate(-10 264.20 302.90)" stroke="#111" stroke-width="0.15">1445</text>
<text x="259.10" y="367.50" font-size="5.9" font-weight="bold" text-anchor="middle" fill="#111" transform="rotate(-10 259.10 367.50)" stroke="#111" stroke-width="0.15">1494</text>
<text x="281.60" y="386.10" font-size="5.9" font-weight="bold" text-anchor="middle" fill="#111" transform="rotate(-10 281.60 386.10)" stroke="#111" stroke-width="0.15">1344</text>
<text x="319.50" y="335.80" font-size="5.9" font-weight="bold" text-anchor="middle" fill="#111" transform="rotate(-10 319.50 335.80)" stroke="#111" stroke-width="0.15">1085</text>
<text x="318.30" y="365.60" font-size="5.9" font-weight="bold" text-anchor="middle" fill="#111" transform="rotate(-10 318.30 365.60)" stroke="#111" stroke-width="0.15">1105</text>
<g stroke="#3a3a3a" stroke-width="0.6" fill="none">
<line x1="32.30" y1="524.50" x2="32.30" y2="526.10"/>
<line x1="32.30" y1="430.20" x2="32.30" y2="428.60"/>
<line x1="39.86" y1="524.50" x2="39.86" y2="526.10"/>
<line x1="39.86" y1="430.20" x2="39.86" y2="428.60"/>
<line x1="47.43" y1="524.50" x2="47.43" y2="526.10"/>
<line x1="47.43" y1="430.20" x2="47.43" y2="428.60"/>
<line x1="54.99" y1="524.50" x2="54.99" y2="526.10"/>
<line x1="54.99" y1="430.20" x2="54.99" y2="428.60"/>
<line x1="62.56" y1="524.50" x2="62.56" y2="526.10"/>
<line x1="62.56" y1="430.20" x2="62.56" y2="428.60"/>
<line x1="70.12" y1="524.50" x2="70.12" y2="526.10"/>
<line x1="70.12" y1="430.20" x2="70.12" y2="428.60"/>
<line x1="77.69" y1="524.50" x2="77.69" y2="526.10"/>
<line x1="77.69" y1="430.20" x2="77.69" y2="428.60"/>
<line x1="85.25" y1="524.50" x2="85.25" y2="526.10"/>
<line x1="85.25" y1="430.20" x2="85.25" y2="428.60"/>
<line x1="92.82" y1="524.50" x2="92.82" y2="526.10"/>
<line x1="92.82" y1="430.20" x2="92.82" y2="428.60"/>
<line x1="100.38" y1="524.50" x2="100.38" y2="526.10"/>
<line x1="100.38" y1="430.20" x2="100.38" y2="428.60"/>
<line x1="107.95" y1="524.50" x2="107.95" y2="526.10"/>
<line x1="107.95" y1="430.20" x2="107.95" y2="428.60"/>
<line x1="115.51" y1="524.50" x2="115.51" y2="526.10"/>
<line x1="115.51" y1="430.20" x2="115.51" y2="428.60"/>
<line x1="123.08" y1="524.50" x2="123.08" y2="526.10"/>
<line x1="123.08" y1="430.20" x2="123.08" y2="428.60"/>
<line x1="130.64" y1="524.50" x2="130.64" y2="526.10"/>
<line x1="130.64" y1="430.20" x2="130.64" y2="428.60"/>
<line x1="138.21" y1="524.50" x2="138.21" y2="526.10"/>
<line x1="138.21" y1="430.20" x2="138.21" y2="428.60"/>
<line x1="145.77" y1="524.50" x2="145.77" y2="526.10"/>
<line x1="145.77" y1="430.20" x2="145.77" y2="428.60"/>
<line x1="153.34" y1="524.50" x2="153.34" y2="526.10"/>
<line x1="153.34" y1="430.20" x2="153.34" y2="428.60"/>
<line x1="160.90" y1="524.50" x2="160.90" y2="526.10"/>
<line x1="160.90" y1="430.20" x2="160.90" y2="428.60"/>
<line x1="32.30" y1="516.50" x2="30.70" y2="516.50"/>
<line x1="160.90" y1="516.50" x2="162.50" y2="516.50"/>
<line x1="32.30" y1="505.70" x2="30.70" y2="505.70"/>
<line x1="160.90" y1="505.70" x2="162.50" y2="505.70"/>
<line x1="32.30" y1="494.90" x2="30.70" y2="494.90"/>
<line x1="160.90" y1="494.90" x2="162.50" y2="494.90"/>
<line x1="32.30" y1="484.10" x2="30.70" y2="484.10"/>
<line x1="160.90" y1="484.10" x2="162.50" y2="484.10"/>
<line x1="32.30" y1="473.30" x2="30.70" y2="473.30"/>
<line x1="160.90" y1="473.30" x2="162.50" y2="473.30"/>
<line x1="32.30" y1="462.50" x2="30.70" y2="462.50"/>
<line x1="160.90" y1="462.50" x2="162.50" y2="462.50"/>
<line x1="32.30" y1="451.70" x2="30.70" y2="451.70"/>
<line x1="160.90" y1="451.70" x2="162.50" y2="451.70"/>
<line x1="32.30" y1="440.90" x2="30.70" y2="440.90"/>
<line x1="160.90" y1="440.90" x2="162.50" y2="440.90"/>
<line x1="32.30" y1="430.10" x2="30.70" y2="430.10"/>
<line x1="160.90" y1="430.10" x2="162.50" y2="430.10"/>
</g>
<path d="M32.0,486.7 L34.0,488.7 L36.0,491.1 L38.0,494.1 L40.0,497.1 L41.6,496.1 L43.6,498.1 L45.0,502.2 L46.4,507.2 L48.0,505.2 L50.0,501.2 L51.0,485.1 L52.0,461.1 L53.3,442.0 L54.1,444.0 L55.1,463.1 L56.5,468.1 L57.7,474.1 L59.1,472.7 L60.5,478.1 L61.7,475.1 L63.1,473.1 L64.5,468.1 L65.7,471.1 L67.1,483.1 L68.5,482.1 L69.7,487.1 L71.1,492.1 L72.5,495.1 L74.1,493.1 L76.1,492.1 L77.7,491.1 L79.1,489.1 L80.1,498.1 L81.1,502.2 L82.5,497.1 L84.2,486.1 L85.8,471.1 L86.6,468.1 L87.8,478.1 L89.2,489.1 L90.6,493.1 L92.2,491.1 L93.8,490.1 L95.8,485.1 L96.6,487.1 L98.0,488.7 L99.4,485.1 L100.6,475.1 L101.4,469.1 L102.6,476.7 L104.0,480.1 L105.4,478.1 L106.6,481.1 L108.0,474.1 L109.0,479.1 L110.6,477.1 L112.0,472.1 L113.1,469.1 L114.5,473.1 L116.1,478.1 L117.5,478.7 L118.7,484.1 L120.1,490.1 L121.1,481.1 L122.7,486.1 L124.1,489.1 L125.5,491.1 L126.7,488.1 L128.1,490.1 L129.5,487.1 L130.7,491.1 L131.9,500.2 L133.1,489.1 L134.3,493.1 L135.5,499.2 L136.7,491.1 L138.1,493.1 L139.5,492.1 L141.1,496.1 L142.7,501.2 L144.1,498.1 L145.5,500.2 L146.7,503.2 L148.1,495.1 L149.6,500.2 L151.2,519.2 L152.2,490.1 L153.2,501.2 L154.8,498.1 L156.2,501.2 L157.6,496.1 L158.8,502.2 L160.2,499.2 L160.8,502.2" fill="none" stroke="#1a1aff" stroke-width="1.3" stroke-linejoin="round" stroke-linecap="round"/>
<rect x="32.30" y="430.20" width="128.60" height="94.30" fill="none" stroke="#3a3a3a" stroke-width="1.1"/>
<text x="32.30" y="532.70" font-size="5.8" text-anchor="middle" fill="#1a1a1a" stroke="#1a1a1a" stroke-width="0.2">1800</text>
<text x="62.56" y="532.70" font-size="5.8" text-anchor="middle" fill="#1a1a1a" stroke="#1a1a1a" stroke-width="0.2">1600</text>
<text x="92.82" y="532.70" font-size="5.8" text-anchor="middle" fill="#1a1a1a" stroke="#1a1a1a" stroke-width="0.2">1400</text>
<text x="123.08" y="532.70" font-size="5.8" text-anchor="middle" fill="#1a1a1a" stroke="#1a1a1a" stroke-width="0.2">1200</text>
<text x="153.34" y="532.70" font-size="5.8" text-anchor="middle" fill="#1a1a1a" stroke="#1a1a1a" stroke-width="0.2">1000</text>
<text x="29.30" y="442.50" font-size="5.8" text-anchor="end" fill="#1a1a1a" stroke="#1a1a1a" stroke-width="0.2">0.2</text>
<text x="29.30" y="464.10" font-size="5.8" text-anchor="end" fill="#1a1a1a" stroke="#1a1a1a" stroke-width="0.2">0.1</text>
<text x="29.30" y="485.70" font-size="5.8" text-anchor="end" fill="#1a1a1a" stroke="#1a1a1a" stroke-width="0.2">0.0</text>
<text x="29.30" y="507.30" font-size="5.8" text-anchor="end" fill="#1a1a1a" stroke="#1a1a1a" stroke-width="0.2">&#8722;0.1</text>
<text x="93.70" y="423.90" font-size="8.4" font-weight="bold" text-anchor="middle" fill="#000">3rd Principal Component (6.4%)</text>
<text x="59.60" y="542.00" font-size="8.25" font-weight="bold" text-anchor="start" fill="#000">Raman shift&#160;&#160;[cm<tspan font-size="5.3" dy="-3.1">&#8722;1</tspan><tspan dy="3.1">]</tspan></text>
<text x="14.00" y="477.35" font-size="8.4" font-weight="bold" text-anchor="middle" fill="#000" transform="rotate(-90 14.00 477.35)">Loadings [a.u.]</text>
<text x="99.50" y="468.00" font-size="5.9" font-weight="bold" text-anchor="middle" fill="#111" transform="rotate(-10 99.50 468.00)" stroke="#111" stroke-width="0.15">1340</text>
<text x="115.30" y="466.00" font-size="5.9" font-weight="bold" text-anchor="middle" fill="#111" transform="rotate(-10 115.30 466.00)" stroke="#111" stroke-width="0.15">1270</text>
<g stroke="#3a3a3a" stroke-width="0.6" fill="none">
<line x1="212.20" y1="522.60" x2="212.20" y2="524.20"/>
<line x1="212.20" y1="428.40" x2="212.20" y2="426.80"/>
<line x1="219.78" y1="522.60" x2="219.78" y2="524.20"/>
<line x1="219.78" y1="428.40" x2="219.78" y2="426.80"/>
<line x1="227.36" y1="522.60" x2="227.36" y2="524.20"/>
<line x1="227.36" y1="428.40" x2="227.36" y2="426.80"/>
<line x1="234.95" y1="522.60" x2="234.95" y2="524.20"/>
<line x1="234.95" y1="428.40" x2="234.95" y2="426.80"/>
<line x1="242.53" y1="522.60" x2="242.53" y2="524.20"/>
<line x1="242.53" y1="428.40" x2="242.53" y2="426.80"/>
<line x1="250.11" y1="522.60" x2="250.11" y2="524.20"/>
<line x1="250.11" y1="428.40" x2="250.11" y2="426.80"/>
<line x1="257.69" y1="522.60" x2="257.69" y2="524.20"/>
<line x1="257.69" y1="428.40" x2="257.69" y2="426.80"/>
<line x1="265.28" y1="522.60" x2="265.28" y2="524.20"/>
<line x1="265.28" y1="428.40" x2="265.28" y2="426.80"/>
<line x1="272.86" y1="522.60" x2="272.86" y2="524.20"/>
<line x1="272.86" y1="428.40" x2="272.86" y2="426.80"/>
<line x1="280.44" y1="522.60" x2="280.44" y2="524.20"/>
<line x1="280.44" y1="428.40" x2="280.44" y2="426.80"/>
<line x1="288.02" y1="522.60" x2="288.02" y2="524.20"/>
<line x1="288.02" y1="428.40" x2="288.02" y2="426.80"/>
<line x1="295.61" y1="522.60" x2="295.61" y2="524.20"/>
<line x1="295.61" y1="428.40" x2="295.61" y2="426.80"/>
<line x1="303.19" y1="522.60" x2="303.19" y2="524.20"/>
<line x1="303.19" y1="428.40" x2="303.19" y2="426.80"/>
<line x1="310.77" y1="522.60" x2="310.77" y2="524.20"/>
<line x1="310.77" y1="428.40" x2="310.77" y2="426.80"/>
<line x1="318.35" y1="522.60" x2="318.35" y2="524.20"/>
<line x1="318.35" y1="428.40" x2="318.35" y2="426.80"/>
<line x1="325.94" y1="522.60" x2="325.94" y2="524.20"/>
<line x1="325.94" y1="428.40" x2="325.94" y2="426.80"/>
<line x1="333.52" y1="522.60" x2="333.52" y2="524.20"/>
<line x1="333.52" y1="428.40" x2="333.52" y2="426.80"/>
<line x1="341.10" y1="522.60" x2="341.10" y2="524.20"/>
<line x1="341.10" y1="428.40" x2="341.10" y2="426.80"/>
<line x1="212.20" y1="522.54" x2="210.60" y2="522.54"/>
<line x1="341.10" y1="522.54" x2="342.70" y2="522.54"/>
<line x1="212.20" y1="512.33" x2="210.60" y2="512.33"/>
<line x1="341.10" y1="512.33" x2="342.70" y2="512.33"/>
<line x1="212.20" y1="502.11" x2="210.60" y2="502.11"/>
<line x1="341.10" y1="502.11" x2="342.70" y2="502.11"/>
<line x1="212.20" y1="491.90" x2="210.60" y2="491.90"/>
<line x1="341.10" y1="491.90" x2="342.70" y2="491.90"/>
<line x1="212.20" y1="481.69" x2="210.60" y2="481.69"/>
<line x1="341.10" y1="481.69" x2="342.70" y2="481.69"/>
<line x1="212.20" y1="471.47" x2="210.60" y2="471.47"/>
<line x1="341.10" y1="471.47" x2="342.70" y2="471.47"/>
<line x1="212.20" y1="461.25" x2="210.60" y2="461.25"/>
<line x1="341.10" y1="461.25" x2="342.70" y2="461.25"/>
<line x1="212.20" y1="451.04" x2="210.60" y2="451.04"/>
<line x1="341.10" y1="451.04" x2="342.70" y2="451.04"/>
<line x1="212.20" y1="440.82" x2="210.60" y2="440.82"/>
<line x1="341.10" y1="440.82" x2="342.70" y2="440.82"/>
<line x1="212.20" y1="430.61" x2="210.60" y2="430.61"/>
<line x1="341.10" y1="430.61" x2="342.70" y2="430.61"/>
</g>
<path d="M212.4,494.1 L215.0,495.5 L218.0,497.5 L221.0,499.5 L222.4,501.2 L224.0,499.5 L225.6,502.8 L227.0,504.2 L228.0,506.2 L229.0,504.8 L230.1,508.2 L231.1,489.1 L232.1,461.1 L233.1,440.0 L234.1,449.0 L235.1,475.1 L236.1,489.1 L237.7,495.1 L239.1,493.1 L240.1,499.1 L241.1,500.2 L242.5,494.1 L244.1,485.1 L245.1,476.7 L246.1,483.1 L247.7,495.1 L249.1,497.1 L250.5,497.5 L252.1,498.7 L253.1,499.1 L254.5,496.1 L256.1,494.1 L257.1,490.1 L258.1,478.1 L259.1,483.1 L260.1,497.1 L261.1,505.2 L262.1,509.2 L263.8,506.2 L265.2,498.1 L266.6,492.1 L267.8,491.1 L269.2,496.1 L270.6,503.2 L271.8,500.2 L273.2,494.1 L274.6,488.1 L275.8,486.7 L277.2,490.1 L278.2,495.1 L279.4,491.1 L280.6,483.1 L282.0,476.7 L283.0,483.1 L284.6,485.1 L286.0,483.1 L287.4,484.1 L289.0,482.1 L290.0,483.1 L291.4,473.1 L292.6,466.1 L294.1,473.1 L295.5,483.1 L297.1,485.1 L298.7,487.1 L300.1,494.1 L301.5,490.1 L303.1,494.1 L304.7,495.1 L306.1,497.1 L307.5,498.1 L309.1,495.1 L310.1,501.2 L311.1,507.2 L312.3,512.8 L313.5,505.2 L315.1,500.2 L316.5,495.1 L317.7,489.1 L319.1,494.1 L320.7,500.2 L322.1,507.2 L323.5,510.2 L324.7,508.2 L326.1,513.2 L327.1,516.2 L328.1,509.2 L329.6,507.2 L331.2,510.2 L332.8,501.2 L334.2,504.2 L335.6,500.2 L337.2,502.2 L338.2,499.2 L339.2,508.2 L340.8,511.2" fill="none" stroke="#1a1aff" stroke-width="1.3" stroke-linejoin="round" stroke-linecap="round"/>
<rect x="212.20" y="428.40" width="128.90" height="94.20" fill="none" stroke="#3a3a3a" stroke-width="1.1"/>
<text x="212.20" y="531.40" font-size="5.8" text-anchor="middle" fill="#1a1a1a" stroke="#1a1a1a" stroke-width="0.2">1800</text>
<text x="242.53" y="531.40" font-size="5.8" text-anchor="middle" fill="#1a1a1a" stroke="#1a1a1a" stroke-width="0.2">1600</text>
<text x="272.86" y="531.40" font-size="5.8" text-anchor="middle" fill="#1a1a1a" stroke="#1a1a1a" stroke-width="0.2">1400</text>
<text x="303.19" y="531.40" font-size="5.8" text-anchor="middle" fill="#1a1a1a" stroke="#1a1a1a" stroke-width="0.2">1200</text>
<text x="333.52" y="531.40" font-size="5.8" text-anchor="middle" fill="#1a1a1a" stroke="#1a1a1a" stroke-width="0.2">1000</text>
<text x="209.20" y="432.21" font-size="5.8" text-anchor="end" fill="#1a1a1a" stroke="#1a1a1a" stroke-width="0.2">0.3</text>
<text x="209.20" y="452.64" font-size="5.8" text-anchor="end" fill="#1a1a1a" stroke="#1a1a1a" stroke-width="0.2">0.2</text>
<text x="209.20" y="473.07" font-size="5.8" text-anchor="end" fill="#1a1a1a" stroke="#1a1a1a" stroke-width="0.2">0.1</text>
<text x="209.20" y="493.50" font-size="5.8" text-anchor="end" fill="#1a1a1a" stroke="#1a1a1a" stroke-width="0.2">0.0</text>
<text x="209.20" y="513.93" font-size="5.8" text-anchor="end" fill="#1a1a1a" stroke="#1a1a1a" stroke-width="0.2">&#8722;0.1</text>
<text x="273.50" y="423.90" font-size="8.4" font-weight="bold" text-anchor="middle" fill="#000">3rd Principal Component (4.5%)</text>
<text x="239.60" y="543.10" font-size="8.25" font-weight="bold" text-anchor="start" fill="#000">Raman shift&#160;&#160;[cm<tspan font-size="5.3" dy="-3.1">&#8722;1</tspan><tspan dy="3.1">]</tspan></text>
<text x="194.70" y="475.50" font-size="8.4" font-weight="bold" text-anchor="middle" fill="#000" transform="rotate(-90 194.70 475.50)">Loadings [a.u.]</text>
<text x="282.00" y="474.60" font-size="5.9" font-weight="bold" text-anchor="middle" fill="#111" transform="rotate(-10 282.00 474.60)" stroke="#111" stroke-width="0.15">1340</text>
<text x="293.00" y="461.00" font-size="5.9" font-weight="bold" text-anchor="middle" fill="#111" transform="rotate(-10 293.00 461.00)" stroke="#111" stroke-width="0.15">1270</text>
</svg></body></html>
